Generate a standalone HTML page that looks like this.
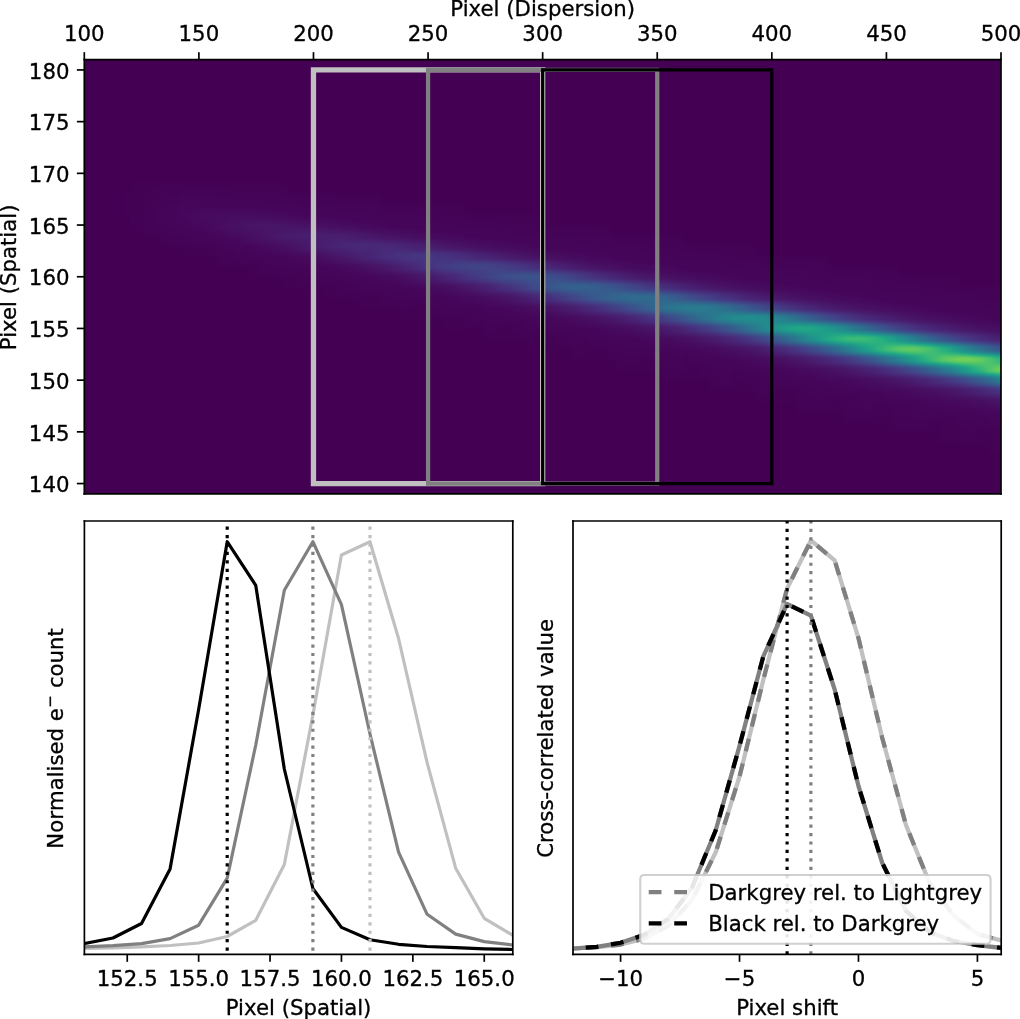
<!DOCTYPE html>
<html><head><meta charset="utf-8"><title>Spectrum</title>
<style>html,body{margin:0;padding:0;background:#fff;}svg{display:block;}</style>
</head><body>
<svg width="1020" height="1019" viewBox="0 0 480 479.529412">
<defs>
<style type="text/css">*{stroke-linejoin: round; stroke-linecap: butt} text{stroke:#000;stroke-width:0.15px;stroke-linejoin:round}</style>
</defs>
<g id="figure_1">
<g id="patch_1">
<path d="M 0 479.529412
L 480 479.529412
L 480 0
L 0 0
z
" style="fill: #ffffff"/>
</g>
<g id="axes_1">
<g id="patch_2">
<path d="M 39.670588 232.423529
L 471.058824 232.423529
L 471.058824 28.047059
L 39.670588 28.047059
z
" style="fill: #440154"/>
</g>
<g id="spec" clip-path="url(#pfa5c874147)"><g transform="scale(0.470588)"><rect x="80" y="55" width="925" height="443" fill="#440154"/><defs><filter id="bl" x="-5%" y="-5%" width="110%" height="110%" color-interpolation-filters="sRGB"><feGaussianBlur stdDeviation="1.5 0.6"/></filter><linearGradient id="g0" gradientUnits="userSpaceOnUse" x1="0" y1="194.03" x2="0" y2="214.71"><stop offset="0" stop-color="#440255"/><stop offset=".9913" stop-color="#440255"/></linearGradient><linearGradient id="g1" gradientUnits="userSpaceOnUse" x1="0" y1="183.69" x2="0" y2="225.05"><stop offset="0" stop-color="#440154"/><stop offset=".9913" stop-color="#440254"/></linearGradient><linearGradient id="g2" gradientUnits="userSpaceOnUse" x1="0" y1="183.69" x2="0" y2="225.05"><stop offset="0" stop-color="#440254"/><stop offset=".955" stop-color="#440255"/><stop offset=".9913" stop-color="#440255"/></linearGradient><linearGradient id="g3" gradientUnits="userSpaceOnUse" x1="0" y1="183.69" x2="0" y2="235.39"><stop offset="0" stop-color="#440254"/><stop offset=".6963" stop-color="#440256"/><stop offset=".9961" stop-color="#440154"/></linearGradient><linearGradient id="g4" gradientUnits="userSpaceOnUse" x1="0" y1="183.69" x2="0" y2="235.39"><stop offset="0" stop-color="#440254"/><stop offset=".677" stop-color="#450356"/><stop offset=".9961" stop-color="#440254"/></linearGradient><linearGradient id="g5" gradientUnits="userSpaceOnUse" x1="0" y1="183.69" x2="0" y2="235.39"><stop offset="0" stop-color="#440254"/><stop offset=".6673" stop-color="#450357"/><stop offset=".9961" stop-color="#440255"/></linearGradient><linearGradient id="g6" gradientUnits="userSpaceOnUse" x1="0" y1="183.69" x2="0" y2="235.39"><stop offset="0" stop-color="#440255"/><stop offset=".6576" stop-color="#450457"/><stop offset=".9961" stop-color="#440255"/></linearGradient><linearGradient id="g7" gradientUnits="userSpaceOnUse" x1="0" y1="183.69" x2="0" y2="245.73"><stop offset="0" stop-color="#440255"/><stop offset=".548" stop-color="#450558"/><stop offset=".9993" stop-color="#440154"/></linearGradient><linearGradient id="g8" gradientUnits="userSpaceOnUse" x1="0" y1="183.69" x2="0" y2="245.73"><stop offset="0" stop-color="#440255"/><stop offset=".5561" stop-color="#450559"/><stop offset=".9993" stop-color="#440254"/></linearGradient><linearGradient id="g9" gradientUnits="userSpaceOnUse" x1="0" y1="183.69" x2="0" y2="245.73"><stop offset="0" stop-color="#440255"/><stop offset=".5641" stop-color="#450659"/><stop offset=".9993" stop-color="#440254"/></linearGradient><linearGradient id="g10" gradientUnits="userSpaceOnUse" x1="0" y1="183.69" x2="0" y2="245.73"><stop offset="0" stop-color="#440255"/><stop offset=".5561" stop-color="#45065a"/><stop offset=".9993" stop-color="#440255"/></linearGradient><linearGradient id="g11" gradientUnits="userSpaceOnUse" x1="0" y1="183.69" x2="0" y2="245.73"><stop offset="0" stop-color="#440255"/><stop offset=".5561" stop-color="#46075b"/><stop offset=".9993" stop-color="#440255"/></linearGradient><linearGradient id="g12" gradientUnits="userSpaceOnUse" x1="0" y1="183.69" x2="0" y2="245.73"><stop offset="0" stop-color="#440255"/><stop offset=".4432" stop-color="#46085b"/><stop offset=".7334" stop-color="#450558"/><stop offset=".9993" stop-color="#440255"/></linearGradient><linearGradient id="g13" gradientUnits="userSpaceOnUse" x1="0" y1="183.69" x2="0" y2="256.07"><stop offset="0" stop-color="#440255"/><stop offset=".3523" stop-color="#46075b"/><stop offset=".4835" stop-color="#46085c"/><stop offset=".8773" stop-color="#440255"/><stop offset=".9947" stop-color="#440254"/></linearGradient><linearGradient id="g14" gradientUnits="userSpaceOnUse" x1="0" y1="183.69" x2="0" y2="256.07"><stop offset="0" stop-color="#440255"/><stop offset=".3454" stop-color="#46075b"/><stop offset=".4766" stop-color="#46095d"/><stop offset=".8773" stop-color="#440255"/><stop offset=".9947" stop-color="#440254"/></linearGradient><linearGradient id="g15" gradientUnits="userSpaceOnUse" x1="0" y1="183.69" x2="0" y2="256.07"><stop offset="0" stop-color="#440255"/><stop offset=".3316" stop-color="#46075a"/><stop offset=".4628" stop-color="#460a5d"/><stop offset=".8911" stop-color="#440255"/><stop offset=".9947" stop-color="#440254"/></linearGradient><linearGradient id="g16" gradientUnits="userSpaceOnUse" x1="0" y1="183.69" x2="0" y2="256.07"><stop offset="0" stop-color="#440255"/><stop offset=".3316" stop-color="#46075a"/><stop offset=".4559" stop-color="#460b5e"/><stop offset=".6493" stop-color="#45065a"/><stop offset=".9878" stop-color="#440255"/><stop offset=".9947" stop-color="#440255"/></linearGradient><linearGradient id="g17" gradientUnits="userSpaceOnUse" x1="0" y1="183.69" x2="0" y2="256.07"><stop offset="0" stop-color="#440255"/><stop offset=".3247" stop-color="#45065a"/><stop offset=".4559" stop-color="#460b5e"/><stop offset=".6355" stop-color="#46085b"/><stop offset=".9049" stop-color="#440255"/><stop offset=".9947" stop-color="#440255"/></linearGradient><linearGradient id="g18" gradientUnits="userSpaceOnUse" x1="0" y1="183.69" x2="0" y2="256.07"><stop offset="0" stop-color="#440255"/><stop offset=".3247" stop-color="#45065a"/><stop offset=".449" stop-color="#460b5e"/><stop offset=".6286" stop-color="#46095d"/><stop offset=".8496" stop-color="#450356"/><stop offset=".9947" stop-color="#440255"/></linearGradient><linearGradient id="g19" gradientUnits="userSpaceOnUse" x1="0" y1="183.69" x2="0" y2="256.07"><stop offset="0" stop-color="#440255"/><stop offset=".3247" stop-color="#450659"/><stop offset=".449" stop-color="#460b5e"/><stop offset=".6217" stop-color="#460b5e"/><stop offset=".8289" stop-color="#450356"/><stop offset=".9947" stop-color="#440255"/></linearGradient><linearGradient id="g20" gradientUnits="userSpaceOnUse" x1="0" y1="183.69" x2="0" y2="266.41"><stop offset="0" stop-color="#440254"/><stop offset=".2841" stop-color="#450659"/><stop offset=".3929" stop-color="#460b5f"/><stop offset=".5379" stop-color="#470c5f"/><stop offset=".7132" stop-color="#450457"/><stop offset=".9973" stop-color="#440254"/></linearGradient><linearGradient id="g21" gradientUnits="userSpaceOnUse" x1="0" y1="183.69" x2="0" y2="266.41"><stop offset="0" stop-color="#440254"/><stop offset=".2841" stop-color="#450659"/><stop offset=".3929" stop-color="#460b5f"/><stop offset=".5319" stop-color="#470d60"/><stop offset=".7313" stop-color="#450457"/><stop offset=".9973" stop-color="#440254"/></linearGradient><linearGradient id="g22" gradientUnits="userSpaceOnUse" x1="0" y1="183.69" x2="0" y2="266.41"><stop offset="0" stop-color="#440254"/><stop offset=".2841" stop-color="#450659"/><stop offset=".3929" stop-color="#460c5f"/><stop offset=".5258" stop-color="#470f62"/><stop offset=".7495" stop-color="#450457"/><stop offset=".9973" stop-color="#440254"/></linearGradient><linearGradient id="g23" gradientUnits="userSpaceOnUse" x1="0" y1="183.69" x2="0" y2="266.41"><stop offset="0" stop-color="#440254"/><stop offset=".2841" stop-color="#450659"/><stop offset=".3929" stop-color="#460c5f"/><stop offset=".5198" stop-color="#471063"/><stop offset=".7676" stop-color="#450458"/><stop offset=".9973" stop-color="#440255"/></linearGradient><linearGradient id="g24" gradientUnits="userSpaceOnUse" x1="0" y1="183.69" x2="0" y2="266.41"><stop offset="0" stop-color="#440254"/><stop offset=".2841" stop-color="#450559"/><stop offset=".5017" stop-color="#471264"/><stop offset=".7011" stop-color="#46075b"/><stop offset=".9671" stop-color="#440255"/><stop offset=".9973" stop-color="#440255"/></linearGradient><linearGradient id="g25" gradientUnits="userSpaceOnUse" x1="0" y1="183.69" x2="0" y2="266.41"><stop offset="0" stop-color="#440254"/><stop offset=".2901" stop-color="#450659"/><stop offset=".5077" stop-color="#471265"/><stop offset=".689" stop-color="#46095d"/><stop offset=".822" stop-color="#450457"/><stop offset=".9973" stop-color="#440255"/></linearGradient><linearGradient id="g26" gradientUnits="userSpaceOnUse" x1="0" y1="183.69" x2="0" y2="266.41"><stop offset="0" stop-color="#440254"/><stop offset=".2901" stop-color="#450659"/><stop offset=".5077" stop-color="#481366"/><stop offset=".683" stop-color="#460b5e"/><stop offset=".7616" stop-color="#45065a"/><stop offset=".9973" stop-color="#440255"/></linearGradient><linearGradient id="g27" gradientUnits="userSpaceOnUse" x1="0" y1="183.69" x2="0" y2="276.75"><stop offset="0" stop-color="#440254"/><stop offset=".2579" stop-color="#450559"/><stop offset=".3922" stop-color="#471062"/><stop offset=".4567" stop-color="#481466"/><stop offset=".6017" stop-color="#470d60"/><stop offset=".6716" stop-color="#46075b"/><stop offset=".8757" stop-color="#440255"/><stop offset=".9993" stop-color="#440254"/></linearGradient><linearGradient id="g28" gradientUnits="userSpaceOnUse" x1="0" y1="183.69" x2="0" y2="276.75"><stop offset="0" stop-color="#440254"/><stop offset=".2579" stop-color="#450559"/><stop offset=".3868" stop-color="#470f62"/><stop offset=".4513" stop-color="#481467"/><stop offset=".5964" stop-color="#470f62"/><stop offset=".6662" stop-color="#46085b"/><stop offset=".8542" stop-color="#440255"/><stop offset=".9993" stop-color="#440254"/></linearGradient><linearGradient id="g29" gradientUnits="userSpaceOnUse" x1="0" y1="183.69" x2="0" y2="276.75"><stop offset="0" stop-color="#440254"/><stop offset=".2633" stop-color="#450559"/><stop offset=".3815" stop-color="#470e61"/><stop offset=".4459" stop-color="#481467"/><stop offset=".591" stop-color="#471164"/><stop offset=".6662" stop-color="#46095c"/><stop offset=".822" stop-color="#450356"/><stop offset=".9993" stop-color="#440254"/></linearGradient><linearGradient id="g30" gradientUnits="userSpaceOnUse" x1="0" y1="183.69" x2="0" y2="276.75"><stop offset="0" stop-color="#440254"/><stop offset=".2633" stop-color="#450559"/><stop offset=".3761" stop-color="#470d60"/><stop offset=".4406" stop-color="#481567"/><stop offset=".5856" stop-color="#471365"/><stop offset=".6662" stop-color="#460a5e"/><stop offset=".8059" stop-color="#450457"/><stop offset=".9993" stop-color="#440255"/></linearGradient><linearGradient id="g31" gradientUnits="userSpaceOnUse" x1="0" y1="183.69" x2="0" y2="276.75"><stop offset="0" stop-color="#440254"/><stop offset=".2686" stop-color="#450559"/><stop offset=".3761" stop-color="#470d60"/><stop offset=".4406" stop-color="#481567"/><stop offset=".5802" stop-color="#481567"/><stop offset=".6662" stop-color="#460c5f"/><stop offset=".7951" stop-color="#450458"/><stop offset=".9993" stop-color="#440255"/></linearGradient><linearGradient id="g32" gradientUnits="userSpaceOnUse" x1="0" y1="183.69" x2="0" y2="276.75"><stop offset="0" stop-color="#440254"/><stop offset=".2686" stop-color="#450559"/><stop offset=".3707" stop-color="#460c5f"/><stop offset=".4406" stop-color="#481467"/><stop offset=".5749" stop-color="#481769"/><stop offset=".6662" stop-color="#470d60"/><stop offset=".7898" stop-color="#450558"/><stop offset=".9993" stop-color="#440255"/></linearGradient><linearGradient id="g33" gradientUnits="userSpaceOnUse" x1="0" y1="183.69" x2="0" y2="276.75"><stop offset="0" stop-color="#440254"/><stop offset=".2686" stop-color="#450558"/><stop offset=".3707" stop-color="#460b5f"/><stop offset=".4406" stop-color="#481467"/><stop offset=".5695" stop-color="#48186b"/><stop offset=".6662" stop-color="#470e61"/><stop offset=".7844" stop-color="#450659"/><stop offset=".9993" stop-color="#440255"/></linearGradient><linearGradient id="g34" gradientUnits="userSpaceOnUse" x1="0" y1="183.69" x2="0" y2="287.09"><stop offset="0" stop-color="#440254"/><stop offset=".2466" stop-color="#450559"/><stop offset=".3336" stop-color="#460b5e"/><stop offset=".3965" stop-color="#481466"/><stop offset=".5125" stop-color="#481a6c"/><stop offset=".5996" stop-color="#471063"/><stop offset=".706" stop-color="#45065a"/><stop offset=".9042" stop-color="#440255"/><stop offset=".9961" stop-color="#440254"/></linearGradient><linearGradient id="g35" gradientUnits="userSpaceOnUse" x1="0" y1="183.69" x2="0" y2="287.09"><stop offset="0" stop-color="#440154"/><stop offset=".2466" stop-color="#450558"/><stop offset=".3336" stop-color="#460a5e"/><stop offset=".3965" stop-color="#481366"/><stop offset=".5077" stop-color="#481b6d"/><stop offset=".6044" stop-color="#471164"/><stop offset=".7011" stop-color="#46075a"/><stop offset=".8945" stop-color="#440255"/><stop offset=".9961" stop-color="#440254"/></linearGradient><linearGradient id="g36" gradientUnits="userSpaceOnUse" x1="0" y1="194.03" x2="0" y2="287.09"><stop offset="0" stop-color="#440255"/><stop offset=".1773" stop-color="#450559"/><stop offset=".2579" stop-color="#460a5d"/><stop offset=".3277" stop-color="#471365"/><stop offset=".4029" stop-color="#48196b"/><stop offset=".462" stop-color="#481b6d"/><stop offset=".5588" stop-color="#481366"/><stop offset=".6662" stop-color="#46085b"/><stop offset=".8596" stop-color="#440255"/><stop offset=".9993" stop-color="#440254"/></linearGradient><linearGradient id="g37" gradientUnits="userSpaceOnUse" x1="0" y1="194.03" x2="0" y2="287.09"><stop offset="0" stop-color="#440255"/><stop offset=".1827" stop-color="#450559"/><stop offset=".2579" stop-color="#46095d"/><stop offset=".3277" stop-color="#471265"/><stop offset=".3922" stop-color="#48186a"/><stop offset=".4513" stop-color="#481d6e"/><stop offset=".6017" stop-color="#471163"/><stop offset=".6662" stop-color="#46095c"/><stop offset=".8274" stop-color="#450356"/><stop offset=".9993" stop-color="#440254"/></linearGradient><linearGradient id="g38" gradientUnits="userSpaceOnUse" x1="0" y1="194.03" x2="0" y2="287.09"><stop offset="0" stop-color="#440255"/><stop offset=".188" stop-color="#450559"/><stop offset=".2633" stop-color="#460a5d"/><stop offset=".3277" stop-color="#471164"/><stop offset=".3868" stop-color="#481769"/><stop offset=".4459" stop-color="#481d6f"/><stop offset=".5964" stop-color="#481366"/><stop offset=".6608" stop-color="#460a5d"/><stop offset=".8113" stop-color="#450457"/><stop offset=".9993" stop-color="#440255"/></linearGradient><linearGradient id="g39" gradientUnits="userSpaceOnUse" x1="0" y1="194.03" x2="0" y2="287.09"><stop offset="0" stop-color="#440255"/><stop offset=".2364" stop-color="#45065a"/><stop offset=".3331" stop-color="#471163"/><stop offset=".3922" stop-color="#48186a"/><stop offset=".4459" stop-color="#481e6f"/><stop offset=".591" stop-color="#481568"/><stop offset=".6608" stop-color="#460b5e"/><stop offset=".8005" stop-color="#450457"/><stop offset=".9993" stop-color="#440255"/></linearGradient><linearGradient id="g40" gradientUnits="userSpaceOnUse" x1="0" y1="194.03" x2="0" y2="287.09"><stop offset="0" stop-color="#440255"/><stop offset=".2418" stop-color="#45065a"/><stop offset=".3331" stop-color="#471063"/><stop offset=".3868" stop-color="#481769"/><stop offset=".4406" stop-color="#481e70"/><stop offset=".5856" stop-color="#48186a"/><stop offset=".6608" stop-color="#470c5f"/><stop offset=".7898" stop-color="#450558"/><stop offset=".9993" stop-color="#440255"/></linearGradient><linearGradient id="g41" gradientUnits="userSpaceOnUse" x1="0" y1="194.03" x2="0" y2="287.09"><stop offset="0" stop-color="#440255"/><stop offset=".2418" stop-color="#450659"/><stop offset=".3331" stop-color="#470f62"/><stop offset=".3868" stop-color="#481669"/><stop offset=".4406" stop-color="#481e70"/><stop offset=".5856" stop-color="#481a6c"/><stop offset=".6608" stop-color="#470e61"/><stop offset=".7898" stop-color="#450559"/><stop offset=".9993" stop-color="#440255"/></linearGradient><linearGradient id="g42" gradientUnits="userSpaceOnUse" x1="0" y1="194.03" x2="0" y2="287.09"><stop offset="0" stop-color="#440255"/><stop offset=".2471" stop-color="#45065a"/><stop offset=".3331" stop-color="#470e61"/><stop offset=".3815" stop-color="#481567"/><stop offset=".4352" stop-color="#481e6f"/><stop offset=".5802" stop-color="#481c6e"/><stop offset=".6608" stop-color="#470f62"/><stop offset=".7307" stop-color="#46095d"/><stop offset=".8059" stop-color="#450559"/><stop offset=".9993" stop-color="#440255"/></linearGradient><linearGradient id="g43" gradientUnits="userSpaceOnUse" x1="0" y1="194.03" x2="0" y2="297.43"><stop offset="0" stop-color="#440255"/><stop offset=".2224" stop-color="#450659"/><stop offset=".3046" stop-color="#470e61"/><stop offset=".3578" stop-color="#48186a"/><stop offset=".4013" stop-color="#481e6f"/><stop offset=".5174" stop-color="#481f70"/><stop offset=".5948" stop-color="#471164"/><stop offset=".6528" stop-color="#460b5e"/><stop offset=".706" stop-color="#45065a"/><stop offset=".9042" stop-color="#440255"/><stop offset=".9961" stop-color="#440254"/></linearGradient><linearGradient id="g44" gradientUnits="userSpaceOnUse" x1="0" y1="194.03" x2="0" y2="297.43"><stop offset="0" stop-color="#440255"/><stop offset=".2273" stop-color="#450659"/><stop offset=".3336" stop-color="#471164"/><stop offset=".3917" stop-color="#481d6f"/><stop offset=".5125" stop-color="#482172"/><stop offset=".5948" stop-color="#471365"/><stop offset=".6479" stop-color="#470d60"/><stop offset=".7011" stop-color="#46075b"/><stop offset=".8897" stop-color="#440255"/><stop offset=".9961" stop-color="#440254"/></linearGradient><linearGradient id="g45" gradientUnits="userSpaceOnUse" x1="0" y1="194.03" x2="0" y2="297.43"><stop offset="0" stop-color="#440255"/><stop offset=".2273" stop-color="#450659"/><stop offset=".3288" stop-color="#471062"/><stop offset=".3917" stop-color="#481d6e"/><stop offset=".5077" stop-color="#482374"/><stop offset=".5948" stop-color="#481567"/><stop offset=".6479" stop-color="#470f62"/><stop offset=".6963" stop-color="#46085b"/><stop offset=".8752" stop-color="#440255"/><stop offset=".9961" stop-color="#440254"/></linearGradient><linearGradient id="g46" gradientUnits="userSpaceOnUse" x1="0" y1="194.03" x2="0" y2="297.43"><stop offset="0" stop-color="#440254"/><stop offset=".2321" stop-color="#450659"/><stop offset=".3288" stop-color="#470f62"/><stop offset=".3917" stop-color="#481c6e"/><stop offset=".5077" stop-color="#482475"/><stop offset=".5948" stop-color="#481769"/><stop offset=".6431" stop-color="#471164"/><stop offset=".6963" stop-color="#46095c"/><stop offset=".8462" stop-color="#450356"/><stop offset=".9961" stop-color="#440254"/></linearGradient><linearGradient id="g47" gradientUnits="userSpaceOnUse" x1="0" y1="194.03" x2="0" y2="297.43"><stop offset="0" stop-color="#440254"/><stop offset=".2321" stop-color="#450559"/><stop offset=".3288" stop-color="#470e61"/><stop offset=".3917" stop-color="#481b6d"/><stop offset=".4497" stop-color="#482172"/><stop offset=".5029" stop-color="#482676"/><stop offset=".5609" stop-color="#481d6f"/><stop offset=".6431" stop-color="#481366"/><stop offset=".6963" stop-color="#460a5d"/><stop offset=".8268" stop-color="#450457"/><stop offset=".9961" stop-color="#440255"/></linearGradient><linearGradient id="g48" gradientUnits="userSpaceOnUse" x1="0" y1="194.03" x2="0" y2="297.43"><stop offset="0" stop-color="#440254"/><stop offset=".2369" stop-color="#450659"/><stop offset=".3288" stop-color="#470e60"/><stop offset=".3917" stop-color="#481a6c"/><stop offset=".44" stop-color="#481f70"/><stop offset=".498" stop-color="#482777"/><stop offset=".5512" stop-color="#482172"/><stop offset=".5996" stop-color="#481b6d"/><stop offset=".6431" stop-color="#481567"/><stop offset=".6963" stop-color="#460b5e"/><stop offset=".8172" stop-color="#450458"/><stop offset=".9961" stop-color="#440255"/></linearGradient><linearGradient id="g49" gradientUnits="userSpaceOnUse" x1="0" y1="194.03" x2="0" y2="297.43"><stop offset="0" stop-color="#440254"/><stop offset=".2369" stop-color="#450559"/><stop offset=".3288" stop-color="#470d60"/><stop offset=".3917" stop-color="#48196b"/><stop offset=".4352" stop-color="#481d6f"/><stop offset=".4932" stop-color="#482878"/><stop offset=".5416" stop-color="#482475"/><stop offset=".5996" stop-color="#481d6f"/><stop offset=".6431" stop-color="#481769"/><stop offset=".6915" stop-color="#470d60"/><stop offset=".8123" stop-color="#450558"/><stop offset=".9961" stop-color="#440255"/></linearGradient><linearGradient id="g50" gradientUnits="userSpaceOnUse" x1="0" y1="194.03" x2="0" y2="297.43"><stop offset="0" stop-color="#440254"/><stop offset=".2418" stop-color="#450559"/><stop offset=".3288" stop-color="#470c5f"/><stop offset=".3917" stop-color="#48186a"/><stop offset=".4352" stop-color="#481d6f"/><stop offset=".4932" stop-color="#482878"/><stop offset=".5512" stop-color="#482474"/><stop offset=".6334" stop-color="#481b6d"/><stop offset=".6915" stop-color="#470e61"/><stop offset=".764" stop-color="#46085b"/><stop offset=".9574" stop-color="#440255"/><stop offset=".9961" stop-color="#440255"/></linearGradient><linearGradient id="g51" gradientUnits="userSpaceOnUse" x1="0" y1="194.03" x2="0" y2="307.77"><stop offset="0" stop-color="#440254"/><stop offset=".2198" stop-color="#450559"/><stop offset=".2989" stop-color="#460b5f"/><stop offset=".3561" stop-color="#481769"/><stop offset=".3912" stop-color="#481b6d"/><stop offset=".444" stop-color="#482878"/><stop offset=".4967" stop-color="#482676"/><stop offset=".5715" stop-color="#481e70"/><stop offset=".6286" stop-color="#471062"/><stop offset=".6857" stop-color="#460a5d"/><stop offset=".7385" stop-color="#450659"/><stop offset=".9363" stop-color="#440255"/><stop offset=".9978" stop-color="#440254"/></linearGradient><linearGradient id="g52" gradientUnits="userSpaceOnUse" x1="0" y1="194.03" x2="0" y2="307.77"><stop offset="0" stop-color="#440254"/><stop offset=".2242" stop-color="#450559"/><stop offset=".2989" stop-color="#460b5e"/><stop offset=".3561" stop-color="#481668"/><stop offset=".3912" stop-color="#481a6c"/><stop offset=".444" stop-color="#482978"/><stop offset=".5099" stop-color="#482576"/><stop offset=".5715" stop-color="#482072"/><stop offset=".6286" stop-color="#471164"/><stop offset=".6813" stop-color="#460c5f"/><stop offset=".7297" stop-color="#45065a"/><stop offset=".9187" stop-color="#440255"/><stop offset=".9978" stop-color="#440254"/></linearGradient><linearGradient id="g53" gradientUnits="userSpaceOnUse" x1="0" y1="194.03" x2="0" y2="307.77"><stop offset="0" stop-color="#440254"/><stop offset=".2242" stop-color="#450558"/><stop offset=".2989" stop-color="#460a5d"/><stop offset=".3561" stop-color="#481567"/><stop offset=".3912" stop-color="#48196c"/><stop offset=".444" stop-color="#482878"/><stop offset=".5627" stop-color="#482475"/><stop offset=".6286" stop-color="#481366"/><stop offset=".677" stop-color="#470e61"/><stop offset=".7253" stop-color="#46075a"/><stop offset=".9099" stop-color="#440255"/><stop offset=".9978" stop-color="#440254"/></linearGradient><linearGradient id="g54" gradientUnits="userSpaceOnUse" x1="0" y1="194.03" x2="0" y2="307.77"><stop offset="0" stop-color="#440254"/><stop offset=".2286" stop-color="#450558"/><stop offset=".2989" stop-color="#46095d"/><stop offset=".3561" stop-color="#481466"/><stop offset=".3868" stop-color="#48176a"/><stop offset=".4396" stop-color="#482777"/><stop offset=".5583" stop-color="#482777"/><stop offset=".6286" stop-color="#481567"/><stop offset=".677" stop-color="#470f62"/><stop offset=".7253" stop-color="#46085b"/><stop offset=".8923" stop-color="#440255"/><stop offset=".9978" stop-color="#440254"/></linearGradient><linearGradient id="g55" gradientUnits="userSpaceOnUse" x1="0" y1="194.03" x2="0" y2="307.77"><stop offset="0" stop-color="#440254"/><stop offset=".2286" stop-color="#450558"/><stop offset=".3033" stop-color="#460a5d"/><stop offset=".3605" stop-color="#471365"/><stop offset=".3912" stop-color="#48186a"/><stop offset=".4396" stop-color="#482777"/><stop offset=".5583" stop-color="#482979"/><stop offset=".6286" stop-color="#481769"/><stop offset=".6726" stop-color="#471265"/><stop offset=".7209" stop-color="#46095c"/><stop offset=".8704" stop-color="#450356"/><stop offset=".9978" stop-color="#440255"/></linearGradient><linearGradient id="g56" gradientUnits="userSpaceOnUse" x1="0" y1="204.37" x2="0" y2="307.77"><stop offset="0" stop-color="#440255"/><stop offset=".2128" stop-color="#46065a"/><stop offset=".295" stop-color="#471264"/><stop offset=".3288" stop-color="#481668"/><stop offset=".3868" stop-color="#482677"/><stop offset=".5077" stop-color="#472c7b"/><stop offset=".5512" stop-color="#482273"/><stop offset=".5948" stop-color="#48196b"/><stop offset=".6383" stop-color="#481467"/><stop offset=".6963" stop-color="#460a5d"/><stop offset=".8317" stop-color="#450457"/><stop offset=".9961" stop-color="#440255"/></linearGradient><linearGradient id="g57" gradientUnits="userSpaceOnUse" x1="0" y1="204.37" x2="0" y2="307.77"><stop offset="0" stop-color="#440255"/><stop offset=".2176" stop-color="#46065a"/><stop offset=".295" stop-color="#471163"/><stop offset=".3288" stop-color="#481568"/><stop offset=".3868" stop-color="#482676"/><stop offset=".5077" stop-color="#472e7c"/><stop offset=".5561" stop-color="#482374"/><stop offset=".5948" stop-color="#481b6d"/><stop offset=".6383" stop-color="#481668"/><stop offset=".6915" stop-color="#460b5e"/><stop offset=".822" stop-color="#450457"/><stop offset=".9961" stop-color="#440255"/></linearGradient><linearGradient id="g58" gradientUnits="userSpaceOnUse" x1="0" y1="204.37" x2="0" y2="307.77"><stop offset="0" stop-color="#440255"/><stop offset=".2176" stop-color="#45065a"/><stop offset=".2998" stop-color="#471063"/><stop offset=".3336" stop-color="#481668"/><stop offset=".3868" stop-color="#482575"/><stop offset=".4497" stop-color="#472b7a"/><stop offset=".5029" stop-color="#46307e"/><stop offset=".5416" stop-color="#482979"/><stop offset=".5899" stop-color="#481e70"/><stop offset=".6334" stop-color="#48196b"/><stop offset=".6915" stop-color="#470c5f"/><stop offset=".8123" stop-color="#450558"/><stop offset=".9961" stop-color="#440255"/></linearGradient><linearGradient id="g59" gradientUnits="userSpaceOnUse" x1="0" y1="204.37" x2="0" y2="307.77"><stop offset="0" stop-color="#440255"/><stop offset=".2224" stop-color="#45065a"/><stop offset=".2998" stop-color="#470f62"/><stop offset=".3336" stop-color="#481567"/><stop offset=".3868" stop-color="#482374"/><stop offset=".44" stop-color="#482979"/><stop offset=".4932" stop-color="#46327e"/><stop offset=".5319" stop-color="#472e7c"/><stop offset=".5899" stop-color="#482072"/><stop offset=".6334" stop-color="#481c6d"/><stop offset=".6915" stop-color="#470e61"/><stop offset=".8075" stop-color="#450558"/><stop offset=".9961" stop-color="#440255"/></linearGradient><linearGradient id="g60" gradientUnits="userSpaceOnUse" x1="0" y1="204.37" x2="0" y2="318.11"><stop offset="0" stop-color="#440255"/><stop offset=".2022" stop-color="#450659"/><stop offset=".2725" stop-color="#470e61"/><stop offset=".3033" stop-color="#481466"/><stop offset=".3517" stop-color="#482273"/><stop offset=".3956" stop-color="#482878"/><stop offset=".4484" stop-color="#46337f"/><stop offset=".4835" stop-color="#472f7d"/><stop offset=".5363" stop-color="#482374"/><stop offset=".5715" stop-color="#481f71"/><stop offset=".6286" stop-color="#470f62"/><stop offset=".6901" stop-color="#46095c"/><stop offset=".7825" stop-color="#450457"/><stop offset=".9978" stop-color="#440254"/></linearGradient><linearGradient id="g61" gradientUnits="userSpaceOnUse" x1="0" y1="204.37" x2="0" y2="318.11"><stop offset="0" stop-color="#440255"/><stop offset=".2066" stop-color="#450659"/><stop offset=".2945" stop-color="#471063"/><stop offset=".3517" stop-color="#482172"/><stop offset=".3912" stop-color="#482676"/><stop offset=".444" stop-color="#463480"/><stop offset=".4791" stop-color="#46327f"/><stop offset=".5363" stop-color="#482676"/><stop offset=".5715" stop-color="#482273"/><stop offset=".6242" stop-color="#471164"/><stop offset=".6857" stop-color="#460b5e"/><stop offset=".7341" stop-color="#450659"/><stop offset=".9231" stop-color="#440255"/><stop offset=".9978" stop-color="#440254"/></linearGradient><linearGradient id="g62" gradientUnits="userSpaceOnUse" x1="0" y1="204.37" x2="0" y2="318.11"><stop offset="0" stop-color="#440255"/><stop offset=".2066" stop-color="#450659"/><stop offset=".2945" stop-color="#470f62"/><stop offset=".3517" stop-color="#481f71"/><stop offset=".3868" stop-color="#482374"/><stop offset=".444" stop-color="#463580"/><stop offset=".4791" stop-color="#46337f"/><stop offset=".5407" stop-color="#482878"/><stop offset=".5715" stop-color="#482475"/><stop offset=".6242" stop-color="#481366"/><stop offset=".6813" stop-color="#470d60"/><stop offset=".7297" stop-color="#46075a"/><stop offset=".9099" stop-color="#440255"/><stop offset=".9978" stop-color="#440254"/></linearGradient><linearGradient id="g63" gradientUnits="userSpaceOnUse" x1="0" y1="204.37" x2="0" y2="318.11"><stop offset="0" stop-color="#440255"/><stop offset=".211" stop-color="#450659"/><stop offset=".2945" stop-color="#470e61"/><stop offset=".3517" stop-color="#481e70"/><stop offset=".3868" stop-color="#482273"/><stop offset=".4396" stop-color="#463480"/><stop offset=".4747" stop-color="#463480"/><stop offset=".5451" stop-color="#472b7a"/><stop offset=".5758" stop-color="#482576"/><stop offset=".6242" stop-color="#481567"/><stop offset=".677" stop-color="#470f62"/><stop offset=".7253" stop-color="#46075b"/><stop offset=".9011" stop-color="#440255"/><stop offset=".9978" stop-color="#440254"/></linearGradient><linearGradient id="g64" gradientUnits="userSpaceOnUse" x1="0" y1="204.37" x2="0" y2="318.11"><stop offset="0" stop-color="#440255"/><stop offset=".211" stop-color="#450559"/><stop offset=".2945" stop-color="#470d60"/><stop offset=".3517" stop-color="#481c6e"/><stop offset=".3868" stop-color="#482172"/><stop offset=".4396" stop-color="#463480"/><stop offset=".4791" stop-color="#463580"/><stop offset=".5671" stop-color="#472b7a"/><stop offset=".6242" stop-color="#481769"/><stop offset=".677" stop-color="#471163"/><stop offset=".7253" stop-color="#46085c"/><stop offset=".8836" stop-color="#440255"/><stop offset=".9978" stop-color="#440255"/></linearGradient><linearGradient id="g65" gradientUnits="userSpaceOnUse" x1="0" y1="204.37" x2="0" y2="318.11"><stop offset="0" stop-color="#440255"/><stop offset=".2154" stop-color="#450559"/><stop offset=".2945" stop-color="#470d60"/><stop offset=".3517" stop-color="#481b6d"/><stop offset=".3868" stop-color="#482071"/><stop offset=".4396" stop-color="#463480"/><stop offset=".4835" stop-color="#463580"/><stop offset=".5627" stop-color="#472f7d"/><stop offset=".6242" stop-color="#48196b"/><stop offset=".6726" stop-color="#481366"/><stop offset=".7209" stop-color="#46095d"/><stop offset=".8572" stop-color="#450356"/><stop offset=".9978" stop-color="#440255"/></linearGradient><linearGradient id="g66" gradientUnits="userSpaceOnUse" x1="0" y1="204.37" x2="0" y2="318.11"><stop offset="0" stop-color="#440254"/><stop offset=".2198" stop-color="#450659"/><stop offset=".2945" stop-color="#460c5f"/><stop offset=".3517" stop-color="#48196c"/><stop offset=".3824" stop-color="#481d6f"/><stop offset=".4352" stop-color="#46327f"/><stop offset=".466" stop-color="#453580"/><stop offset=".5583" stop-color="#46327f"/><stop offset=".6022" stop-color="#482273"/><stop offset=".633" stop-color="#481a6c"/><stop offset=".6726" stop-color="#481568"/><stop offset=".7209" stop-color="#460a5e"/><stop offset=".844" stop-color="#450457"/><stop offset=".9978" stop-color="#440255"/></linearGradient><linearGradient id="g67" gradientUnits="userSpaceOnUse" x1="0" y1="204.37" x2="0" y2="318.11"><stop offset="0" stop-color="#440254"/><stop offset=".2198" stop-color="#450559"/><stop offset=".2945" stop-color="#460b5e"/><stop offset=".3561" stop-color="#48186b"/><stop offset=".3824" stop-color="#481c6e"/><stop offset=".4352" stop-color="#46317e"/><stop offset=".4703" stop-color="#463480"/><stop offset=".5583" stop-color="#453581"/><stop offset=".6022" stop-color="#482575"/><stop offset=".633" stop-color="#481d6f"/><stop offset=".6682" stop-color="#48186b"/><stop offset=".7209" stop-color="#460c5f"/><stop offset=".8352" stop-color="#450458"/><stop offset=".9978" stop-color="#440255"/></linearGradient><linearGradient id="g68" gradientUnits="userSpaceOnUse" x1="0" y1="204.37" x2="0" y2="318.11"><stop offset="0" stop-color="#440254"/><stop offset=".2242" stop-color="#450559"/><stop offset=".2989" stop-color="#460b5e"/><stop offset=".3561" stop-color="#481769"/><stop offset=".3824" stop-color="#481a6c"/><stop offset=".4352" stop-color="#46307e"/><stop offset=".5363" stop-color="#443982"/><stop offset=".5671" stop-color="#453681"/><stop offset=".6242" stop-color="#482172"/><stop offset=".6682" stop-color="#481b6d"/><stop offset=".7165" stop-color="#470d60"/><stop offset=".8264" stop-color="#450558"/><stop offset=".9978" stop-color="#440255"/></linearGradient><linearGradient id="g69" gradientUnits="userSpaceOnUse" x1="0" y1="204.37" x2="0" y2="328.45"><stop offset="0" stop-color="#440254"/><stop offset=".2055" stop-color="#450558"/><stop offset=".274" stop-color="#460a5e"/><stop offset=".3264" stop-color="#481668"/><stop offset=".3506" stop-color="#48196b"/><stop offset=".3989" stop-color="#472f7d"/><stop offset=".4997" stop-color="#443b84"/><stop offset=".5279" stop-color="#453580"/><stop offset=".5722" stop-color="#482374"/><stop offset=".6085" stop-color="#481e70"/><stop offset=".6568" stop-color="#470f61"/><stop offset=".7575" stop-color="#450559"/><stop offset=".9913" stop-color="#440254"/><stop offset=".9993" stop-color="#440254"/></linearGradient><linearGradient id="g70" gradientUnits="userSpaceOnUse" x1="0" y1="204.37" x2="0" y2="328.45"><stop offset="0" stop-color="#440254"/><stop offset=".2095" stop-color="#450559"/><stop offset=".274" stop-color="#460a5d"/><stop offset=".3264" stop-color="#481467"/><stop offset=".3506" stop-color="#48176a"/><stop offset=".3989" stop-color="#472d7c"/><stop offset=".4594" stop-color="#453782"/><stop offset=".4997" stop-color="#433d85"/><stop offset=".5279" stop-color="#453782"/><stop offset=".5722" stop-color="#482676"/><stop offset=".6085" stop-color="#482172"/><stop offset=".6568" stop-color="#471063"/><stop offset=".7132" stop-color="#460a5d"/><stop offset=".7656" stop-color="#450559"/><stop offset=".955" stop-color="#440255"/><stop offset=".9993" stop-color="#440254"/></linearGradient><linearGradient id="g71" gradientUnits="userSpaceOnUse" x1="0" y1="204.37" x2="0" y2="328.45"><stop offset="0" stop-color="#440254"/><stop offset=".2095" stop-color="#450558"/><stop offset=".274" stop-color="#46095c"/><stop offset=".3264" stop-color="#481366"/><stop offset=".3506" stop-color="#481669"/><stop offset=".3989" stop-color="#472c7a"/><stop offset=".4473" stop-color="#463380"/><stop offset=".4916" stop-color="#433f85"/><stop offset=".5198" stop-color="#433c84"/><stop offset=".5722" stop-color="#482979"/><stop offset=".6085" stop-color="#482374"/><stop offset=".6568" stop-color="#471264"/><stop offset=".7092" stop-color="#460c5f"/><stop offset=".7535" stop-color="#45065a"/><stop offset=".9308" stop-color="#440255"/><stop offset=".9993" stop-color="#440254"/></linearGradient><linearGradient id="g72" gradientUnits="userSpaceOnUse" x1="0" y1="204.37" x2="0" y2="328.45"><stop offset="0" stop-color="#440254"/><stop offset=".2136" stop-color="#450558"/><stop offset=".278" stop-color="#46095d"/><stop offset=".3304" stop-color="#471265"/><stop offset=".3546" stop-color="#481669"/><stop offset=".3989" stop-color="#482a79"/><stop offset=".4432" stop-color="#46317e"/><stop offset=".4876" stop-color="#424086"/><stop offset=".5158" stop-color="#423f85"/><stop offset=".5722" stop-color="#472c7b"/><stop offset=".6044" stop-color="#482878"/><stop offset=".6568" stop-color="#481466"/><stop offset=".7092" stop-color="#470d60"/><stop offset=".7495" stop-color="#46075a"/><stop offset=".9187" stop-color="#440255"/><stop offset=".9993" stop-color="#440254"/></linearGradient><linearGradient id="g73" gradientUnits="userSpaceOnUse" x1="0" y1="204.37" x2="0" y2="328.45"><stop offset="0" stop-color="#440254"/><stop offset=".2176" stop-color="#450558"/><stop offset=".278" stop-color="#46095c"/><stop offset=".3304" stop-color="#471164"/><stop offset=".3546" stop-color="#481568"/><stop offset=".4029" stop-color="#482979"/><stop offset=".4392" stop-color="#472f7d"/><stop offset=".4876" stop-color="#424186"/><stop offset=".5158" stop-color="#424086"/><stop offset=".5762" stop-color="#472f7d"/><stop offset=".6044" stop-color="#472b7a"/><stop offset=".6568" stop-color="#481668"/><stop offset=".7052" stop-color="#470f62"/><stop offset=".7495" stop-color="#46085b"/><stop offset=".9066" stop-color="#440255"/><stop offset=".9993" stop-color="#440255"/></linearGradient><linearGradient id="g74" gradientUnits="userSpaceOnUse" x1="0" y1="214.71" x2="0" y2="328.45"><stop offset="0" stop-color="#440255"/><stop offset=".1978" stop-color="#45065a"/><stop offset=".2725" stop-color="#471063"/><stop offset=".2989" stop-color="#481567"/><stop offset=".3473" stop-color="#482777"/><stop offset=".3868" stop-color="#472d7b"/><stop offset=".4396" stop-color="#424186"/><stop offset=".4703" stop-color="#414286"/><stop offset=".5363" stop-color="#46337f"/><stop offset=".5671" stop-color="#472f7d"/><stop offset=".6242" stop-color="#48186a"/><stop offset=".677" stop-color="#471164"/><stop offset=".7253" stop-color="#46085c"/><stop offset=".8792" stop-color="#450356"/><stop offset=".9978" stop-color="#440255"/></linearGradient><linearGradient id="g75" gradientUnits="userSpaceOnUse" x1="0" y1="214.71" x2="0" y2="328.45"><stop offset="0" stop-color="#440255"/><stop offset=".2022" stop-color="#45065a"/><stop offset=".2725" stop-color="#470f62"/><stop offset=".3033" stop-color="#481568"/><stop offset=".3473" stop-color="#482576"/><stop offset=".3824" stop-color="#482a79"/><stop offset=".4352" stop-color="#424186"/><stop offset=".4616" stop-color="#414387"/><stop offset=".5407" stop-color="#453681"/><stop offset=".5671" stop-color="#46327f"/><stop offset=".6242" stop-color="#481a6c"/><stop offset=".6726" stop-color="#481466"/><stop offset=".7209" stop-color="#460a5d"/><stop offset=".8528" stop-color="#450357"/><stop offset=".9978" stop-color="#440255"/></linearGradient><linearGradient id="g76" gradientUnits="userSpaceOnUse" x1="0" y1="214.71" x2="0" y2="328.45"><stop offset="0" stop-color="#440255"/><stop offset=".2022" stop-color="#450659"/><stop offset=".2945" stop-color="#471164"/><stop offset=".3473" stop-color="#482374"/><stop offset=".3824" stop-color="#482878"/><stop offset=".4352" stop-color="#424186"/><stop offset=".4616" stop-color="#414487"/><stop offset=".5671" stop-color="#453581"/><stop offset=".6198" stop-color="#481e6f"/><stop offset=".6726" stop-color="#481668"/><stop offset=".7209" stop-color="#460b5e"/><stop offset=".8396" stop-color="#450457"/><stop offset=".9978" stop-color="#440255"/></linearGradient><linearGradient id="g77" gradientUnits="userSpaceOnUse" x1="0" y1="214.71" x2="0" y2="328.45"><stop offset="0" stop-color="#440255"/><stop offset=".2066" stop-color="#450659"/><stop offset=".2945" stop-color="#471063"/><stop offset=".3517" stop-color="#482273"/><stop offset=".3824" stop-color="#482677"/><stop offset=".4352" stop-color="#424086"/><stop offset=".4616" stop-color="#414387"/><stop offset=".5627" stop-color="#443a83"/><stop offset=".6066" stop-color="#482676"/><stop offset=".633" stop-color="#481e70"/><stop offset=".6682" stop-color="#48196b"/><stop offset=".7209" stop-color="#460c5f"/><stop offset=".8308" stop-color="#450458"/><stop offset=".9978" stop-color="#440255"/></linearGradient><linearGradient id="g78" gradientUnits="userSpaceOnUse" x1="0" y1="214.71" x2="0" y2="338.79"><stop offset="0" stop-color="#440255"/><stop offset=".1934" stop-color="#45065a"/><stop offset=".27" stop-color="#470f62"/><stop offset=".3224" stop-color="#482072"/><stop offset=".3506" stop-color="#482575"/><stop offset=".3949" stop-color="#433e85"/><stop offset=".415" stop-color="#414387"/><stop offset=".5117" stop-color="#423f85"/><stop offset=".544" stop-color="#472f7d"/><stop offset=".5722" stop-color="#482273"/><stop offset=".6125" stop-color="#481c6d"/><stop offset=".6568" stop-color="#470e61"/><stop offset=".7575" stop-color="#450558"/><stop offset=".9993" stop-color="#440254"/></linearGradient><linearGradient id="g79" gradientUnits="userSpaceOnUse" x1="0" y1="214.71" x2="0" y2="338.79"><stop offset="0" stop-color="#440255"/><stop offset=".1934" stop-color="#450659"/><stop offset=".27" stop-color="#470e61"/><stop offset=".3224" stop-color="#481e70"/><stop offset=".3506" stop-color="#482374"/><stop offset=".3949" stop-color="#433c84"/><stop offset=".415" stop-color="#424286"/><stop offset=".5077" stop-color="#414387"/><stop offset=".5319" stop-color="#443a83"/><stop offset=".5682" stop-color="#482677"/><stop offset=".6125" stop-color="#481e70"/><stop offset=".6568" stop-color="#470f62"/><stop offset=".7575" stop-color="#450559"/><stop offset=".9832" stop-color="#440254"/><stop offset=".9993" stop-color="#440254"/></linearGradient><linearGradient id="g80" gradientUnits="userSpaceOnUse" x1="0" y1="214.71" x2="0" y2="338.79"><stop offset="0" stop-color="#440255"/><stop offset=".1974" stop-color="#450659"/><stop offset=".27" stop-color="#470d60"/><stop offset=".3224" stop-color="#481d6e"/><stop offset=".3506" stop-color="#482172"/><stop offset=".3949" stop-color="#443b84"/><stop offset=".415" stop-color="#424086"/><stop offset=".5037" stop-color="#404788"/><stop offset=".5279" stop-color="#423f85"/><stop offset=".5682" stop-color="#482979"/><stop offset=".6085" stop-color="#482273"/><stop offset=".6568" stop-color="#471163"/><stop offset=".7132" stop-color="#460a5d"/><stop offset=".7616" stop-color="#450659"/><stop offset=".9469" stop-color="#440255"/><stop offset=".9993" stop-color="#440254"/></linearGradient><linearGradient id="g81" gradientUnits="userSpaceOnUse" x1="0" y1="214.71" x2="0" y2="338.79"><stop offset="0" stop-color="#440255"/><stop offset=".1974" stop-color="#450559"/><stop offset=".27" stop-color="#470c5f"/><stop offset=".3224" stop-color="#481b6d"/><stop offset=".3506" stop-color="#481f71"/><stop offset=".3949" stop-color="#443983"/><stop offset=".415" stop-color="#433f85"/><stop offset=".4634" stop-color="#404588"/><stop offset=".5037" stop-color="#3e4989"/><stop offset=".5279" stop-color="#414287"/><stop offset=".5682" stop-color="#472d7b"/><stop offset=".6085" stop-color="#482576"/><stop offset=".6568" stop-color="#471265"/><stop offset=".7092" stop-color="#460c5f"/><stop offset=".7535" stop-color="#45065a"/><stop offset=".9268" stop-color="#440255"/><stop offset=".9993" stop-color="#440254"/></linearGradient><linearGradient id="g82" gradientUnits="userSpaceOnUse" x1="0" y1="214.71" x2="0" y2="338.79"><stop offset="0" stop-color="#440255"/><stop offset=".2015" stop-color="#450659"/><stop offset=".27" stop-color="#460c5f"/><stop offset=".3224" stop-color="#48196b"/><stop offset=".3506" stop-color="#481e6f"/><stop offset=".3949" stop-color="#453782"/><stop offset=".415" stop-color="#433d84"/><stop offset=".4513" stop-color="#414287"/><stop offset=".4956" stop-color="#3d4c8a"/><stop offset=".5198" stop-color="#3f4889"/><stop offset=".5722" stop-color="#472f7d"/><stop offset=".6044" stop-color="#482a79"/><stop offset=".6528" stop-color="#481567"/><stop offset=".7132" stop-color="#470c5f"/><stop offset=".7535" stop-color="#46075b"/><stop offset=".9147" stop-color="#440255"/><stop offset=".9993" stop-color="#440255"/></linearGradient><linearGradient id="g83" gradientUnits="userSpaceOnUse" x1="0" y1="214.71" x2="0" y2="338.79"><stop offset="0" stop-color="#440255"/><stop offset=".2055" stop-color="#450659"/><stop offset=".27" stop-color="#460b5e"/><stop offset=".3264" stop-color="#48186a"/><stop offset=".3506" stop-color="#481c6e"/><stop offset=".3949" stop-color="#453581"/><stop offset=".415" stop-color="#443a83"/><stop offset=".4432" stop-color="#423f85"/><stop offset=".4876" stop-color="#3d4d8a"/><stop offset=".5117" stop-color="#3d4d8a"/><stop offset=".544" stop-color="#423f85"/><stop offset=".5722" stop-color="#46337f"/><stop offset=".6044" stop-color="#472d7c"/><stop offset=".6528" stop-color="#481769"/><stop offset=".7092" stop-color="#470e61"/><stop offset=".7495" stop-color="#46085b"/><stop offset=".9026" stop-color="#440255"/><stop offset=".9993" stop-color="#440255"/></linearGradient><linearGradient id="g84" gradientUnits="userSpaceOnUse" x1="0" y1="214.71" x2="0" y2="338.79"><stop offset="0" stop-color="#440254"/><stop offset=".2055" stop-color="#450559"/><stop offset=".274" stop-color="#460b5e"/><stop offset=".3264" stop-color="#481769"/><stop offset=".3506" stop-color="#481a6c"/><stop offset=".3949" stop-color="#46337f"/><stop offset=".4191" stop-color="#453882"/><stop offset=".4473" stop-color="#423f85"/><stop offset=".4876" stop-color="#3c4f8a"/><stop offset=".5117" stop-color="#3c4f8a"/><stop offset=".548" stop-color="#424086"/><stop offset=".5762" stop-color="#453681"/><stop offset=".6044" stop-color="#46317e"/><stop offset=".6528" stop-color="#48196b"/><stop offset=".7052" stop-color="#471164"/><stop offset=".7455" stop-color="#46095c"/><stop offset=".8865" stop-color="#450356"/><stop offset=".9993" stop-color="#440255"/></linearGradient><linearGradient id="g85" gradientUnits="userSpaceOnUse" x1="0" y1="214.71" x2="0" y2="338.79"><stop offset="0" stop-color="#440254"/><stop offset=".2095" stop-color="#450559"/><stop offset=".274" stop-color="#460a5d"/><stop offset=".3264" stop-color="#481567"/><stop offset=".3506" stop-color="#48196b"/><stop offset=".3989" stop-color="#46327f"/><stop offset=".4392" stop-color="#443a83"/><stop offset=".4835" stop-color="#3c4f8a"/><stop offset=".5077" stop-color="#3b518b"/><stop offset=".5399" stop-color="#404688"/><stop offset=".5722" stop-color="#443b83"/><stop offset=".6004" stop-color="#453681"/><stop offset=".6367" stop-color="#482374"/><stop offset=".6608" stop-color="#481a6c"/><stop offset=".7011" stop-color="#481466"/><stop offset=".7455" stop-color="#460a5d"/><stop offset=".8663" stop-color="#450357"/><stop offset=".9993" stop-color="#440255"/></linearGradient><linearGradient id="g86" gradientUnits="userSpaceOnUse" x1="0" y1="214.71" x2="0" y2="338.79"><stop offset="0" stop-color="#440254"/><stop offset=".2095" stop-color="#450558"/><stop offset=".274" stop-color="#46095d"/><stop offset=".3264" stop-color="#481466"/><stop offset=".3506" stop-color="#48176a"/><stop offset=".3989" stop-color="#47307d"/><stop offset=".4352" stop-color="#453781"/><stop offset=".4835" stop-color="#3c508b"/><stop offset=".5077" stop-color="#3b528b"/><stop offset=".544" stop-color="#3f4788"/><stop offset=".5762" stop-color="#433e85"/><stop offset=".6004" stop-color="#443a83"/><stop offset=".6367" stop-color="#482676"/><stop offset=".6608" stop-color="#481c6e"/><stop offset=".6971" stop-color="#481769"/><stop offset=".7455" stop-color="#460b5e"/><stop offset=".8542" stop-color="#450457"/><stop offset=".9993" stop-color="#440255"/></linearGradient><linearGradient id="g87" gradientUnits="userSpaceOnUse" x1="0" y1="214.71" x2="0" y2="338.79"><stop offset="0" stop-color="#440254"/><stop offset=".2136" stop-color="#450558"/><stop offset=".278" stop-color="#460a5d"/><stop offset=".3304" stop-color="#471365"/><stop offset=".3546" stop-color="#48176a"/><stop offset=".3989" stop-color="#472d7c"/><stop offset=".4352" stop-color="#453580"/><stop offset=".4835" stop-color="#3c508b"/><stop offset=".5077" stop-color="#3a538b"/><stop offset=".5762" stop-color="#414287"/><stop offset=".6004" stop-color="#433e85"/><stop offset=".6326" stop-color="#472b7a"/><stop offset=".6568" stop-color="#482071"/><stop offset=".6971" stop-color="#48196b"/><stop offset=".7414" stop-color="#470c5f"/><stop offset=".8462" stop-color="#450558"/><stop offset=".9993" stop-color="#440255"/></linearGradient><linearGradient id="g88" gradientUnits="userSpaceOnUse" x1="0" y1="214.71" x2="0" y2="349.13"><stop offset="0" stop-color="#440254"/><stop offset=".2009" stop-color="#450558"/><stop offset=".2566" stop-color="#46095c"/><stop offset=".305" stop-color="#471164"/><stop offset=".3273" stop-color="#481668"/><stop offset=".3682" stop-color="#472b7a"/><stop offset=".4017" stop-color="#46337f"/><stop offset=".4426" stop-color="#3c4e8a"/><stop offset=".4612" stop-color="#3a538b"/><stop offset=".5021" stop-color="#3d4c8a"/><stop offset=".5393" stop-color="#404688"/><stop offset=".5579" stop-color="#424186"/><stop offset=".6026" stop-color="#482475"/><stop offset=".6435" stop-color="#481c6d"/><stop offset=".6844" stop-color="#470e60"/><stop offset=".7774" stop-color="#450558"/><stop offset=".9968" stop-color="#440254"/></linearGradient><linearGradient id="g89" gradientUnits="userSpaceOnUse" x1="0" y1="214.71" x2="0" y2="349.13"><stop offset="0" stop-color="#440254"/><stop offset=".2046" stop-color="#450558"/><stop offset=".2604" stop-color="#46095c"/><stop offset=".305" stop-color="#471063"/><stop offset=".3273" stop-color="#481567"/><stop offset=".3682" stop-color="#482978"/><stop offset=".398" stop-color="#472f7c"/><stop offset=".4389" stop-color="#3e4b8a"/><stop offset=".4575" stop-color="#3b528b"/><stop offset=".5059" stop-color="#3d4d8a"/><stop offset=".5505" stop-color="#3f4889"/><stop offset=".5765" stop-color="#453882"/><stop offset=".6026" stop-color="#482777"/><stop offset=".6435" stop-color="#481e70"/><stop offset=".6844" stop-color="#470f62"/><stop offset=".7439" stop-color="#46085b"/><stop offset=".9038" stop-color="#440255"/><stop offset=".9968" stop-color="#440254"/></linearGradient><linearGradient id="g90" gradientUnits="userSpaceOnUse" x1="0" y1="214.71" x2="0" y2="349.13"><stop offset="0" stop-color="#440254"/><stop offset=".2083" stop-color="#450558"/><stop offset=".2604" stop-color="#46085c"/><stop offset=".3087" stop-color="#470f62"/><stop offset=".331" stop-color="#481567"/><stop offset=".372" stop-color="#482777"/><stop offset=".398" stop-color="#472c7b"/><stop offset=".4389" stop-color="#3e4a89"/><stop offset=".4575" stop-color="#3b518b"/><stop offset=".5505" stop-color="#3d4c8a"/><stop offset=".5765" stop-color="#433c84"/><stop offset=".6026" stop-color="#472a7a"/><stop offset=".6398" stop-color="#482273"/><stop offset=".6807" stop-color="#471164"/><stop offset=".7402" stop-color="#46095c"/><stop offset=".8369" stop-color="#450356"/><stop offset=".9968" stop-color="#440254"/></linearGradient><linearGradient id="g91" gradientUnits="userSpaceOnUse" x1="0" y1="225.05" x2="0" y2="349.13"><stop offset="0" stop-color="#440255"/><stop offset=".1854" stop-color="#45065a"/><stop offset=".2498" stop-color="#470e61"/><stop offset=".274" stop-color="#481366"/><stop offset=".3183" stop-color="#482575"/><stop offset=".3465" stop-color="#482979"/><stop offset=".3747" stop-color="#433c84"/><stop offset=".3989" stop-color="#3d4c8a"/><stop offset=".4191" stop-color="#3b508b"/><stop offset=".5077" stop-color="#3b518b"/><stop offset=".5319" stop-color="#404688"/><stop offset=".5682" stop-color="#472e7c"/><stop offset=".6085" stop-color="#482676"/><stop offset=".6568" stop-color="#471265"/><stop offset=".7092" stop-color="#460c5f"/><stop offset=".7535" stop-color="#45065a"/><stop offset=".9308" stop-color="#440255"/><stop offset=".9993" stop-color="#440255"/></linearGradient><linearGradient id="g92" gradientUnits="userSpaceOnUse" x1="0" y1="225.05" x2="0" y2="349.13"><stop offset="0" stop-color="#440255"/><stop offset=".1894" stop-color="#45065a"/><stop offset=".27" stop-color="#471163"/><stop offset=".3183" stop-color="#482374"/><stop offset=".3465" stop-color="#482777"/><stop offset=".3747" stop-color="#443a83"/><stop offset=".3989" stop-color="#3e4a89"/><stop offset=".4191" stop-color="#3c4f8a"/><stop offset=".5037" stop-color="#39558c"/><stop offset=".5238" stop-color="#3c4f8a"/><stop offset=".5682" stop-color="#46327f"/><stop offset=".6085" stop-color="#482979"/><stop offset=".6528" stop-color="#481567"/><stop offset=".7132" stop-color="#470c5f"/><stop offset=".7535" stop-color="#46075b"/><stop offset=".9147" stop-color="#440255"/><stop offset=".9993" stop-color="#440255"/></linearGradient><linearGradient id="g93" gradientUnits="userSpaceOnUse" x1="0" y1="225.05" x2="0" y2="349.13"><stop offset="0" stop-color="#440255"/><stop offset=".1934" stop-color="#45065a"/><stop offset=".27" stop-color="#471062"/><stop offset=".3224" stop-color="#482172"/><stop offset=".3465" stop-color="#482575"/><stop offset=".3747" stop-color="#453882"/><stop offset=".3989" stop-color="#3f4889"/><stop offset=".4191" stop-color="#3d4c8a"/><stop offset=".4997" stop-color="#38588c"/><stop offset=".5198" stop-color="#3a548b"/><stop offset=".5682" stop-color="#453681"/><stop offset=".6044" stop-color="#472f7d"/><stop offset=".6528" stop-color="#481769"/><stop offset=".7092" stop-color="#470e61"/><stop offset=".7495" stop-color="#46085b"/><stop offset=".9066" stop-color="#440255"/><stop offset=".9993" stop-color="#440255"/></linearGradient><linearGradient id="g94" gradientUnits="userSpaceOnUse" x1="0" y1="225.05" x2="0" y2="349.13"><stop offset="0" stop-color="#440255"/><stop offset=".1934" stop-color="#450659"/><stop offset=".27" stop-color="#470e61"/><stop offset=".3224" stop-color="#481f71"/><stop offset=".3465" stop-color="#482374"/><stop offset=".3747" stop-color="#453581"/><stop offset=".3989" stop-color="#404688"/><stop offset=".4191" stop-color="#3e4a89"/><stop offset=".4553" stop-color="#3b528b"/><stop offset=".4956" stop-color="#365b8d"/><stop offset=".5158" stop-color="#38588c"/><stop offset=".552" stop-color="#414387"/><stop offset=".5762" stop-color="#453882"/><stop offset=".6044" stop-color="#46337f"/><stop offset=".6528" stop-color="#48196b"/><stop offset=".7052" stop-color="#471164"/><stop offset=".7455" stop-color="#46095c"/><stop offset=".8905" stop-color="#450356"/><stop offset=".9993" stop-color="#440255"/></linearGradient><linearGradient id="g95" gradientUnits="userSpaceOnUse" x1="0" y1="225.05" x2="0" y2="349.13"><stop offset="0" stop-color="#440255"/><stop offset=".1974" stop-color="#450659"/><stop offset=".27" stop-color="#470d60"/><stop offset=".3224" stop-color="#481d6f"/><stop offset=".3465" stop-color="#482172"/><stop offset=".3747" stop-color="#46337f"/><stop offset=".3989" stop-color="#414387"/><stop offset=".4231" stop-color="#3f4888"/><stop offset=".4553" stop-color="#3b528b"/><stop offset=".4916" stop-color="#355d8d"/><stop offset=".5158" stop-color="#365b8d"/><stop offset=".5722" stop-color="#433d85"/><stop offset=".6004" stop-color="#453882"/><stop offset=".6326" stop-color="#482676"/><stop offset=".6568" stop-color="#481a6c"/><stop offset=".7011" stop-color="#481466"/><stop offset=".7455" stop-color="#460a5d"/><stop offset=".8663" stop-color="#450457"/><stop offset=".9993" stop-color="#440255"/></linearGradient><linearGradient id="g96" gradientUnits="userSpaceOnUse" x1="0" y1="225.05" x2="0" y2="349.13"><stop offset="0" stop-color="#440255"/><stop offset=".1974" stop-color="#450659"/><stop offset=".27" stop-color="#470d60"/><stop offset=".3224" stop-color="#481b6d"/><stop offset=".3465" stop-color="#481e70"/><stop offset=".3747" stop-color="#46307e"/><stop offset=".3989" stop-color="#424086"/><stop offset=".4392" stop-color="#3f4989"/><stop offset=".4835" stop-color="#365d8d"/><stop offset=".5077" stop-color="#355f8d"/><stop offset=".5359" stop-color="#3a548b"/><stop offset=".5682" stop-color="#414387"/><stop offset=".6004" stop-color="#433d84"/><stop offset=".6326" stop-color="#482979"/><stop offset=".6568" stop-color="#481d6f"/><stop offset=".7011" stop-color="#481668"/><stop offset=".7455" stop-color="#460b5e"/><stop offset=".8542" stop-color="#450457"/><stop offset=".9993" stop-color="#440255"/></linearGradient><linearGradient id="g97" gradientUnits="userSpaceOnUse" x1="0" y1="225.05" x2="0" y2="359.47"><stop offset="0" stop-color="#440255"/><stop offset=".186" stop-color="#450659"/><stop offset=".2492" stop-color="#460c5f"/><stop offset=".2976" stop-color="#48196b"/><stop offset=".3199" stop-color="#481c6e"/><stop offset=".3459" stop-color="#472e7c"/><stop offset=".372" stop-color="#433f85"/><stop offset=".4017" stop-color="#404588"/><stop offset=".4463" stop-color="#355e8d"/><stop offset=".4687" stop-color="#34608d"/><stop offset=".4947" stop-color="#39568c"/><stop offset=".5282" stop-color="#404688"/><stop offset=".5542" stop-color="#424186"/><stop offset=".584" stop-color="#472c7b"/><stop offset=".6063" stop-color="#481f71"/><stop offset=".6435" stop-color="#48196b"/><stop offset=".6844" stop-color="#470c5f"/><stop offset=".7811" stop-color="#450558"/><stop offset=".9968" stop-color="#440254"/></linearGradient><linearGradient id="g98" gradientUnits="userSpaceOnUse" x1="0" y1="225.05" x2="0" y2="359.47"><stop offset="0" stop-color="#440255"/><stop offset=".1897" stop-color="#450659"/><stop offset=".2492" stop-color="#460b5e"/><stop offset=".3013" stop-color="#48186a"/><stop offset=".3199" stop-color="#481b6d"/><stop offset=".3496" stop-color="#472e7c"/><stop offset=".372" stop-color="#443b84"/><stop offset=".4017" stop-color="#414287"/><stop offset=".4463" stop-color="#355e8d"/><stop offset=".4649" stop-color="#34618d"/><stop offset=".491" stop-color="#375a8c"/><stop offset=".5282" stop-color="#3e4a89"/><stop offset=".5542" stop-color="#404588"/><stop offset=".584" stop-color="#47307d"/><stop offset=".6063" stop-color="#482273"/><stop offset=".6435" stop-color="#481b6d"/><stop offset=".6844" stop-color="#470d60"/><stop offset=".7774" stop-color="#450558"/><stop offset=".9968" stop-color="#440254"/></linearGradient><linearGradient id="g99" gradientUnits="userSpaceOnUse" x1="0" y1="225.05" x2="0" y2="359.47"><stop offset="0" stop-color="#440255"/><stop offset=".1897" stop-color="#450559"/><stop offset=".2529" stop-color="#460b5e"/><stop offset=".3013" stop-color="#481669"/><stop offset=".3236" stop-color="#481a6c"/><stop offset=".3645" stop-color="#453580"/><stop offset=".3831" stop-color="#443a83"/><stop offset=".4017" stop-color="#423f85"/><stop offset=".4463" stop-color="#355e8d"/><stop offset=".4649" stop-color="#34618d"/><stop offset=".4947" stop-color="#375a8c"/><stop offset=".5319" stop-color="#3d4d8a"/><stop offset=".5542" stop-color="#3f4989"/><stop offset=".584" stop-color="#46337f"/><stop offset=".6063" stop-color="#482576"/><stop offset=".6398" stop-color="#481f70"/><stop offset=".6844" stop-color="#470e61"/><stop offset=".7774" stop-color="#450559"/><stop offset=".9968" stop-color="#440254"/></linearGradient><linearGradient id="g100" gradientUnits="userSpaceOnUse" x1="0" y1="225.05" x2="0" y2="359.47"><stop offset="0" stop-color="#440254"/><stop offset=".1934" stop-color="#450559"/><stop offset=".2529" stop-color="#460a5d"/><stop offset=".3013" stop-color="#481567"/><stop offset=".3236" stop-color="#48186b"/><stop offset=".3645" stop-color="#46327e"/><stop offset=".3868" stop-color="#453781"/><stop offset=".4054" stop-color="#433e85"/><stop offset=".4426" stop-color="#365b8d"/><stop offset=".4612" stop-color="#34618d"/><stop offset=".4947" stop-color="#375b8d"/><stop offset=".5356" stop-color="#3b518b"/><stop offset=".5542" stop-color="#3d4d8a"/><stop offset=".5802" stop-color="#443a83"/><stop offset=".6026" stop-color="#482a79"/><stop offset=".6398" stop-color="#482173"/><stop offset=".6844" stop-color="#471063"/><stop offset=".7402" stop-color="#46095c"/><stop offset=".8443" stop-color="#450356"/><stop offset=".9968" stop-color="#440254"/></linearGradient><linearGradient id="g101" gradientUnits="userSpaceOnUse" x1="0" y1="225.05" x2="0" y2="359.47"><stop offset="0" stop-color="#440254"/><stop offset=".1971" stop-color="#450559"/><stop offset=".2529" stop-color="#46095d"/><stop offset=".3013" stop-color="#481366"/><stop offset=".3236" stop-color="#481769"/><stop offset=".3682" stop-color="#47307d"/><stop offset=".398" stop-color="#453781"/><stop offset=".4277" stop-color="#3c4f8a"/><stop offset=".4501" stop-color="#355d8d"/><stop offset=".4724" stop-color="#355f8d"/><stop offset=".5393" stop-color="#39558c"/><stop offset=".5579" stop-color="#3c4f8b"/><stop offset=".5877" stop-color="#453782"/><stop offset=".6063" stop-color="#472b7a"/><stop offset=".6398" stop-color="#482475"/><stop offset=".6807" stop-color="#471265"/><stop offset=".7365" stop-color="#460a5e"/><stop offset=".7811" stop-color="#45065a"/><stop offset=".9373" stop-color="#440255"/><stop offset=".9968" stop-color="#440255"/></linearGradient><linearGradient id="g102" gradientUnits="userSpaceOnUse" x1="0" y1="225.05" x2="0" y2="359.47"><stop offset="0" stop-color="#440254"/><stop offset=".1971" stop-color="#450558"/><stop offset=".2566" stop-color="#46095d"/><stop offset=".305" stop-color="#471264"/><stop offset=".3273" stop-color="#481769"/><stop offset=".3682" stop-color="#472d7b"/><stop offset=".398" stop-color="#463480"/><stop offset=".424" stop-color="#3f4989"/><stop offset=".4463" stop-color="#375a8c"/><stop offset=".4649" stop-color="#355e8d"/><stop offset=".5505" stop-color="#38578c"/><stop offset=".5728" stop-color="#3f4889"/><stop offset=".5988" stop-color="#46337f"/><stop offset=".6174" stop-color="#472d7c"/><stop offset=".6435" stop-color="#482676"/><stop offset=".6807" stop-color="#481466"/><stop offset=".7365" stop-color="#460b5e"/><stop offset=".7737" stop-color="#46075a"/><stop offset=".9262" stop-color="#440255"/><stop offset=".9968" stop-color="#440255"/></linearGradient><linearGradient id="g103" gradientUnits="userSpaceOnUse" x1="0" y1="225.05" x2="0" y2="359.47"><stop offset="0" stop-color="#440254"/><stop offset=".2009" stop-color="#450558"/><stop offset=".2566" stop-color="#46095c"/><stop offset=".305" stop-color="#471163"/><stop offset=".3273" stop-color="#481568"/><stop offset=".3682" stop-color="#472a79"/><stop offset=".398" stop-color="#46317e"/><stop offset=".424" stop-color="#404788"/><stop offset=".4463" stop-color="#38588c"/><stop offset=".4649" stop-color="#365c8d"/><stop offset=".5468" stop-color="#365c8d"/><stop offset=".5654" stop-color="#3b528b"/><stop offset=".5988" stop-color="#453681"/><stop offset=".6174" stop-color="#46317e"/><stop offset=".6398" stop-color="#472b7a"/><stop offset=".6807" stop-color="#481668"/><stop offset=".7327" stop-color="#470d60"/><stop offset=".7699" stop-color="#46075b"/><stop offset=".9187" stop-color="#440255"/><stop offset=".9968" stop-color="#440255"/></linearGradient><linearGradient id="g104" gradientUnits="userSpaceOnUse" x1="0" y1="225.05" x2="0" y2="359.47"><stop offset="0" stop-color="#440254"/><stop offset=".2083" stop-color="#450558"/><stop offset=".2604" stop-color="#46095c"/><stop offset=".3087" stop-color="#470f62"/><stop offset=".331" stop-color="#481568"/><stop offset=".3682" stop-color="#482777"/><stop offset=".398" stop-color="#472e7c"/><stop offset=".424" stop-color="#414487"/><stop offset=".4463" stop-color="#39568c"/><stop offset=".4649" stop-color="#375a8c"/><stop offset=".543" stop-color="#34608d"/><stop offset=".5616" stop-color="#38588c"/><stop offset=".5988" stop-color="#443a83"/><stop offset=".6174" stop-color="#453580"/><stop offset=".6398" stop-color="#472e7c"/><stop offset=".6807" stop-color="#48176a"/><stop offset=".729" stop-color="#471062"/><stop offset=".7662" stop-color="#46085c"/><stop offset=".9113" stop-color="#440255"/><stop offset=".9968" stop-color="#440255"/></linearGradient><linearGradient id="g105" gradientUnits="userSpaceOnUse" x1="0" y1="225.05" x2="0" y2="359.47"><stop offset="0" stop-color="#440254"/><stop offset=".2157" stop-color="#450558"/><stop offset=".2641" stop-color="#46095c"/><stop offset=".3236" stop-color="#471164"/><stop offset=".372" stop-color="#482676"/><stop offset=".398" stop-color="#472b7a"/><stop offset=".424" stop-color="#424186"/><stop offset=".4463" stop-color="#3a538b"/><stop offset=".4649" stop-color="#38578c"/><stop offset=".5356" stop-color="#33638d"/><stop offset=".5542" stop-color="#345f8d"/><stop offset=".584" stop-color="#3f4989"/><stop offset=".6063" stop-color="#443b83"/><stop offset=".6323" stop-color="#453681"/><stop offset=".6658" stop-color="#482172"/><stop offset=".6881" stop-color="#48186a"/><stop offset=".7253" stop-color="#471265"/><stop offset=".7662" stop-color="#46095c"/><stop offset=".8927" stop-color="#450356"/><stop offset=".9968" stop-color="#440255"/></linearGradient><linearGradient id="g106" gradientUnits="userSpaceOnUse" x1="0" y1="235.39" x2="0" y2="359.47"><stop offset="0" stop-color="#440255"/><stop offset=".1894" stop-color="#45065a"/><stop offset=".27" stop-color="#471163"/><stop offset=".3183" stop-color="#482374"/><stop offset=".3465" stop-color="#482777"/><stop offset=".3707" stop-color="#443983"/><stop offset=".3989" stop-color="#3c4f8a"/><stop offset=".4191" stop-color="#3a548b"/><stop offset=".4553" stop-color="#365c8d"/><stop offset=".4916" stop-color="#32658e"/><stop offset=".5117" stop-color="#32648e"/><stop offset=".5359" stop-color="#38578c"/><stop offset=".5682" stop-color="#424186"/><stop offset=".6044" stop-color="#443982"/><stop offset=".6528" stop-color="#481c6e"/><stop offset=".7052" stop-color="#481366"/><stop offset=".7455" stop-color="#460a5d"/><stop offset=".8663" stop-color="#450457"/><stop offset=".9993" stop-color="#440255"/></linearGradient><linearGradient id="g107" gradientUnits="userSpaceOnUse" x1="0" y1="235.39" x2="0" y2="369.81"><stop offset="0" stop-color="#440255"/><stop offset=".1785" stop-color="#45065a"/><stop offset=".2492" stop-color="#470f62"/><stop offset=".2976" stop-color="#482172"/><stop offset=".3199" stop-color="#482575"/><stop offset=".3422" stop-color="#453681"/><stop offset=".3682" stop-color="#3d4c8a"/><stop offset=".3868" stop-color="#3b508b"/><stop offset=".4129" stop-color="#38588c"/><stop offset=".4501" stop-color="#31678e"/><stop offset=".4724" stop-color="#31668e"/><stop offset=".4947" stop-color="#375a8c"/><stop offset=".5245" stop-color="#404588"/><stop offset=".5542" stop-color="#433f85"/><stop offset=".584" stop-color="#472a79"/><stop offset=".6063" stop-color="#481d6f"/><stop offset=".6472" stop-color="#481668"/><stop offset=".6881" stop-color="#460b5e"/><stop offset=".7885" stop-color="#450458"/><stop offset=".9968" stop-color="#440254"/></linearGradient><linearGradient id="g108" gradientUnits="userSpaceOnUse" x1="0" y1="235.39" x2="0" y2="369.81"><stop offset="0" stop-color="#440255"/><stop offset=".1785" stop-color="#450659"/><stop offset=".2492" stop-color="#470e61"/><stop offset=".2976" stop-color="#481f70"/><stop offset=".3199" stop-color="#482273"/><stop offset=".3422" stop-color="#46337f"/><stop offset=".3682" stop-color="#3f4889"/><stop offset=".3868" stop-color="#3d4d8a"/><stop offset=".4091" stop-color="#3a548b"/><stop offset=".4463" stop-color="#31678e"/><stop offset=".4687" stop-color="#30698e"/><stop offset=".491" stop-color="#355f8d"/><stop offset=".5245" stop-color="#3e4a89"/><stop offset=".5542" stop-color="#414387"/><stop offset=".5802" stop-color="#46307e"/><stop offset=".6026" stop-color="#482172"/><stop offset=".6472" stop-color="#48186a"/><stop offset=".6844" stop-color="#470c5f"/><stop offset=".7811" stop-color="#450558"/><stop offset=".9968" stop-color="#440254"/></linearGradient><linearGradient id="g109" gradientUnits="userSpaceOnUse" x1="0" y1="235.39" x2="0" y2="369.81"><stop offset="0" stop-color="#440255"/><stop offset=".1823" stop-color="#450659"/><stop offset=".2492" stop-color="#470d60"/><stop offset=".2976" stop-color="#481d6e"/><stop offset=".3199" stop-color="#482071"/><stop offset=".3422" stop-color="#46307e"/><stop offset=".3682" stop-color="#404587"/><stop offset=".4017" stop-color="#3d4d8a"/><stop offset=".4463" stop-color="#31688e"/><stop offset=".4649" stop-color="#2f6b8e"/><stop offset=".4873" stop-color="#33638d"/><stop offset=".5245" stop-color="#3c4e8a"/><stop offset=".5542" stop-color="#3f4888"/><stop offset=".5802" stop-color="#463480"/><stop offset=".6026" stop-color="#482475"/><stop offset=".6472" stop-color="#481a6c"/><stop offset=".6844" stop-color="#470d60"/><stop offset=".7774" stop-color="#450559"/><stop offset=".9968" stop-color="#440254"/></linearGradient><linearGradient id="g110" gradientUnits="userSpaceOnUse" x1="0" y1="235.39" x2="0" y2="369.81"><stop offset="0" stop-color="#440255"/><stop offset=".186" stop-color="#450659"/><stop offset=".2492" stop-color="#470c5f"/><stop offset=".2976" stop-color="#481a6d"/><stop offset=".3199" stop-color="#481e70"/><stop offset=".3459" stop-color="#46317e"/><stop offset=".3682" stop-color="#424186"/><stop offset=".4017" stop-color="#3e4a89"/><stop offset=".4463" stop-color="#31688e"/><stop offset=".4649" stop-color="#2f6b8e"/><stop offset=".491" stop-color="#33638d"/><stop offset=".5282" stop-color="#3b518b"/><stop offset=".5542" stop-color="#3d4c8a"/><stop offset=".5802" stop-color="#453882"/><stop offset=".6026" stop-color="#482777"/><stop offset=".6435" stop-color="#481e6f"/><stop offset=".6844" stop-color="#470f61"/><stop offset=".7737" stop-color="#450559"/><stop offset=".9968" stop-color="#440254"/></linearGradient><linearGradient id="g111" gradientUnits="userSpaceOnUse" x1="0" y1="235.39" x2="0" y2="369.81"><stop offset="0" stop-color="#440255"/><stop offset=".186" stop-color="#450659"/><stop offset=".2492" stop-color="#460b5e"/><stop offset=".2976" stop-color="#48196b"/><stop offset=".3199" stop-color="#481c6e"/><stop offset=".3459" stop-color="#472e7c"/><stop offset=".372" stop-color="#423f85"/><stop offset=".398" stop-color="#404588"/><stop offset=".4463" stop-color="#31688e"/><stop offset=".4649" stop-color="#2f6c8e"/><stop offset=".4947" stop-color="#33638d"/><stop offset=".5282" stop-color="#39568c"/><stop offset=".5505" stop-color="#3a538b"/><stop offset=".5728" stop-color="#414387"/><stop offset=".5988" stop-color="#472d7b"/><stop offset=".6137" stop-color="#482777"/><stop offset=".6398" stop-color="#482273"/><stop offset=".6807" stop-color="#471164"/><stop offset=".7737" stop-color="#450659"/><stop offset=".9671" stop-color="#440255"/><stop offset=".9968" stop-color="#440255"/></linearGradient><linearGradient id="g112" gradientUnits="userSpaceOnUse" x1="0" y1="235.39" x2="0" y2="369.81"><stop offset="0" stop-color="#440255"/><stop offset=".1897" stop-color="#450659"/><stop offset=".2529" stop-color="#460b5f"/><stop offset=".3013" stop-color="#48176a"/><stop offset=".3199" stop-color="#481a6c"/><stop offset=".3496" stop-color="#472e7c"/><stop offset=".372" stop-color="#443c84"/><stop offset=".398" stop-color="#424286"/><stop offset=".4277" stop-color="#375a8c"/><stop offset=".4501" stop-color="#30698e"/><stop offset=".4687" stop-color="#2f6b8e"/><stop offset=".5319" stop-color="#375a8d"/><stop offset=".5505" stop-color="#38578c"/><stop offset=".5728" stop-color="#3f4788"/><stop offset=".5988" stop-color="#46307e"/><stop offset=".6137" stop-color="#472b7a"/><stop offset=".6398" stop-color="#482576"/><stop offset=".6807" stop-color="#471265"/><stop offset=".7365" stop-color="#460b5e"/><stop offset=".7811" stop-color="#45065a"/><stop offset=".9373" stop-color="#440255"/><stop offset=".9968" stop-color="#440255"/></linearGradient><linearGradient id="g113" gradientUnits="userSpaceOnUse" x1="0" y1="235.39" x2="0" y2="369.81"><stop offset="0" stop-color="#440255"/><stop offset=".1934" stop-color="#450659"/><stop offset=".2529" stop-color="#460b5e"/><stop offset=".3013" stop-color="#481668"/><stop offset=".3236" stop-color="#481a6c"/><stop offset=".3645" stop-color="#453580"/><stop offset=".3831" stop-color="#443a83"/><stop offset=".398" stop-color="#433e85"/><stop offset=".424" stop-color="#39558c"/><stop offset=".4463" stop-color="#31678e"/><stop offset=".4649" stop-color="#2f6b8e"/><stop offset=".5393" stop-color="#355f8d"/><stop offset=".5579" stop-color="#38588c"/><stop offset=".5877" stop-color="#433d85"/><stop offset=".6063" stop-color="#46307e"/><stop offset=".636" stop-color="#472a79"/><stop offset=".6807" stop-color="#481467"/><stop offset=".7365" stop-color="#460c5f"/><stop offset=".7737" stop-color="#46075b"/><stop offset=".9262" stop-color="#440255"/><stop offset=".9968" stop-color="#440255"/></linearGradient><linearGradient id="g114" gradientUnits="userSpaceOnUse" x1="0" y1="235.39" x2="0" y2="369.81"><stop offset="0" stop-color="#440255"/><stop offset=".1934" stop-color="#450559"/><stop offset=".2529" stop-color="#460a5d"/><stop offset=".3013" stop-color="#481467"/><stop offset=".3236" stop-color="#48186b"/><stop offset=".3645" stop-color="#46327f"/><stop offset=".3868" stop-color="#453782"/><stop offset=".4017" stop-color="#433e85"/><stop offset=".4389" stop-color="#34618d"/><stop offset=".4575" stop-color="#30698e"/><stop offset=".5468" stop-color="#33628d"/><stop offset=".5654" stop-color="#38578c"/><stop offset=".5988" stop-color="#443982"/><stop offset=".6137" stop-color="#46337f"/><stop offset=".636" stop-color="#472e7c"/><stop offset=".6807" stop-color="#481668"/><stop offset=".7327" stop-color="#470e61"/><stop offset=".7699" stop-color="#46085b"/><stop offset=".915" stop-color="#440255"/><stop offset=".9968" stop-color="#440255"/></linearGradient><linearGradient id="g115" gradientUnits="userSpaceOnUse" x1="0" y1="235.39" x2="0" y2="369.81"><stop offset="0" stop-color="#440255"/><stop offset=".1971" stop-color="#450559"/><stop offset=".2566" stop-color="#460a5d"/><stop offset=".305" stop-color="#481366"/><stop offset=".3236" stop-color="#481769"/><stop offset=".3682" stop-color="#46307e"/><stop offset=".398" stop-color="#453882"/><stop offset=".4203" stop-color="#3d4c8a"/><stop offset=".4426" stop-color="#34618d"/><stop offset=".4575" stop-color="#31688e"/><stop offset=".5468" stop-color="#31678e"/><stop offset=".5654" stop-color="#365c8d"/><stop offset=".5988" stop-color="#433d85"/><stop offset=".6137" stop-color="#453782"/><stop offset=".636" stop-color="#46327f"/><stop offset=".6807" stop-color="#48186a"/><stop offset=".729" stop-color="#471063"/><stop offset=".7662" stop-color="#46085c"/><stop offset=".9038" stop-color="#450356"/><stop offset=".9968" stop-color="#440255"/></linearGradient><linearGradient id="g116" gradientUnits="userSpaceOnUse" x1="0" y1="235.39" x2="0" y2="369.81"><stop offset="0" stop-color="#440254"/><stop offset=".2009" stop-color="#450559"/><stop offset=".2566" stop-color="#46095d"/><stop offset=".305" stop-color="#471264"/><stop offset=".3273" stop-color="#481769"/><stop offset=".3682" stop-color="#472d7c"/><stop offset=".3943" stop-color="#46337f"/><stop offset=".4129" stop-color="#424286"/><stop offset=".4389" stop-color="#365c8d"/><stop offset=".4575" stop-color="#32658e"/><stop offset=".543" stop-color="#2f6c8e"/><stop offset=".5616" stop-color="#33638d"/><stop offset=".5988" stop-color="#414286"/><stop offset=".6137" stop-color="#433c84"/><stop offset=".6323" stop-color="#453882"/><stop offset=".6621" stop-color="#482575"/><stop offset=".6844" stop-color="#48196b"/><stop offset=".7253" stop-color="#471365"/><stop offset=".7662" stop-color="#46095d"/><stop offset=".8852" stop-color="#450356"/><stop offset=".9968" stop-color="#440255"/></linearGradient><linearGradient id="g117" gradientUnits="userSpaceOnUse" x1="0" y1="235.39" x2="0" y2="380.15"><stop offset="0" stop-color="#440254"/><stop offset=".1865" stop-color="#450558"/><stop offset=".2383" stop-color="#46095c"/><stop offset=".2832" stop-color="#471163"/><stop offset=".3039" stop-color="#481568"/><stop offset=".3419" stop-color="#472a7a"/><stop offset=".3661" stop-color="#47307d"/><stop offset=".3834" stop-color="#433f85"/><stop offset=".4076" stop-color="#37598c"/><stop offset=".4248" stop-color="#33638d"/><stop offset=".4628" stop-color="#30698e"/><stop offset=".5008" stop-color="#2d708e"/><stop offset=".5181" stop-color="#30698e"/><stop offset=".5595" stop-color="#404487"/><stop offset=".5872" stop-color="#433d84"/><stop offset=".6148" stop-color="#482878"/><stop offset=".6355" stop-color="#481c6e"/><stop offset=".67" stop-color="#481668"/><stop offset=".708" stop-color="#460b5e"/><stop offset=".8082" stop-color="#450457"/><stop offset=".9982" stop-color="#440254"/></linearGradient><linearGradient id="g118" gradientUnits="userSpaceOnUse" x1="0" y1="235.39" x2="0" y2="380.15"><stop offset="0" stop-color="#440254"/><stop offset=".1934" stop-color="#450559"/><stop offset=".2418" stop-color="#46095c"/><stop offset=".2867" stop-color="#470f62"/><stop offset=".3074" stop-color="#481668"/><stop offset=".3419" stop-color="#482878"/><stop offset=".3661" stop-color="#472d7b"/><stop offset=".3834" stop-color="#443c84"/><stop offset=".4076" stop-color="#39568c"/><stop offset=".4248" stop-color="#34608d"/><stop offset=".4525" stop-color="#32658e"/><stop offset=".4904" stop-color="#2c728e"/><stop offset=".5077" stop-color="#2c728e"/><stop offset=".525" stop-color="#31688e"/><stop offset=".5561" stop-color="#3e4c8a"/><stop offset=".5699" stop-color="#404688"/><stop offset=".5872" stop-color="#414286"/><stop offset=".6113" stop-color="#472e7c"/><stop offset=".6321" stop-color="#482071"/><stop offset=".6735" stop-color="#481769"/><stop offset=".708" stop-color="#460c5f"/><stop offset=".8013" stop-color="#450458"/><stop offset=".9982" stop-color="#440254"/></linearGradient><linearGradient id="g119" gradientUnits="userSpaceOnUse" x1="0" y1="235.39" x2="0" y2="380.15"><stop offset="0" stop-color="#440254"/><stop offset=".1969" stop-color="#450558"/><stop offset=".2452" stop-color="#46095c"/><stop offset=".3005" stop-color="#471164"/><stop offset=".3454" stop-color="#482676"/><stop offset=".3661" stop-color="#482a79"/><stop offset=".3834" stop-color="#443882"/><stop offset=".4076" stop-color="#3a538b"/><stop offset=".4248" stop-color="#365c8d"/><stop offset=".449" stop-color="#33628d"/><stop offset=".487" stop-color="#2b748e"/><stop offset=".5077" stop-color="#2b758e"/><stop offset=".5284" stop-color="#30688e"/><stop offset=".5561" stop-color="#3b518b"/><stop offset=".5733" stop-color="#3e4b8a"/><stop offset=".5906" stop-color="#404587"/><stop offset=".6182" stop-color="#472c7b"/><stop offset=".6355" stop-color="#482172"/><stop offset=".67" stop-color="#481a6c"/><stop offset=".708" stop-color="#470d60"/><stop offset=".7944" stop-color="#450558"/><stop offset=".9982" stop-color="#440254"/></linearGradient><linearGradient id="g120" gradientUnits="userSpaceOnUse" x1="0" y1="235.39" x2="0" y2="380.15"><stop offset="0" stop-color="#440254"/><stop offset=".221" stop-color="#450559"/><stop offset=".3005" stop-color="#471063"/><stop offset=".3454" stop-color="#482374"/><stop offset=".3661" stop-color="#482777"/><stop offset=".3834" stop-color="#453581"/><stop offset=".4076" stop-color="#3c4f8b"/><stop offset=".4248" stop-color="#38598c"/><stop offset=".4455" stop-color="#355d8d"/><stop offset=".487" stop-color="#2b768e"/><stop offset=".5043" stop-color="#2a788e"/><stop offset=".5215" stop-color="#2d718e"/><stop offset=".5595" stop-color="#3a548b"/><stop offset=".5872" stop-color="#3d4c8a"/><stop offset=".6113" stop-color="#453681"/><stop offset=".6321" stop-color="#482576"/><stop offset=".67" stop-color="#481c6e"/><stop offset=".708" stop-color="#470e61"/><stop offset=".7944" stop-color="#450559"/><stop offset=".9982" stop-color="#440255"/></linearGradient><linearGradient id="g121" gradientUnits="userSpaceOnUse" x1="0" y1="235.39" x2="0" y2="380.15"><stop offset="0" stop-color="#440254"/><stop offset=".2245" stop-color="#450559"/><stop offset=".3005" stop-color="#470f62"/><stop offset=".3454" stop-color="#482172"/><stop offset=".3661" stop-color="#482575"/><stop offset=".3834" stop-color="#46327f"/><stop offset=".4076" stop-color="#3d4c8a"/><stop offset=".4248" stop-color="#39558c"/><stop offset=".4421" stop-color="#38588c"/><stop offset=".487" stop-color="#2a778e"/><stop offset=".5043" stop-color="#297a8e"/><stop offset=".525" stop-color="#2d718e"/><stop offset=".5595" stop-color="#37598c"/><stop offset=".5837" stop-color="#3a538b"/><stop offset=".6044" stop-color="#414287"/><stop offset=".6286" stop-color="#472b7a"/><stop offset=".6424" stop-color="#482676"/><stop offset=".6666" stop-color="#482072"/><stop offset=".7046" stop-color="#471063"/><stop offset=".7909" stop-color="#450659"/><stop offset=".9774" stop-color="#440255"/><stop offset=".9982" stop-color="#440255"/></linearGradient><linearGradient id="g122" gradientUnits="userSpaceOnUse" x1="0" y1="245.73" x2="0" y2="380.15"><stop offset="0" stop-color="#440255"/><stop offset=".1785" stop-color="#45065a"/><stop offset=".2492" stop-color="#470f61"/><stop offset=".2976" stop-color="#481f71"/><stop offset=".3199" stop-color="#482374"/><stop offset=".3422" stop-color="#453681"/><stop offset=".3682" stop-color="#3d4c8a"/><stop offset=".3868" stop-color="#3b518b"/><stop offset=".4054" stop-color="#38598c"/><stop offset=".4426" stop-color="#2b768e"/><stop offset=".4612" stop-color="#287b8e"/><stop offset=".4835" stop-color="#2b768e"/><stop offset=".5245" stop-color="#355f8d"/><stop offset=".5542" stop-color="#38578c"/><stop offset=".5765" stop-color="#404487"/><stop offset=".5988" stop-color="#472f7d"/><stop offset=".6137" stop-color="#482a79"/><stop offset=".6398" stop-color="#482475"/><stop offset=".6807" stop-color="#471264"/><stop offset=".7402" stop-color="#46095d"/><stop offset=".8332" stop-color="#450357"/><stop offset=".9968" stop-color="#440255"/></linearGradient><linearGradient id="g123" gradientUnits="userSpaceOnUse" x1="0" y1="245.73" x2="0" y2="380.15"><stop offset="0" stop-color="#440255"/><stop offset=".1823" stop-color="#45065a"/><stop offset=".2492" stop-color="#470e61"/><stop offset=".2976" stop-color="#481d6f"/><stop offset=".3199" stop-color="#482172"/><stop offset=".3422" stop-color="#46327f"/><stop offset=".3682" stop-color="#3f4889"/><stop offset=".398" stop-color="#3b518b"/><stop offset=".424" stop-color="#31668e"/><stop offset=".4463" stop-color="#2a788e"/><stop offset=".4649" stop-color="#287c8e"/><stop offset=".491" stop-color="#2c748e"/><stop offset=".5282" stop-color="#33638d"/><stop offset=".5505" stop-color="#355f8d"/><stop offset=".5691" stop-color="#3b518b"/><stop offset=".5988" stop-color="#463380"/><stop offset=".6137" stop-color="#472d7c"/><stop offset=".636" stop-color="#482978"/><stop offset=".6807" stop-color="#481466"/><stop offset=".7365" stop-color="#460b5e"/><stop offset=".7774" stop-color="#46075a"/><stop offset=".9262" stop-color="#440255"/><stop offset=".9968" stop-color="#440255"/></linearGradient><linearGradient id="g124" gradientUnits="userSpaceOnUse" x1="0" y1="245.73" x2="0" y2="380.15"><stop offset="0" stop-color="#440255"/><stop offset=".186" stop-color="#45065a"/><stop offset=".2492" stop-color="#470d60"/><stop offset=".2976" stop-color="#481b6d"/><stop offset=".3199" stop-color="#481f70"/><stop offset=".3422" stop-color="#472f7d"/><stop offset=".3682" stop-color="#404487"/><stop offset=".398" stop-color="#3d4d8a"/><stop offset=".424" stop-color="#32658e"/><stop offset=".4463" stop-color="#2a788e"/><stop offset=".4612" stop-color="#287c8e"/><stop offset=".4873" stop-color="#2a778e"/><stop offset=".5282" stop-color="#31688e"/><stop offset=".5505" stop-color="#32648e"/><stop offset=".5691" stop-color="#39568c"/><stop offset=".5988" stop-color="#453882"/><stop offset=".6137" stop-color="#46317e"/><stop offset=".636" stop-color="#472d7b"/><stop offset=".6807" stop-color="#481568"/><stop offset=".7327" stop-color="#470d60"/><stop offset=".7699" stop-color="#46075b"/><stop offset=".9224" stop-color="#440255"/><stop offset=".9968" stop-color="#440255"/></linearGradient><linearGradient id="g125" gradientUnits="userSpaceOnUse" x1="0" y1="245.73" x2="0" y2="380.15"><stop offset="0" stop-color="#440255"/><stop offset=".186" stop-color="#450659"/><stop offset=".2492" stop-color="#460c5f"/><stop offset=".2976" stop-color="#48196b"/><stop offset=".3199" stop-color="#481d6f"/><stop offset=".3459" stop-color="#47307d"/><stop offset=".3682" stop-color="#424086"/><stop offset=".398" stop-color="#3f4989"/><stop offset=".4203" stop-color="#355e8d"/><stop offset=".4426" stop-color="#2b748e"/><stop offset=".4575" stop-color="#297b8e"/><stop offset=".4873" stop-color="#2a788e"/><stop offset=".5319" stop-color="#2e6d8e"/><stop offset=".5505" stop-color="#306a8e"/><stop offset=".5691" stop-color="#365b8d"/><stop offset=".5988" stop-color="#433d84"/><stop offset=".6137" stop-color="#453681"/><stop offset=".636" stop-color="#46317e"/><stop offset=".6807" stop-color="#48176a"/><stop offset=".7327" stop-color="#470f61"/><stop offset=".7699" stop-color="#46085c"/><stop offset=".9076" stop-color="#440356"/><stop offset=".9968" stop-color="#440255"/></linearGradient><linearGradient id="g126" gradientUnits="userSpaceOnUse" x1="0" y1="245.73" x2="0" y2="380.15"><stop offset="0" stop-color="#440255"/><stop offset=".1897" stop-color="#450659"/><stop offset=".2529" stop-color="#460c5f"/><stop offset=".3013" stop-color="#48186a"/><stop offset=".3199" stop-color="#481b6d"/><stop offset=".3459" stop-color="#472d7b"/><stop offset=".372" stop-color="#433e85"/><stop offset=".3943" stop-color="#414387"/><stop offset=".4129" stop-color="#3a538b"/><stop offset=".4389" stop-color="#2d6f8e"/><stop offset=".4538" stop-color="#2a798e"/><stop offset=".4835" stop-color="#2a788e"/><stop offset=".5505" stop-color="#2e6f8e"/><stop offset=".5691" stop-color="#34608d"/><stop offset=".5988" stop-color="#424186"/><stop offset=".6137" stop-color="#443b83"/><stop offset=".6323" stop-color="#453781"/><stop offset=".6658" stop-color="#482172"/><stop offset=".6881" stop-color="#48186a"/><stop offset=".7253" stop-color="#471265"/><stop offset=".7662" stop-color="#46095c"/><stop offset=".8964" stop-color="#450356"/><stop offset=".9968" stop-color="#440255"/></linearGradient><linearGradient id="g127" gradientUnits="userSpaceOnUse" x1="0" y1="245.73" x2="0" y2="390.50"><stop offset="0" stop-color="#440255"/><stop offset=".1761" stop-color="#450659"/><stop offset=".2349" stop-color="#460b5e"/><stop offset=".2798" stop-color="#481669"/><stop offset=".297" stop-color="#48196b"/><stop offset=".3247" stop-color="#472d7b"/><stop offset=".3454" stop-color="#443b83"/><stop offset=".3661" stop-color="#423f86"/><stop offset=".3834" stop-color="#3c508b"/><stop offset=".4076" stop-color="#2e6d8e"/><stop offset=".4214" stop-color="#2a778e"/><stop offset=".5043" stop-color="#2a768e"/><stop offset=".5181" stop-color="#2d6f8e"/><stop offset=".5561" stop-color="#404688"/><stop offset=".5699" stop-color="#424086"/><stop offset=".5872" stop-color="#443c84"/><stop offset=".6148" stop-color="#482777"/><stop offset=".6355" stop-color="#481b6d"/><stop offset=".6735" stop-color="#481466"/><stop offset=".7115" stop-color="#460a5d"/><stop offset=".8151" stop-color="#450457"/><stop offset=".9982" stop-color="#440254"/></linearGradient><linearGradient id="g128" gradientUnits="userSpaceOnUse" x1="0" y1="245.73" x2="0" y2="390.50"><stop offset="0" stop-color="#440255"/><stop offset=".1796" stop-color="#450659"/><stop offset=".2349" stop-color="#460a5e"/><stop offset=".2798" stop-color="#481567"/><stop offset=".3005" stop-color="#48196b"/><stop offset=".3385" stop-color="#463480"/><stop offset=".3557" stop-color="#443983"/><stop offset=".3696" stop-color="#433e85"/><stop offset=".3903" stop-color="#39568c"/><stop offset=".411" stop-color="#2e6e8e"/><stop offset=".4248" stop-color="#2b758e"/><stop offset=".5043" stop-color="#297b8e"/><stop offset=".5215" stop-color="#2d718e"/><stop offset=".5561" stop-color="#3d4c8a"/><stop offset=".5699" stop-color="#404588"/><stop offset=".5872" stop-color="#424186"/><stop offset=".6113" stop-color="#472d7c"/><stop offset=".6321" stop-color="#481e70"/><stop offset=".6735" stop-color="#481668"/><stop offset=".708" stop-color="#460b5e"/><stop offset=".8013" stop-color="#450458"/><stop offset=".9982" stop-color="#440254"/></linearGradient><linearGradient id="g129" gradientUnits="userSpaceOnUse" x1="0" y1="245.73" x2="0" y2="390.50"><stop offset="0" stop-color="#440255"/><stop offset=".1831" stop-color="#450659"/><stop offset=".2349" stop-color="#460a5d"/><stop offset=".2798" stop-color="#481366"/><stop offset=".3005" stop-color="#48176a"/><stop offset=".3385" stop-color="#46307e"/><stop offset=".3661" stop-color="#453882"/><stop offset=".3799" stop-color="#404588"/><stop offset=".4076" stop-color="#31678e"/><stop offset=".4214" stop-color="#2d718e"/><stop offset=".4628" stop-color="#2a798e"/><stop offset=".4974" stop-color="#27808e"/><stop offset=".5112" stop-color="#287d8e"/><stop offset=".5284" stop-color="#2e6f8e"/><stop offset=".5561" stop-color="#3b518b"/><stop offset=".5699" stop-color="#3e4b89"/><stop offset=".5872" stop-color="#404688"/><stop offset=".6113" stop-color="#46317e"/><stop offset=".6321" stop-color="#482172"/><stop offset=".6735" stop-color="#48186a"/><stop offset=".708" stop-color="#470c5f"/><stop offset=".7978" stop-color="#450558"/><stop offset=".9982" stop-color="#440254"/></linearGradient><linearGradient id="g130" gradientUnits="userSpaceOnUse" x1="0" y1="245.73" x2="0" y2="390.50"><stop offset="0" stop-color="#440255"/><stop offset=".1831" stop-color="#450559"/><stop offset=".2383" stop-color="#460a5d"/><stop offset=".2832" stop-color="#471265"/><stop offset=".3005" stop-color="#481668"/><stop offset=".3419" stop-color="#472f7d"/><stop offset=".3661" stop-color="#463580"/><stop offset=".3799" stop-color="#424186"/><stop offset=".4041" stop-color="#34608d"/><stop offset=".4179" stop-color="#2f6c8e"/><stop offset=".4559" stop-color="#2b768e"/><stop offset=".4904" stop-color="#25838e"/><stop offset=".5077" stop-color="#26828e"/><stop offset=".525" stop-color="#2a768e"/><stop offset=".5561" stop-color="#39578c"/><stop offset=".5699" stop-color="#3b518b"/><stop offset=".5872" stop-color="#3e4b8a"/><stop offset=".6113" stop-color="#453681"/><stop offset=".6321" stop-color="#482475"/><stop offset=".67" stop-color="#481b6d"/><stop offset=".708" stop-color="#470e60"/><stop offset=".7944" stop-color="#450559"/><stop offset=".9982" stop-color="#440255"/></linearGradient><linearGradient id="g131" gradientUnits="userSpaceOnUse" x1="0" y1="245.73" x2="0" y2="390.50"><stop offset="0" stop-color="#440255"/><stop offset=".1865" stop-color="#450559"/><stop offset=".2383" stop-color="#46095c"/><stop offset=".2832" stop-color="#471164"/><stop offset=".3039" stop-color="#481668"/><stop offset=".3419" stop-color="#472c7a"/><stop offset=".3661" stop-color="#46317e"/><stop offset=".3799" stop-color="#433e85"/><stop offset=".4041" stop-color="#365d8d"/><stop offset=".4179" stop-color="#30688e"/><stop offset=".449" stop-color="#2d708e"/><stop offset=".487" stop-color="#25858e"/><stop offset=".5043" stop-color="#24878e"/><stop offset=".5215" stop-color="#287d8e"/><stop offset=".5561" stop-color="#365c8d"/><stop offset=".5699" stop-color="#39568c"/><stop offset=".5872" stop-color="#3b518b"/><stop offset=".6113" stop-color="#443a83"/><stop offset=".6321" stop-color="#482877"/><stop offset=".67" stop-color="#481e70"/><stop offset=".7046" stop-color="#470f62"/><stop offset=".7909" stop-color="#450659"/><stop offset=".9913" stop-color="#440255"/><stop offset=".9982" stop-color="#440255"/></linearGradient><linearGradient id="g132" gradientUnits="userSpaceOnUse" x1="0" y1="245.73" x2="0" y2="390.50"><stop offset="0" stop-color="#440254"/><stop offset=".19" stop-color="#450559"/><stop offset=".2418" stop-color="#46095c"/><stop offset=".2867" stop-color="#471063"/><stop offset=".3074" stop-color="#481668"/><stop offset=".3419" stop-color="#482978"/><stop offset=".3661" stop-color="#472e7c"/><stop offset=".3799" stop-color="#443a83"/><stop offset=".4041" stop-color="#38598c"/><stop offset=".4179" stop-color="#32648e"/><stop offset=".4455" stop-color="#2f6c8e"/><stop offset=".487" stop-color="#24878e"/><stop offset=".5043" stop-color="#238a8d"/><stop offset=".5215" stop-color="#26818e"/><stop offset=".5561" stop-color="#33628d"/><stop offset=".5733" stop-color="#365c8d"/><stop offset=".5872" stop-color="#38578c"/><stop offset=".6079" stop-color="#414387"/><stop offset=".6286" stop-color="#472d7c"/><stop offset=".6424" stop-color="#482878"/><stop offset=".6666" stop-color="#482273"/><stop offset=".7046" stop-color="#471164"/><stop offset=".7598" stop-color="#46095c"/><stop offset=".8635" stop-color="#450356"/><stop offset=".9982" stop-color="#440255"/></linearGradient><linearGradient id="g133" gradientUnits="userSpaceOnUse" x1="0" y1="245.73" x2="0" y2="390.50"><stop offset="0" stop-color="#440254"/><stop offset=".1969" stop-color="#450559"/><stop offset=".2452" stop-color="#46095d"/><stop offset=".3005" stop-color="#471264"/><stop offset=".3454" stop-color="#482777"/><stop offset=".3661" stop-color="#472b7a"/><stop offset=".3834" stop-color="#443b84"/><stop offset=".4076" stop-color="#38588c"/><stop offset=".4214" stop-color="#34618d"/><stop offset=".4421" stop-color="#31668e"/><stop offset=".487" stop-color="#23898e"/><stop offset=".5043" stop-color="#228c8d"/><stop offset=".5215" stop-color="#25848e"/><stop offset=".5561" stop-color="#31678e"/><stop offset=".5733" stop-color="#33628d"/><stop offset=".5872" stop-color="#365d8d"/><stop offset=".6079" stop-color="#3f4889"/><stop offset=".6286" stop-color="#46317e"/><stop offset=".6424" stop-color="#472c7a"/><stop offset=".6631" stop-color="#482777"/><stop offset=".7046" stop-color="#471365"/><stop offset=".7564" stop-color="#460b5e"/><stop offset=".7978" stop-color="#46065a"/><stop offset=".9394" stop-color="#440255"/><stop offset=".9982" stop-color="#440255"/></linearGradient><linearGradient id="g134" gradientUnits="userSpaceOnUse" x1="0" y1="245.73" x2="0" y2="390.50"><stop offset="0" stop-color="#440254"/><stop offset=".221" stop-color="#450559"/><stop offset=".3005" stop-color="#471063"/><stop offset=".3454" stop-color="#482475"/><stop offset=".3661" stop-color="#482878"/><stop offset=".3834" stop-color="#453882"/><stop offset=".4076" stop-color="#3a548b"/><stop offset=".4214" stop-color="#365d8d"/><stop offset=".4421" stop-color="#33628d"/><stop offset=".4697" stop-color="#287c8e"/><stop offset=".487" stop-color="#238a8d"/><stop offset=".5008" stop-color="#218e8d"/><stop offset=".5181" stop-color="#23888e"/><stop offset=".5595" stop-color="#2f6b8e"/><stop offset=".5837" stop-color="#32658e"/><stop offset=".601" stop-color="#39558c"/><stop offset=".6286" stop-color="#453681"/><stop offset=".6424" stop-color="#47307d"/><stop offset=".6631" stop-color="#472a7a"/><stop offset=".7046" stop-color="#481467"/><stop offset=".7529" stop-color="#470d60"/><stop offset=".7875" stop-color="#46075b"/><stop offset=".9325" stop-color="#440255"/><stop offset=".9982" stop-color="#440255"/></linearGradient><linearGradient id="g135" gradientUnits="userSpaceOnUse" x1="0" y1="245.73" x2="0" y2="390.50"><stop offset="0" stop-color="#440254"/><stop offset=".2245" stop-color="#450559"/><stop offset=".3005" stop-color="#470f62"/><stop offset=".3454" stop-color="#482273"/><stop offset=".3661" stop-color="#482576"/><stop offset=".3834" stop-color="#463480"/><stop offset=".4076" stop-color="#3c508b"/><stop offset=".4214" stop-color="#38588c"/><stop offset=".4386" stop-color="#365c8d"/><stop offset=".4559" stop-color="#2f6b8e"/><stop offset=".4835" stop-color="#24888e"/><stop offset=".4974" stop-color="#218e8d"/><stop offset=".5146" stop-color="#228b8d"/><stop offset=".5595" stop-color="#2d718e"/><stop offset=".5837" stop-color="#2f6b8e"/><stop offset=".601" stop-color="#365b8d"/><stop offset=".6286" stop-color="#443a83"/><stop offset=".6424" stop-color="#463480"/><stop offset=".6631" stop-color="#472e7c"/><stop offset=".7011" stop-color="#48176a"/><stop offset=".7564" stop-color="#470d60"/><stop offset=".7909" stop-color="#46085b"/><stop offset=".9153" stop-color="#440256"/><stop offset=".9982" stop-color="#440255"/></linearGradient><linearGradient id="g136" gradientUnits="userSpaceOnUse" x1="0" y1="245.73" x2="0" y2="390.50"><stop offset="0" stop-color="#440254"/><stop offset=".228" stop-color="#450559"/><stop offset=".3039" stop-color="#470f62"/><stop offset=".3454" stop-color="#481f71"/><stop offset=".3661" stop-color="#482374"/><stop offset=".3834" stop-color="#46317e"/><stop offset=".4076" stop-color="#3e4b8a"/><stop offset=".4248" stop-color="#39558c"/><stop offset=".4386" stop-color="#38588c"/><stop offset=".4559" stop-color="#30688e"/><stop offset=".4835" stop-color="#24878e"/><stop offset=".4974" stop-color="#218e8d"/><stop offset=".5181" stop-color="#238b8d"/><stop offset=".5595" stop-color="#2a778e"/><stop offset=".5802" stop-color="#2c738e"/><stop offset=".5975" stop-color="#32658e"/><stop offset=".6286" stop-color="#423f85"/><stop offset=".6424" stop-color="#443982"/><stop offset=".6597" stop-color="#463480"/><stop offset=".7011" stop-color="#48196c"/><stop offset=".7529" stop-color="#470f62"/><stop offset=".784" stop-color="#46095c"/><stop offset=".9084" stop-color="#450356"/><stop offset=".9982" stop-color="#440255"/></linearGradient><linearGradient id="g137" gradientUnits="userSpaceOnUse" x1="0" y1="245.73" x2="0" y2="400.84"><stop offset="0" stop-color="#440254"/><stop offset=".2128" stop-color="#450559"/><stop offset=".2837" stop-color="#470e61"/><stop offset=".3256" stop-color="#481e70"/><stop offset=".3417" stop-color="#482172"/><stop offset=".3578" stop-color="#472e7c"/><stop offset=".3804" stop-color="#3f4788"/><stop offset=".3965" stop-color="#3b508b"/><stop offset=".4094" stop-color="#3a548b"/><stop offset=".4255" stop-color="#32658e"/><stop offset=".4481" stop-color="#25838e"/><stop offset=".461" stop-color="#228d8d"/><stop offset=".4803" stop-color="#228c8d"/><stop offset=".5254" stop-color="#287c8e"/><stop offset=".5416" stop-color="#297a8e"/><stop offset=".5577" stop-color="#2f6b8e"/><stop offset=".5867" stop-color="#404587"/><stop offset=".5996" stop-color="#433e85"/><stop offset=".6157" stop-color="#443983"/><stop offset=".6415" stop-color="#482575"/><stop offset=".6608" stop-color="#48196b"/><stop offset=".6963" stop-color="#471365"/><stop offset=".7318" stop-color="#460a5d"/><stop offset=".8317" stop-color="#450357"/><stop offset=".9993" stop-color="#440254"/></linearGradient><linearGradient id="g138" gradientUnits="userSpaceOnUse" x1="0" y1="256.07" x2="0" y2="400.84"><stop offset="0" stop-color="#440255"/><stop offset=".1692" stop-color="#45065a"/><stop offset=".2314" stop-color="#470d60"/><stop offset=".2763" stop-color="#481c6e"/><stop offset=".297" stop-color="#482071"/><stop offset=".3178" stop-color="#46317e"/><stop offset=".3419" stop-color="#3f4788"/><stop offset=".3661" stop-color="#3c4f8a"/><stop offset=".3799" stop-color="#365c8d"/><stop offset=".4076" stop-color="#26818e"/><stop offset=".4214" stop-color="#228b8d"/><stop offset=".4421" stop-color="#228c8d"/><stop offset=".4974" stop-color="#26828e"/><stop offset=".5112" stop-color="#277f8e"/><stop offset=".5284" stop-color="#2e6e8e"/><stop offset=".5561" stop-color="#3e4b8a"/><stop offset=".5699" stop-color="#414487"/><stop offset=".5872" stop-color="#423f85"/><stop offset=".6113" stop-color="#472c7b"/><stop offset=".6321" stop-color="#481d6f"/><stop offset=".6735" stop-color="#481567"/><stop offset=".7115" stop-color="#460b5e"/><stop offset=".8047" stop-color="#450458"/><stop offset=".9982" stop-color="#440254"/></linearGradient><linearGradient id="g139" gradientUnits="userSpaceOnUse" x1="0" y1="256.07" x2="0" y2="400.84"><stop offset="0" stop-color="#440255"/><stop offset=".1727" stop-color="#45065a"/><stop offset=".2314" stop-color="#470c5f"/><stop offset=".2763" stop-color="#481a6c"/><stop offset=".297" stop-color="#481e6f"/><stop offset=".3178" stop-color="#472e7c"/><stop offset=".3419" stop-color="#414387"/><stop offset=".3661" stop-color="#3e4b89"/><stop offset=".3799" stop-color="#38598c"/><stop offset=".4076" stop-color="#277e8e"/><stop offset=".4214" stop-color="#23898d"/><stop offset=".4594" stop-color="#238a8d"/><stop offset=".5077" stop-color="#24868e"/><stop offset=".5215" stop-color="#287c8e"/><stop offset=".5561" stop-color="#3b518b"/><stop offset=".5699" stop-color="#3e4989"/><stop offset=".5872" stop-color="#404588"/><stop offset=".6113" stop-color="#46307e"/><stop offset=".6321" stop-color="#482071"/><stop offset=".6735" stop-color="#481769"/><stop offset=".708" stop-color="#470c5f"/><stop offset=".7978" stop-color="#450558"/><stop offset=".9982" stop-color="#440255"/></linearGradient><linearGradient id="g140" gradientUnits="userSpaceOnUse" x1="0" y1="256.07" x2="0" y2="400.84"><stop offset="0" stop-color="#440255"/><stop offset=".1761" stop-color="#45065a"/><stop offset=".2349" stop-color="#470c5f"/><stop offset=".2798" stop-color="#48196b"/><stop offset=".297" stop-color="#481c6e"/><stop offset=".3212" stop-color="#472f7d"/><stop offset=".3419" stop-color="#423f85"/><stop offset=".3661" stop-color="#404688"/><stop offset=".3799" stop-color="#39558c"/><stop offset=".4076" stop-color="#287b8e"/><stop offset=".4214" stop-color="#24868e"/><stop offset=".5008" stop-color="#218e8d"/><stop offset=".5146" stop-color="#24888e"/><stop offset=".5353" stop-color="#2d708e"/><stop offset=".5561" stop-color="#38578c"/><stop offset=".5699" stop-color="#3c508b"/><stop offset=".5872" stop-color="#3e4b89"/><stop offset=".6113" stop-color="#463580"/><stop offset=".6321" stop-color="#482374"/><stop offset=".67" stop-color="#481a6c"/><stop offset=".708" stop-color="#470d60"/><stop offset=".7944" stop-color="#450559"/><stop offset=".9982" stop-color="#440255"/></linearGradient><linearGradient id="g141" gradientUnits="userSpaceOnUse" x1="0" y1="256.07" x2="0" y2="400.84"><stop offset="0" stop-color="#440255"/><stop offset=".1761" stop-color="#450659"/><stop offset=".2349" stop-color="#460c5f"/><stop offset=".2798" stop-color="#481769"/><stop offset=".297" stop-color="#481a6c"/><stop offset=".3212" stop-color="#472c7b"/><stop offset=".3454" stop-color="#433d84"/><stop offset=".3661" stop-color="#414287"/><stop offset=".3799" stop-color="#3b518b"/><stop offset=".4076" stop-color="#2a788e"/><stop offset=".4214" stop-color="#25838e"/><stop offset=".4628" stop-color="#228c8d"/><stop offset=".4974" stop-color="#20938c"/><stop offset=".5112" stop-color="#21908c"/><stop offset=".5284" stop-color="#277f8e"/><stop offset=".5561" stop-color="#355d8d"/><stop offset=".5699" stop-color="#39568c"/><stop offset=".5872" stop-color="#3b518b"/><stop offset=".6113" stop-color="#443983"/><stop offset=".6286" stop-color="#482978"/><stop offset=".6424" stop-color="#482374"/><stop offset=".6666" stop-color="#481e70"/><stop offset=".7046" stop-color="#470f62"/><stop offset=".7909" stop-color="#450659"/><stop offset=".9982" stop-color="#440255"/></linearGradient><linearGradient id="g142" gradientUnits="userSpaceOnUse" x1="0" y1="256.07" x2="0" y2="400.84"><stop offset="0" stop-color="#440255"/><stop offset=".1796" stop-color="#450659"/><stop offset=".2349" stop-color="#460b5e"/><stop offset=".2798" stop-color="#481668"/><stop offset=".297" stop-color="#48186a"/><stop offset=".3247" stop-color="#472c7b"/><stop offset=".3454" stop-color="#443983"/><stop offset=".3661" stop-color="#433e85"/><stop offset=".3799" stop-color="#3d4d8a"/><stop offset=".4076" stop-color="#2b748e"/><stop offset=".4214" stop-color="#277f8e"/><stop offset=".4525" stop-color="#24878e"/><stop offset=".4904" stop-color="#1f988b"/><stop offset=".5077" stop-color="#1f978b"/><stop offset=".5215" stop-color="#228c8d"/><stop offset=".5561" stop-color="#33648d"/><stop offset=".5699" stop-color="#365d8d"/><stop offset=".5837" stop-color="#37598c"/><stop offset=".601" stop-color="#3e4a89"/><stop offset=".6286" stop-color="#472c7b"/><stop offset=".6424" stop-color="#482777"/><stop offset=".6666" stop-color="#482172"/><stop offset=".7046" stop-color="#471163"/><stop offset=".7633" stop-color="#46085c"/><stop offset=".9084" stop-color="#440255"/><stop offset=".9982" stop-color="#440255"/></linearGradient><linearGradient id="g143" gradientUnits="userSpaceOnUse" x1="0" y1="256.07" x2="0" y2="400.84"><stop offset="0" stop-color="#440255"/><stop offset=".1796" stop-color="#450659"/><stop offset=".2349" stop-color="#460a5d"/><stop offset=".2798" stop-color="#481467"/><stop offset=".3005" stop-color="#48186a"/><stop offset=".3385" stop-color="#46327f"/><stop offset=".3661" stop-color="#443b83"/><stop offset=".3799" stop-color="#3e4989"/><stop offset=".4076" stop-color="#2d708e"/><stop offset=".4214" stop-color="#297b8e"/><stop offset=".4455" stop-color="#26818e"/><stop offset=".487" stop-color="#1f9a8a"/><stop offset=".5043" stop-color="#1e9c89"/><stop offset=".5181" stop-color="#1f948c"/><stop offset=".5561" stop-color="#306a8e"/><stop offset=".5699" stop-color="#33648d"/><stop offset=".5837" stop-color="#34608d"/><stop offset=".601" stop-color="#3b508b"/><stop offset=".6286" stop-color="#46307e"/><stop offset=".6424" stop-color="#472a7a"/><stop offset=".6666" stop-color="#482475"/><stop offset=".7046" stop-color="#471265"/><stop offset=".7564" stop-color="#460a5e"/><stop offset=".8013" stop-color="#45065a"/><stop offset=".9464" stop-color="#440255"/><stop offset=".9982" stop-color="#440255"/></linearGradient><linearGradient id="g144" gradientUnits="userSpaceOnUse" x1="0" y1="256.07" x2="0" y2="400.84"><stop offset="0" stop-color="#440255"/><stop offset=".1831" stop-color="#450559"/><stop offset=".2383" stop-color="#460a5d"/><stop offset=".2832" stop-color="#481366"/><stop offset=".3005" stop-color="#481769"/><stop offset=".3419" stop-color="#46307e"/><stop offset=".3661" stop-color="#453781"/><stop offset=".3799" stop-color="#404588"/><stop offset=".4041" stop-color="#31688e"/><stop offset=".4179" stop-color="#2b758e"/><stop offset=".4455" stop-color="#287e8e"/><stop offset=".4835" stop-color="#1e9c8a"/><stop offset=".5008" stop-color="#1fa188"/><stop offset=".5146" stop-color="#1e9b8a"/><stop offset=".5353" stop-color="#24868e"/><stop offset=".5561" stop-color="#2d718e"/><stop offset=".5699" stop-color="#2f6a8e"/><stop offset=".5837" stop-color="#31678e"/><stop offset=".601" stop-color="#39568c"/><stop offset=".6286" stop-color="#453580"/><stop offset=".6424" stop-color="#472e7c"/><stop offset=".6631" stop-color="#482979"/><stop offset=".7046" stop-color="#481466"/><stop offset=".7529" stop-color="#470c5f"/><stop offset=".7875" stop-color="#46075b"/><stop offset=".936" stop-color="#440255"/><stop offset=".9982" stop-color="#440255"/></linearGradient><linearGradient id="g145" gradientUnits="userSpaceOnUse" x1="0" y1="256.07" x2="0" y2="400.84"><stop offset="0" stop-color="#440255"/><stop offset=".1865" stop-color="#450559"/><stop offset=".2383" stop-color="#46095d"/><stop offset=".2832" stop-color="#471264"/><stop offset=".3039" stop-color="#481769"/><stop offset=".3419" stop-color="#472d7c"/><stop offset=".3661" stop-color="#46337f"/><stop offset=".3799" stop-color="#424286"/><stop offset=".4041" stop-color="#33638d"/><stop offset=".4179" stop-color="#2d708e"/><stop offset=".4421" stop-color="#2a788e"/><stop offset=".4663" stop-color="#218e8d"/><stop offset=".487" stop-color="#1fa088"/><stop offset=".5008" stop-color="#20a486"/><stop offset=".5146" stop-color="#1f9f88"/><stop offset=".5353" stop-color="#228b8d"/><stop offset=".5561" stop-color="#2a778e"/><stop offset=".5699" stop-color="#2c728e"/><stop offset=".5837" stop-color="#2e6e8e"/><stop offset=".601" stop-color="#365d8d"/><stop offset=".6286" stop-color="#443a83"/><stop offset=".639" stop-color="#46337f"/><stop offset=".6597" stop-color="#472f7d"/><stop offset=".7046" stop-color="#481668"/><stop offset=".7529" stop-color="#470e60"/><stop offset=".7875" stop-color="#46085b"/><stop offset=".9222" stop-color="#440256"/><stop offset=".9982" stop-color="#440255"/></linearGradient><linearGradient id="g146" gradientUnits="userSpaceOnUse" x1="0" y1="256.07" x2="0" y2="411.18"><stop offset="0" stop-color="#440255"/><stop offset=".1741" stop-color="#450559"/><stop offset=".2257" stop-color="#460a5d"/><stop offset=".2676" stop-color="#471163"/><stop offset=".2869" stop-color="#481769"/><stop offset=".3191" stop-color="#472a79"/><stop offset=".3417" stop-color="#47307d"/><stop offset=".3546" stop-color="#433e85"/><stop offset=".3772" stop-color="#355f8d"/><stop offset=".3901" stop-color="#2f6b8e"/><stop offset=".4126" stop-color="#2c738e"/><stop offset=".432" stop-color="#23888e"/><stop offset=".4481" stop-color="#1e9c89"/><stop offset=".461" stop-color="#21a586"/><stop offset=".4739" stop-color="#20a586"/><stop offset=".49" stop-color="#1f9a8a"/><stop offset=".519" stop-color="#277e8e"/><stop offset=".5351" stop-color="#2a798e"/><stop offset=".548" stop-color="#2c728e"/><stop offset=".5641" stop-color="#355e8d"/><stop offset=".5867" stop-color="#433f85"/><stop offset=".5964" stop-color="#453882"/><stop offset=".6157" stop-color="#46337f"/><stop offset=".6544" stop-color="#48196b"/><stop offset=".7027" stop-color="#470f62"/><stop offset=".735" stop-color="#46095c"/><stop offset=".8478" stop-color="#450356"/><stop offset=".9993" stop-color="#440254"/></linearGradient><linearGradient id="g147" gradientUnits="userSpaceOnUse" x1="0" y1="256.07" x2="0" y2="411.18"><stop offset="0" stop-color="#440255"/><stop offset=".1805" stop-color="#450559"/><stop offset=".2257" stop-color="#46095c"/><stop offset=".2676" stop-color="#471062"/><stop offset=".2869" stop-color="#481668"/><stop offset=".3191" stop-color="#482777"/><stop offset=".3417" stop-color="#472d7b"/><stop offset=".3546" stop-color="#443a83"/><stop offset=".3739" stop-color="#39568c"/><stop offset=".3901" stop-color="#31668e"/><stop offset=".4094" stop-color="#2f6c8e"/><stop offset=".4255" stop-color="#287d8e"/><stop offset=".4449" stop-color="#1f988b"/><stop offset=".4577" stop-color="#20a486"/><stop offset=".4706" stop-color="#22a785"/><stop offset=".4868" stop-color="#1f9f88"/><stop offset=".5125" stop-color="#23898e"/><stop offset=".5287" stop-color="#26818e"/><stop offset=".5416" stop-color="#277e8e"/><stop offset=".5545" stop-color="#2c728e"/><stop offset=".5835" stop-color="#3f4888"/><stop offset=".5964" stop-color="#433d85"/><stop offset=".6157" stop-color="#453882"/><stop offset=".6447" stop-color="#482173"/><stop offset=".6608" stop-color="#48196b"/><stop offset=".6963" stop-color="#471265"/><stop offset=".7318" stop-color="#460a5d"/><stop offset=".8381" stop-color="#450357"/><stop offset=".9993" stop-color="#440254"/></linearGradient><linearGradient id="g148" gradientUnits="userSpaceOnUse" x1="0" y1="256.07" x2="0" y2="411.18"><stop offset="0" stop-color="#440255"/><stop offset=".1837" stop-color="#450559"/><stop offset=".2289" stop-color="#46095c"/><stop offset=".2805" stop-color="#471164"/><stop offset=".3224" stop-color="#482676"/><stop offset=".3417" stop-color="#482a79"/><stop offset=".3546" stop-color="#453681"/><stop offset=".3739" stop-color="#3b518b"/><stop offset=".3901" stop-color="#34618d"/><stop offset=".4094" stop-color="#31678e"/><stop offset=".4223" stop-color="#2b758e"/><stop offset=".4449" stop-color="#1f978b"/><stop offset=".4577" stop-color="#20a486"/><stop offset=".4706" stop-color="#21a785"/><stop offset=".49" stop-color="#1f9e89"/><stop offset=".5222" stop-color="#23898d"/><stop offset=".5416" stop-color="#25858e"/><stop offset=".5545" stop-color="#2a798e"/><stop offset=".5835" stop-color="#3d4d8a"/><stop offset=".5931" stop-color="#414487"/><stop offset=".6157" stop-color="#433d85"/><stop offset=".6415" stop-color="#482777"/><stop offset=".6576" stop-color="#481c6e"/><stop offset=".6963" stop-color="#481467"/><stop offset=".7285" stop-color="#460b5e"/><stop offset=".822" stop-color="#450457"/><stop offset=".9993" stop-color="#440254"/></linearGradient><linearGradient id="g149" gradientUnits="userSpaceOnUse" x1="0" y1="256.07" x2="0" y2="411.18"><stop offset="0" stop-color="#440254"/><stop offset=".2063" stop-color="#450559"/><stop offset=".2805" stop-color="#471063"/><stop offset=".3224" stop-color="#482374"/><stop offset=".3417" stop-color="#482777"/><stop offset=".3578" stop-color="#453782"/><stop offset=".3772" stop-color="#3b518b"/><stop offset=".3901" stop-color="#365c8d"/><stop offset=".4094" stop-color="#33628d"/><stop offset=".4223" stop-color="#2d718e"/><stop offset=".4449" stop-color="#1f958b"/><stop offset=".4577" stop-color="#20a387"/><stop offset=".4706" stop-color="#21a685"/><stop offset=".4964" stop-color="#1e9c89"/><stop offset=".5254" stop-color="#218f8d"/><stop offset=".5416" stop-color="#228c8d"/><stop offset=".5545" stop-color="#277f8e"/><stop offset=".5867" stop-color="#3c4f8b"/><stop offset=".5964" stop-color="#3f4889"/><stop offset=".6125" stop-color="#404487"/><stop offset=".635" stop-color="#46317e"/><stop offset=".6544" stop-color="#482072"/><stop offset=".6737" stop-color="#481c6e"/><stop offset=".7285" stop-color="#460c5f"/><stop offset=".8156" stop-color="#450558"/><stop offset=".9993" stop-color="#440255"/></linearGradient><linearGradient id="g150" gradientUnits="userSpaceOnUse" x1="0" y1="256.07" x2="0" y2="411.18"><stop offset="0" stop-color="#440254"/><stop offset=".2095" stop-color="#450559"/><stop offset=".2837" stop-color="#471063"/><stop offset=".3224" stop-color="#482172"/><stop offset=".3417" stop-color="#482475"/><stop offset=".3578" stop-color="#463380"/><stop offset=".3772" stop-color="#3d4c8a"/><stop offset=".3933" stop-color="#38588c"/><stop offset=".4094" stop-color="#355d8d"/><stop offset=".4223" stop-color="#2e6d8e"/><stop offset=".4449" stop-color="#20928c"/><stop offset=".4577" stop-color="#1fa188"/><stop offset=".4706" stop-color="#20a486"/><stop offset=".5319" stop-color="#1f968b"/><stop offset=".5448" stop-color="#21918c"/><stop offset=".5609" stop-color="#287c8e"/><stop offset=".5835" stop-color="#37598c"/><stop offset=".5931" stop-color="#3c508b"/><stop offset=".6157" stop-color="#3f4889"/><stop offset=".6383" stop-color="#46327f"/><stop offset=".6576" stop-color="#482173"/><stop offset=".6931" stop-color="#48196b"/><stop offset=".7285" stop-color="#470d60"/><stop offset=".8091" stop-color="#450559"/><stop offset=".9993" stop-color="#440255"/></linearGradient><linearGradient id="g151" gradientUnits="userSpaceOnUse" x1="0" y1="256.07" x2="0" y2="411.18"><stop offset="0" stop-color="#440254"/><stop offset=".2128" stop-color="#450559"/><stop offset=".2837" stop-color="#470f62"/><stop offset=".3256" stop-color="#481f70"/><stop offset=".3417" stop-color="#482273"/><stop offset=".3578" stop-color="#47307d"/><stop offset=".3804" stop-color="#3e4a89"/><stop offset=".3965" stop-color="#3a548b"/><stop offset=".4094" stop-color="#38588c"/><stop offset=".4223" stop-color="#30698e"/><stop offset=".4481" stop-color="#20938c"/><stop offset=".461" stop-color="#1fa088"/><stop offset=".4964" stop-color="#1f9f88"/><stop offset=".5383" stop-color="#1e9b8a"/><stop offset=".5512" stop-color="#21918c"/><stop offset=".5802" stop-color="#32648e"/><stop offset=".5931" stop-color="#39568c"/><stop offset=".6125" stop-color="#3b508b"/><stop offset=".6318" stop-color="#433e85"/><stop offset=".6544" stop-color="#482677"/><stop offset=".6673" stop-color="#482273"/><stop offset=".6931" stop-color="#481b6d"/><stop offset=".7253" stop-color="#470e61"/><stop offset=".8059" stop-color="#450659"/><stop offset=".9993" stop-color="#440255"/></linearGradient><linearGradient id="g152" gradientUnits="userSpaceOnUse" x1="0" y1="256.07" x2="0" y2="411.18"><stop offset="0" stop-color="#440254"/><stop offset=".216" stop-color="#450559"/><stop offset=".2837" stop-color="#470e61"/><stop offset=".3256" stop-color="#481d6f"/><stop offset=".3417" stop-color="#481f71"/><stop offset=".3578" stop-color="#472d7b"/><stop offset=".3804" stop-color="#404688"/><stop offset=".3965" stop-color="#3c4f8a"/><stop offset=".4062" stop-color="#3b518b"/><stop offset=".4191" stop-color="#355f8d"/><stop offset=".4449" stop-color="#228b8d"/><stop offset=".4577" stop-color="#1f9a8a"/><stop offset=".4706" stop-color="#1e9d89"/><stop offset=".5351" stop-color="#20a387"/><stop offset=".5448" stop-color="#1f9e89"/><stop offset=".5577" stop-color="#218e8d"/><stop offset=".5835" stop-color="#32668e"/><stop offset=".5931" stop-color="#365d8d"/><stop offset=".6125" stop-color="#39578c"/><stop offset=".6286" stop-color="#3f4788"/><stop offset=".6512" stop-color="#472c7b"/><stop offset=".6641" stop-color="#482576"/><stop offset=".6866" stop-color="#482172"/><stop offset=".7253" stop-color="#471062"/><stop offset=".8059" stop-color="#45065a"/><stop offset=".9832" stop-color="#440255"/><stop offset=".9993" stop-color="#440255"/></linearGradient><linearGradient id="g153" gradientUnits="userSpaceOnUse" x1="0" y1="256.07" x2="0" y2="411.18"><stop offset="0" stop-color="#440254"/><stop offset=".216" stop-color="#450558"/><stop offset=".2837" stop-color="#470d60"/><stop offset=".3256" stop-color="#481b6d"/><stop offset=".3417" stop-color="#481d6f"/><stop offset=".3578" stop-color="#482a79"/><stop offset=".3804" stop-color="#424186"/><stop offset=".3965" stop-color="#3e4a89"/><stop offset=".4062" stop-color="#3d4c8a"/><stop offset=".4158" stop-color="#39568c"/><stop offset=".4449" stop-color="#24878e"/><stop offset=".4577" stop-color="#1f968b"/><stop offset=".4706" stop-color="#1f998a"/><stop offset=".5093" stop-color="#20a486"/><stop offset=".5351" stop-color="#23a984"/><stop offset=".548" stop-color="#1fa188"/><stop offset=".5609" stop-color="#218f8d"/><stop offset=".5835" stop-color="#2f6c8e"/><stop offset=".5964" stop-color="#33628d"/><stop offset=".6125" stop-color="#355d8d"/><stop offset=".6286" stop-color="#3d4d8a"/><stop offset=".6512" stop-color="#46307e"/><stop offset=".6641" stop-color="#482978"/><stop offset=".6866" stop-color="#482474"/><stop offset=".7253" stop-color="#471164"/><stop offset=".7737" stop-color="#460a5d"/><stop offset=".8478" stop-color="#450457"/><stop offset=".9993" stop-color="#440255"/></linearGradient><linearGradient id="g154" gradientUnits="userSpaceOnUse" x1="0" y1="266.41" x2="0" y2="411.18"><stop offset="0" stop-color="#440255"/><stop offset=".1727" stop-color="#450659"/><stop offset=".2349" stop-color="#470d60"/><stop offset=".2798" stop-color="#48196b"/><stop offset=".297" stop-color="#481c6e"/><stop offset=".3212" stop-color="#47307d"/><stop offset=".3419" stop-color="#424186"/><stop offset=".3661" stop-color="#3f4889"/><stop offset=".3799" stop-color="#37598c"/><stop offset=".4076" stop-color="#25858e"/><stop offset=".4214" stop-color="#20928c"/><stop offset=".449" stop-color="#1f998a"/><stop offset=".4732" stop-color="#21a685"/><stop offset=".4974" stop-color="#28ae80"/><stop offset=".5112" stop-color="#24aa83"/><stop offset=".525" stop-color="#1e9b8a"/><stop offset=".5492" stop-color="#2a788e"/><stop offset=".563" stop-color="#2f6b8e"/><stop offset=".5837" stop-color="#32658e"/><stop offset=".601" stop-color="#3a548c"/><stop offset=".6251" stop-color="#453681"/><stop offset=".639" stop-color="#472d7b"/><stop offset=".6631" stop-color="#482777"/><stop offset=".7046" stop-color="#471365"/><stop offset=".7564" stop-color="#460b5e"/><stop offset=".7978" stop-color="#46075a"/><stop offset=".936" stop-color="#440255"/><stop offset=".9982" stop-color="#440255"/></linearGradient><linearGradient id="g155" gradientUnits="userSpaceOnUse" x1="0" y1="266.41" x2="0" y2="411.18"><stop offset="0" stop-color="#440255"/><stop offset=".1761" stop-color="#45065a"/><stop offset=".2349" stop-color="#460c5f"/><stop offset=".2798" stop-color="#48176a"/><stop offset=".297" stop-color="#481a6c"/><stop offset=".3212" stop-color="#472c7b"/><stop offset=".3454" stop-color="#433e85"/><stop offset=".3661" stop-color="#414487"/><stop offset=".3799" stop-color="#3a548c"/><stop offset=".4076" stop-color="#27808e"/><stop offset=".4214" stop-color="#228d8d"/><stop offset=".4455" stop-color="#20938c"/><stop offset=".4663" stop-color="#1fa287"/><stop offset=".487" stop-color="#2ab07f"/><stop offset=".5008" stop-color="#2db27d"/><stop offset=".5146" stop-color="#26ac82"/><stop offset=".525" stop-color="#1fa188"/><stop offset=".5388" stop-color="#228d8d"/><stop offset=".5561" stop-color="#2a778e"/><stop offset=".5699" stop-color="#2d708e"/><stop offset=".5837" stop-color="#2f6c8e"/><stop offset=".601" stop-color="#375a8d"/><stop offset=".6286" stop-color="#453782"/><stop offset=".639" stop-color="#46317e"/><stop offset=".6631" stop-color="#472b7a"/><stop offset=".7046" stop-color="#481567"/><stop offset=".7529" stop-color="#470d60"/><stop offset=".7875" stop-color="#46085b"/><stop offset=".9291" stop-color="#440255"/><stop offset=".9982" stop-color="#440255"/></linearGradient><linearGradient id="g156" gradientUnits="userSpaceOnUse" x1="0" y1="266.41" x2="0" y2="421.52"><stop offset="0" stop-color="#440255"/><stop offset=".1676" stop-color="#450659"/><stop offset=".2192" stop-color="#460b5e"/><stop offset=".2611" stop-color="#481668"/><stop offset=".2772" stop-color="#48196b"/><stop offset=".303" stop-color="#472c7b"/><stop offset=".3224" stop-color="#443a83"/><stop offset=".3417" stop-color="#423f85"/><stop offset=".3546" stop-color="#3c508b"/><stop offset=".3804" stop-color="#297b8e"/><stop offset=".3933" stop-color="#24878e"/><stop offset=".4126" stop-color="#228d8d"/><stop offset=".432" stop-color="#1f9e89"/><stop offset=".4449" stop-color="#25ab82"/><stop offset=".461" stop-color="#32b57a"/><stop offset=".4706" stop-color="#32b67a"/><stop offset=".4835" stop-color="#27ad81"/><stop offset=".4932" stop-color="#1fa187"/><stop offset=".5061" stop-color="#218e8d"/><stop offset=".5222" stop-color="#287b8e"/><stop offset=".5448" stop-color="#2c738e"/><stop offset=".5609" stop-color="#34618d"/><stop offset=".5867" stop-color="#443c84"/><stop offset=".5964" stop-color="#453580"/><stop offset=".6157" stop-color="#46317e"/><stop offset=".6576" stop-color="#481669"/><stop offset=".6995" stop-color="#470f62"/><stop offset=".7318" stop-color="#46085c"/><stop offset=".8607" stop-color="#440356"/><stop offset=".9993" stop-color="#440254"/></linearGradient><linearGradient id="g157" gradientUnits="userSpaceOnUse" x1="0" y1="266.41" x2="0" y2="421.52"><stop offset="0" stop-color="#440255"/><stop offset=".1676" stop-color="#450659"/><stop offset=".2192" stop-color="#460a5e"/><stop offset=".2611" stop-color="#481467"/><stop offset=".2805" stop-color="#48186b"/><stop offset=".3159" stop-color="#46327f"/><stop offset=".3417" stop-color="#443b84"/><stop offset=".3546" stop-color="#3e4b8a"/><stop offset=".3804" stop-color="#2b758e"/><stop offset=".3933" stop-color="#26818e"/><stop offset=".4126" stop-color="#24888e"/><stop offset=".432" stop-color="#1e9d89"/><stop offset=".4416" stop-color="#23a984"/><stop offset=".4577" stop-color="#34b779"/><stop offset=".4674" stop-color="#38b977"/><stop offset=".4771" stop-color="#32b67a"/><stop offset=".4932" stop-color="#21a585"/><stop offset=".5029" stop-color="#1f988b"/><stop offset=".519" stop-color="#25858e"/><stop offset=".5319" stop-color="#277f8e"/><stop offset=".5448" stop-color="#297a8e"/><stop offset=".5609" stop-color="#31678e"/><stop offset=".5867" stop-color="#424186"/><stop offset=".5964" stop-color="#443a83"/><stop offset=".6157" stop-color="#453580"/><stop offset=".6544" stop-color="#481a6c"/><stop offset=".7027" stop-color="#470f62"/><stop offset=".735" stop-color="#46095c"/><stop offset=".8414" stop-color="#450356"/><stop offset=".9993" stop-color="#440254"/></linearGradient><linearGradient id="g158" gradientUnits="userSpaceOnUse" x1="0" y1="266.41" x2="0" y2="421.52"><stop offset="0" stop-color="#440255"/><stop offset=".1708" stop-color="#450659"/><stop offset=".2224" stop-color="#460a5e"/><stop offset=".2643" stop-color="#481366"/><stop offset=".2805" stop-color="#481769"/><stop offset=".3191" stop-color="#46317e"/><stop offset=".3417" stop-color="#453782"/><stop offset=".3546" stop-color="#404788"/><stop offset=".3772" stop-color="#2f6c8e"/><stop offset=".3901" stop-color="#29798e"/><stop offset=".4094" stop-color="#27808e"/><stop offset=".4223" stop-color="#228d8d"/><stop offset=".4352" stop-color="#1f9f88"/><stop offset=".4449" stop-color="#26ac81"/><stop offset=".4577" stop-color="#37b878"/><stop offset=".4674" stop-color="#3bbb75"/><stop offset=".4771" stop-color="#36b878"/><stop offset=".4932" stop-color="#23a983"/><stop offset=".5029" stop-color="#1f9e89"/><stop offset=".519" stop-color="#228c8d"/><stop offset=".5319" stop-color="#24878e"/><stop offset=".5448" stop-color="#26828e"/><stop offset=".5609" stop-color="#2e6e8e"/><stop offset=".5835" stop-color="#3e4a89"/><stop offset=".5931" stop-color="#424186"/><stop offset=".6157" stop-color="#443a83"/><stop offset=".6415" stop-color="#482575"/><stop offset=".6608" stop-color="#48196c"/><stop offset=".6963" stop-color="#471365"/><stop offset=".7318" stop-color="#460a5d"/><stop offset=".8317" stop-color="#450457"/><stop offset=".9993" stop-color="#440255"/></linearGradient><linearGradient id="g159" gradientUnits="userSpaceOnUse" x1="0" y1="266.41" x2="0" y2="421.52"><stop offset="0" stop-color="#440255"/><stop offset=".1741" stop-color="#450659"/><stop offset=".2224" stop-color="#460a5d"/><stop offset=".2643" stop-color="#471264"/><stop offset=".2837" stop-color="#481769"/><stop offset=".3191" stop-color="#472d7b"/><stop offset=".3417" stop-color="#46337f"/><stop offset=".3546" stop-color="#414287"/><stop offset=".3772" stop-color="#31668e"/><stop offset=".3901" stop-color="#2c738e"/><stop offset=".4094" stop-color="#297a8e"/><stop offset=".4223" stop-color="#23888e"/><stop offset=".4352" stop-color="#1e9d89"/><stop offset=".4449" stop-color="#25ac82"/><stop offset=".4577" stop-color="#38b977"/><stop offset=".4674" stop-color="#3dbc74"/><stop offset=".4771" stop-color="#38b977"/><stop offset=".4964" stop-color="#23a983"/><stop offset=".5093" stop-color="#1e9c89"/><stop offset=".5254" stop-color="#21908c"/><stop offset=".5416" stop-color="#228c8d"/><stop offset=".5545" stop-color="#277f8e"/><stop offset=".5835" stop-color="#3c508b"/><stop offset=".5931" stop-color="#404688"/><stop offset=".6157" stop-color="#433f85"/><stop offset=".6383" stop-color="#472b7a"/><stop offset=".6576" stop-color="#481d6f"/><stop offset=".6963" stop-color="#481567"/><stop offset=".7285" stop-color="#460b5e"/><stop offset=".8188" stop-color="#450458"/><stop offset=".9993" stop-color="#440255"/></linearGradient><linearGradient id="g160" gradientUnits="userSpaceOnUse" x1="0" y1="266.41" x2="0" y2="421.52"><stop offset="0" stop-color="#440255"/><stop offset=".1741" stop-color="#450559"/><stop offset=".2257" stop-color="#460a5d"/><stop offset=".2676" stop-color="#471163"/><stop offset=".2869" stop-color="#481769"/><stop offset=".3191" stop-color="#482a79"/><stop offset=".3417" stop-color="#47307d"/><stop offset=".3546" stop-color="#433e85"/><stop offset=".3739" stop-color="#365c8d"/><stop offset=".3868" stop-color="#2f6b8e"/><stop offset=".3997" stop-color="#2d718e"/><stop offset=".4094" stop-color="#2b748e"/><stop offset=".4223" stop-color="#25848e"/><stop offset=".4352" stop-color="#1f9a8a"/><stop offset=".4416" stop-color="#20a586"/><stop offset=".4545" stop-color="#32b67a"/><stop offset=".4642" stop-color="#3cbb75"/><stop offset=".4739" stop-color="#3aba76"/><stop offset=".4932" stop-color="#29af7f"/><stop offset=".5061" stop-color="#20a486"/><stop offset=".5254" stop-color="#1f988b"/><stop offset=".5416" stop-color="#20948c"/><stop offset=".5545" stop-color="#24868e"/><stop offset=".5835" stop-color="#39568c"/><stop offset=".5931" stop-color="#3d4c8a"/><stop offset=".6157" stop-color="#414487"/><stop offset=".6383" stop-color="#472f7d"/><stop offset=".6576" stop-color="#481f71"/><stop offset=".6931" stop-color="#48186a"/><stop offset=".7285" stop-color="#470c5f"/><stop offset=".8123" stop-color="#450558"/><stop offset=".9993" stop-color="#440255"/></linearGradient><linearGradient id="g161" gradientUnits="userSpaceOnUse" x1="0" y1="266.41" x2="0" y2="421.52"><stop offset="0" stop-color="#440255"/><stop offset=".1805" stop-color="#450559"/><stop offset=".2257" stop-color="#46095c"/><stop offset=".2676" stop-color="#470f62"/><stop offset=".2869" stop-color="#481568"/><stop offset=".3224" stop-color="#482878"/><stop offset=".3417" stop-color="#472c7b"/><stop offset=".3546" stop-color="#443a83"/><stop offset=".3739" stop-color="#38578c"/><stop offset=".3868" stop-color="#32658e"/><stop offset=".3997" stop-color="#2f6a8e"/><stop offset=".4094" stop-color="#2e6e8e"/><stop offset=".4223" stop-color="#277f8e"/><stop offset=".4384" stop-color="#1e9c89"/><stop offset=".4449" stop-color="#22a784"/><stop offset=".4577" stop-color="#34b679"/><stop offset=".4674" stop-color="#39ba76"/><stop offset=".4835" stop-color="#32b67a"/><stop offset=".5061" stop-color="#23a884"/><stop offset=".5287" stop-color="#1f9f88"/><stop offset=".5416" stop-color="#1e9b8a"/><stop offset=".5545" stop-color="#228d8d"/><stop offset=".5835" stop-color="#365c8d"/><stop offset=".5931" stop-color="#3b528b"/><stop offset=".6157" stop-color="#3e4a89"/><stop offset=".6383" stop-color="#46337f"/><stop offset=".6544" stop-color="#482475"/><stop offset=".6705" stop-color="#482071"/><stop offset=".6995" stop-color="#481769"/><stop offset=".7285" stop-color="#470d60"/><stop offset=".8091" stop-color="#450559"/><stop offset=".9993" stop-color="#440255"/></linearGradient><linearGradient id="g162" gradientUnits="userSpaceOnUse" x1="0" y1="266.41" x2="0" y2="421.52"><stop offset="0" stop-color="#440255"/><stop offset=".1837" stop-color="#450559"/><stop offset=".2289" stop-color="#46095c"/><stop offset=".2805" stop-color="#471164"/><stop offset=".3224" stop-color="#482575"/><stop offset=".3417" stop-color="#482979"/><stop offset=".3546" stop-color="#453681"/><stop offset=".3739" stop-color="#3b518b"/><stop offset=".3901" stop-color="#34618d"/><stop offset=".4094" stop-color="#30688e"/><stop offset=".4223" stop-color="#297a8e"/><stop offset=".4384" stop-color="#1f988b"/><stop offset=".4449" stop-color="#20a486"/><stop offset=".4577" stop-color="#2fb47c"/><stop offset=".4674" stop-color="#35b779"/><stop offset=".49" stop-color="#2eb27d"/><stop offset=".519" stop-color="#22a884"/><stop offset=".5416" stop-color="#20a387"/><stop offset=".5545" stop-color="#20948c"/><stop offset=".577" stop-color="#2f6c8e"/><stop offset=".5899" stop-color="#375b8d"/><stop offset=".5996" stop-color="#39568c"/><stop offset=".6125" stop-color="#3b528b"/><stop offset=".6318" stop-color="#423f85"/><stop offset=".6544" stop-color="#482777"/><stop offset=".6673" stop-color="#482374"/><stop offset=".6931" stop-color="#481c6e"/><stop offset=".7253" stop-color="#470f62"/><stop offset=".8059" stop-color="#450659"/><stop offset=".9993" stop-color="#440255"/></linearGradient><linearGradient id="g163" gradientUnits="userSpaceOnUse" x1="0" y1="266.41" x2="0" y2="421.52"><stop offset="0" stop-color="#440255"/><stop offset=".2095" stop-color="#450659"/><stop offset=".2837" stop-color="#471164"/><stop offset=".3224" stop-color="#482273"/><stop offset=".3417" stop-color="#482676"/><stop offset=".3546" stop-color="#46327f"/><stop offset=".3739" stop-color="#3d4c8a"/><stop offset=".3901" stop-color="#365b8d"/><stop offset=".4062" stop-color="#34608d"/><stop offset=".4158" stop-color="#306a8e"/><stop offset=".4352" stop-color="#228d8d"/><stop offset=".4449" stop-color="#1fa088"/><stop offset=".4545" stop-color="#27ad81"/><stop offset=".4642" stop-color="#2fb37c"/><stop offset=".5061" stop-color="#29af7f"/><stop offset=".5383" stop-color="#26ac82"/><stop offset=".548" stop-color="#20a486"/><stop offset=".5577" stop-color="#1f968b"/><stop offset=".5802" stop-color="#2e6d8e"/><stop offset=".5931" stop-color="#355f8d"/><stop offset=".6125" stop-color="#38588c"/><stop offset=".6286" stop-color="#3f4889"/><stop offset=".6512" stop-color="#472d7c"/><stop offset=".6641" stop-color="#482676"/><stop offset=".6866" stop-color="#482172"/><stop offset=".7253" stop-color="#471063"/><stop offset=".8059" stop-color="#45065a"/><stop offset=".9767" stop-color="#440255"/><stop offset=".9993" stop-color="#440255"/></linearGradient><linearGradient id="g164" gradientUnits="userSpaceOnUse" x1="0" y1="266.41" x2="0" y2="421.52"><stop offset="0" stop-color="#440254"/><stop offset=".2095" stop-color="#450559"/><stop offset=".2837" stop-color="#471063"/><stop offset=".3224" stop-color="#482071"/><stop offset=".3417" stop-color="#482374"/><stop offset=".3578" stop-color="#46337f"/><stop offset=".3772" stop-color="#3e4b89"/><stop offset=".3933" stop-color="#38578c"/><stop offset=".4062" stop-color="#375a8d"/><stop offset=".4158" stop-color="#32658e"/><stop offset=".4352" stop-color="#23888e"/><stop offset=".4449" stop-color="#1e9b8a"/><stop offset=".4545" stop-color="#23a984"/><stop offset=".4642" stop-color="#29af80"/><stop offset=".5351" stop-color="#2fb37c"/><stop offset=".5448" stop-color="#28ae80"/><stop offset=".5545" stop-color="#1fa287"/><stop offset=".5641" stop-color="#20918c"/><stop offset=".5835" stop-color="#2d6f8e"/><stop offset=".5931" stop-color="#32658e"/><stop offset=".6125" stop-color="#355f8d"/><stop offset=".6286" stop-color="#3c4e8a"/><stop offset=".6512" stop-color="#46317e"/><stop offset=".6641" stop-color="#482979"/><stop offset=".6866" stop-color="#482475"/><stop offset=".7253" stop-color="#471164"/><stop offset=".7737" stop-color="#460a5d"/><stop offset=".8446" stop-color="#450458"/><stop offset=".9993" stop-color="#440255"/></linearGradient><linearGradient id="g165" gradientUnits="userSpaceOnUse" x1="0" y1="266.41" x2="0" y2="421.52"><stop offset="0" stop-color="#440254"/><stop offset=".2128" stop-color="#450559"/><stop offset=".2837" stop-color="#470f62"/><stop offset=".3256" stop-color="#481e70"/><stop offset=".3417" stop-color="#482172"/><stop offset=".3578" stop-color="#472f7d"/><stop offset=".3804" stop-color="#3f4989"/><stop offset=".3965" stop-color="#3b528b"/><stop offset=".4062" stop-color="#39558c"/><stop offset=".4158" stop-color="#345f8d"/><stop offset=".4384" stop-color="#238a8d"/><stop offset=".4481" stop-color="#1e9b8a"/><stop offset=".4577" stop-color="#21a685"/><stop offset=".4706" stop-color="#24aa83"/><stop offset=".4964" stop-color="#2bb17e"/><stop offset=".5287" stop-color="#39b977"/><stop offset=".5383" stop-color="#37b877"/><stop offset=".548" stop-color="#2bb17e"/><stop offset=".5577" stop-color="#20a387"/><stop offset=".5673" stop-color="#20918c"/><stop offset=".5835" stop-color="#2b768e"/><stop offset=".5931" stop-color="#2f6c8e"/><stop offset=".6125" stop-color="#32668e"/><stop offset=".6286" stop-color="#3a548c"/><stop offset=".6512" stop-color="#453581"/><stop offset=".6641" stop-color="#472d7b"/><stop offset=".6866" stop-color="#482777"/><stop offset=".7221" stop-color="#481466"/><stop offset=".7769" stop-color="#460a5d"/><stop offset=".8671" stop-color="#450457"/><stop offset=".9993" stop-color="#440255"/></linearGradient><linearGradient id="g166" gradientUnits="userSpaceOnUse" x1="0" y1="266.41" x2="0" y2="431.86"><stop offset="0" stop-color="#440254"/><stop offset=".2025" stop-color="#450559"/><stop offset=".2659" stop-color="#470e61"/><stop offset=".3052" stop-color="#481c6e"/><stop offset=".3203" stop-color="#481f70"/><stop offset=".3355" stop-color="#472c7b"/><stop offset=".3566" stop-color="#414487"/><stop offset=".3717" stop-color="#3d4d8a"/><stop offset=".3808" stop-color="#3c4f8b"/><stop offset=".3899" stop-color="#375a8c"/><stop offset=".414" stop-color="#238a8d"/><stop offset=".4261" stop-color="#1f9e89"/><stop offset=".4352" stop-color="#20a486"/><stop offset=".4533" stop-color="#23a884"/><stop offset=".4714" stop-color="#2fb37c"/><stop offset=".4926" stop-color="#41be72"/><stop offset=".5017" stop-color="#43be71"/><stop offset=".5107" stop-color="#39b976"/><stop offset=".5228" stop-color="#23a983"/><stop offset=".5289" stop-color="#1f9e89"/><stop offset=".544" stop-color="#26828e"/><stop offset=".5561" stop-color="#2c748e"/><stop offset=".5742" stop-color="#2e6d8e"/><stop offset=".5893" stop-color="#375a8d"/><stop offset=".6105" stop-color="#443a83"/><stop offset=".6195" stop-color="#46327f"/><stop offset=".6437" stop-color="#472b7a"/><stop offset=".677" stop-color="#481568"/><stop offset=".7253" stop-color="#460c5f"/><stop offset=".7585" stop-color="#46085b"/><stop offset=".8704" stop-color="#440256"/><stop offset=".9973" stop-color="#440254"/></linearGradient><linearGradient id="g167" gradientUnits="userSpaceOnUse" x1="0" y1="266.41" x2="0" y2="431.86"><stop offset="0" stop-color="#440254"/><stop offset=".2025" stop-color="#450558"/><stop offset=".2659" stop-color="#470d60"/><stop offset=".3052" stop-color="#481a6c"/><stop offset=".3234" stop-color="#481e70"/><stop offset=".3445" stop-color="#46337f"/><stop offset=".3627" stop-color="#414487"/><stop offset=".3808" stop-color="#3e4a89"/><stop offset=".3899" stop-color="#39558c"/><stop offset=".414" stop-color="#25848e"/><stop offset=".4261" stop-color="#1f978b"/><stop offset=".4352" stop-color="#1f9e89"/><stop offset=".4503" stop-color="#1fa287"/><stop offset=".4624" stop-color="#25ab82"/><stop offset=".4775" stop-color="#38b977"/><stop offset=".4926" stop-color="#4ac26d"/><stop offset=".5017" stop-color="#4dc36c"/><stop offset=".5077" stop-color="#47c06f"/><stop offset=".5198" stop-color="#2eb37c"/><stop offset=".5258" stop-color="#23a983"/><stop offset=".5319" stop-color="#1f9e89"/><stop offset=".547" stop-color="#25848e"/><stop offset=".5561" stop-color="#297b8e"/><stop offset=".5712" stop-color="#2a768e"/><stop offset=".5833" stop-color="#306a8e"/><stop offset=".6044" stop-color="#3f4788"/><stop offset=".6165" stop-color="#453882"/><stop offset=".6437" stop-color="#472e7c"/><stop offset=".677" stop-color="#48176a"/><stop offset=".7223" stop-color="#470e61"/><stop offset=".7525" stop-color="#46085c"/><stop offset=".8613" stop-color="#450356"/><stop offset=".9973" stop-color="#440254"/></linearGradient><linearGradient id="g168" gradientUnits="userSpaceOnUse" x1="0" y1="266.41" x2="0" y2="431.86"><stop offset="0" stop-color="#440254"/><stop offset=".2055" stop-color="#450558"/><stop offset=".2659" stop-color="#460c5f"/><stop offset=".3052" stop-color="#48186a"/><stop offset=".3234" stop-color="#481c6e"/><stop offset=".3475" stop-color="#46327f"/><stop offset=".3657" stop-color="#424186"/><stop offset=".3808" stop-color="#404588"/><stop offset=".3899" stop-color="#3c508b"/><stop offset=".414" stop-color="#277e8e"/><stop offset=".4261" stop-color="#20918c"/><stop offset=".4352" stop-color="#1f978b"/><stop offset=".4503" stop-color="#1e9c89"/><stop offset=".4624" stop-color="#22a884"/><stop offset=".4714" stop-color="#2eb37d"/><stop offset=".4866" stop-color="#4ac16d"/><stop offset=".4956" stop-color="#54c667"/><stop offset=".5017" stop-color="#55c667"/><stop offset=".5077" stop-color="#50c46a"/><stop offset=".5168" stop-color="#3dbc74"/><stop offset=".5258" stop-color="#28ae80"/><stop offset=".5319" stop-color="#20a486"/><stop offset=".541" stop-color="#20948c"/><stop offset=".553" stop-color="#25858e"/><stop offset=".5742" stop-color="#287c8e"/><stop offset=".5893" stop-color="#31678e"/><stop offset=".6105" stop-color="#414487"/><stop offset=".6195" stop-color="#443b83"/><stop offset=".6407" stop-color="#463480"/><stop offset=".677" stop-color="#48196b"/><stop offset=".7223" stop-color="#470f62"/><stop offset=".7495" stop-color="#46095d"/><stop offset=".8553" stop-color="#450356"/><stop offset=".9973" stop-color="#440255"/></linearGradient><linearGradient id="g169" gradientUnits="userSpaceOnUse" x1="0" y1="276.75" x2="0" y2="431.86"><stop offset="0" stop-color="#440255"/><stop offset=".1644" stop-color="#450659"/><stop offset=".2192" stop-color="#460c5f"/><stop offset=".2611" stop-color="#481769"/><stop offset=".2772" stop-color="#48196c"/><stop offset=".2998" stop-color="#472b7a"/><stop offset=".3224" stop-color="#443c84"/><stop offset=".3417" stop-color="#414286"/><stop offset=".3546" stop-color="#3a538b"/><stop offset=".3804" stop-color="#26818e"/><stop offset=".3933" stop-color="#218e8d"/><stop offset=".4094" stop-color="#20938c"/><stop offset=".4255" stop-color="#20a386"/><stop offset=".4352" stop-color="#2ab07f"/><stop offset=".4513" stop-color="#4cc26c"/><stop offset=".461" stop-color="#5ac864"/><stop offset=".4674" stop-color="#5cc863"/><stop offset=".4739" stop-color="#58c765"/><stop offset=".4835" stop-color="#47c06f"/><stop offset=".4964" stop-color="#2ab07f"/><stop offset=".5029" stop-color="#21a685"/><stop offset=".5125" stop-color="#1f988b"/><stop offset=".5254" stop-color="#228b8d"/><stop offset=".5416" stop-color="#24878e"/><stop offset=".5545" stop-color="#29798e"/><stop offset=".5802" stop-color="#3c4f8b"/><stop offset=".5931" stop-color="#424086"/><stop offset=".6157" stop-color="#443a83"/><stop offset=".6415" stop-color="#482575"/><stop offset=".6608" stop-color="#48196c"/><stop offset=".6963" stop-color="#471365"/><stop offset=".7318" stop-color="#460a5d"/><stop offset=".8317" stop-color="#450457"/><stop offset=".9993" stop-color="#440255"/></linearGradient><linearGradient id="g170" gradientUnits="userSpaceOnUse" x1="0" y1="276.75" x2="0" y2="431.86"><stop offset="0" stop-color="#440255"/><stop offset=".1676" stop-color="#450659"/><stop offset=".2192" stop-color="#460b5e"/><stop offset=".2611" stop-color="#481568"/><stop offset=".2805" stop-color="#48196b"/><stop offset=".3159" stop-color="#463480"/><stop offset=".332" stop-color="#443a83"/><stop offset=".3417" stop-color="#433d85"/><stop offset=".3546" stop-color="#3c4e8a"/><stop offset=".3804" stop-color="#297b8e"/><stop offset=".3933" stop-color="#24878e"/><stop offset=".4094" stop-color="#228c8d"/><stop offset=".4223" stop-color="#1f9a8a"/><stop offset=".4287" stop-color="#20a486"/><stop offset=".4352" stop-color="#28ae80"/><stop offset=".4513" stop-color="#4dc36b"/><stop offset=".461" stop-color="#5ec962"/><stop offset=".4674" stop-color="#60ca60"/><stop offset=".4739" stop-color="#5cc963"/><stop offset=".4835" stop-color="#4cc36c"/><stop offset=".4997" stop-color="#2ab07f"/><stop offset=".5093" stop-color="#20a387"/><stop offset=".5222" stop-color="#1f968b"/><stop offset=".5416" stop-color="#218f8d"/><stop offset=".5545" stop-color="#26818e"/><stop offset=".5835" stop-color="#3b508b"/><stop offset=".5931" stop-color="#404688"/><stop offset=".6157" stop-color="#433f85"/><stop offset=".6415" stop-color="#482878"/><stop offset=".6576" stop-color="#481d6f"/><stop offset=".6963" stop-color="#481567"/><stop offset=".7285" stop-color="#460b5e"/><stop offset=".8188" stop-color="#450458"/><stop offset=".9993" stop-color="#440255"/></linearGradient><linearGradient id="g171" gradientUnits="userSpaceOnUse" x1="0" y1="276.75" x2="0" y2="431.86"><stop offset="0" stop-color="#440255"/><stop offset=".1708" stop-color="#450659"/><stop offset=".2224" stop-color="#460b5e"/><stop offset=".2643" stop-color="#481466"/><stop offset=".2805" stop-color="#48176a"/><stop offset=".3159" stop-color="#46307e"/><stop offset=".3417" stop-color="#443982"/><stop offset=".3546" stop-color="#3f4989"/><stop offset=".3772" stop-color="#2d708e"/><stop offset=".3901" stop-color="#277e8e"/><stop offset=".4094" stop-color="#25858e"/><stop offset=".4223" stop-color="#1f958b"/><stop offset=".4287" stop-color="#1fa088"/><stop offset=".4352" stop-color="#25ab82"/><stop offset=".4449" stop-color="#3bbb75"/><stop offset=".4545" stop-color="#53c568"/><stop offset=".461" stop-color="#5ec962"/><stop offset=".4674" stop-color="#61ca60"/><stop offset=".4771" stop-color="#5ac864"/><stop offset=".49" stop-color="#43be71"/><stop offset=".5029" stop-color="#2ab07f"/><stop offset=".5125" stop-color="#21a585"/><stop offset=".5287" stop-color="#1f9a8a"/><stop offset=".5416" stop-color="#1f978b"/><stop offset=".5545" stop-color="#23888e"/><stop offset=".5835" stop-color="#39568c"/><stop offset=".5931" stop-color="#3e4c8a"/><stop offset=".6157" stop-color="#414487"/><stop offset=".6383" stop-color="#472f7d"/><stop offset=".6576" stop-color="#481f71"/><stop offset=".6963" stop-color="#481669"/><stop offset=".7285" stop-color="#470c5f"/><stop offset=".8123" stop-color="#450558"/><stop offset=".9993" stop-color="#440255"/></linearGradient><linearGradient id="g172" gradientUnits="userSpaceOnUse" x1="0" y1="276.75" x2="0" y2="431.86"><stop offset="0" stop-color="#440255"/><stop offset=".1708" stop-color="#450659"/><stop offset=".2224" stop-color="#460a5d"/><stop offset=".2643" stop-color="#471265"/><stop offset=".2837" stop-color="#48176a"/><stop offset=".3191" stop-color="#472e7c"/><stop offset=".3417" stop-color="#463480"/><stop offset=".3546" stop-color="#414487"/><stop offset=".3772" stop-color="#30698e"/><stop offset=".3901" stop-color="#2a778e"/><stop offset=".4094" stop-color="#277e8e"/><stop offset=".4223" stop-color="#218f8d"/><stop offset=".432" stop-color="#1fa188"/><stop offset=".4384" stop-color="#27ad81"/><stop offset=".4513" stop-color="#48c16e"/><stop offset=".4577" stop-color="#56c666"/><stop offset=".4642" stop-color="#5dc962"/><stop offset=".4739" stop-color="#5bc863"/><stop offset=".4868" stop-color="#4ac26d"/><stop offset=".5061" stop-color="#2bb17e"/><stop offset=".519" stop-color="#21a685"/><stop offset=".5416" stop-color="#1f9f88"/><stop offset=".5545" stop-color="#218f8d"/><stop offset=".5802" stop-color="#34618d"/><stop offset=".5899" stop-color="#3a548b"/><stop offset=".5996" stop-color="#3c4f8a"/><stop offset=".6157" stop-color="#3f4989"/><stop offset=".6383" stop-color="#46327f"/><stop offset=".6544" stop-color="#482374"/><stop offset=".6705" stop-color="#481f71"/><stop offset=".6995" stop-color="#481769"/><stop offset=".7285" stop-color="#470d60"/><stop offset=".8091" stop-color="#450559"/><stop offset=".9993" stop-color="#440255"/></linearGradient><linearGradient id="g173" gradientUnits="userSpaceOnUse" x1="0" y1="276.75" x2="0" y2="431.86"><stop offset="0" stop-color="#440255"/><stop offset=".1741" stop-color="#450559"/><stop offset=".2224" stop-color="#46095d"/><stop offset=".2643" stop-color="#471164"/><stop offset=".2837" stop-color="#481668"/><stop offset=".3191" stop-color="#472a7a"/><stop offset=".3417" stop-color="#46307e"/><stop offset=".3546" stop-color="#423f85"/><stop offset=".3739" stop-color="#355e8d"/><stop offset=".3868" stop-color="#2e6d8e"/><stop offset=".3997" stop-color="#2c738e"/><stop offset=".4094" stop-color="#2a778e"/><stop offset=".4223" stop-color="#23898e"/><stop offset=".432" stop-color="#1e9c89"/><stop offset=".4384" stop-color="#23a984"/><stop offset=".4481" stop-color="#39b976"/><stop offset=".4577" stop-color="#50c46a"/><stop offset=".4642" stop-color="#57c766"/><stop offset=".4739" stop-color="#56c666"/><stop offset=".4868" stop-color="#4ac16d"/><stop offset=".5093" stop-color="#2db27d"/><stop offset=".5254" stop-color="#24aa83"/><stop offset=".5416" stop-color="#21a685"/><stop offset=".5545" stop-color="#1f978b"/><stop offset=".5738" stop-color="#2c728e"/><stop offset=".5867" stop-color="#355e8d"/><stop offset=".5964" stop-color="#39558c"/><stop offset=".6125" stop-color="#3b518b"/><stop offset=".6318" stop-color="#433e85"/><stop offset=".6544" stop-color="#482677"/><stop offset=".6673" stop-color="#482273"/><stop offset=".6931" stop-color="#481b6d"/><stop offset=".7253" stop-color="#470f61"/><stop offset=".8059" stop-color="#450659"/><stop offset=".9993" stop-color="#440255"/></linearGradient><linearGradient id="g174" gradientUnits="userSpaceOnUse" x1="0" y1="276.75" x2="0" y2="431.86"><stop offset="0" stop-color="#440255"/><stop offset=".1773" stop-color="#450559"/><stop offset=".2257" stop-color="#46095d"/><stop offset=".2676" stop-color="#471062"/><stop offset=".2869" stop-color="#481668"/><stop offset=".3191" stop-color="#482777"/><stop offset=".3417" stop-color="#472d7b"/><stop offset=".3546" stop-color="#443b83"/><stop offset=".3739" stop-color="#38588c"/><stop offset=".3868" stop-color="#31678e"/><stop offset=".3997" stop-color="#2f6c8e"/><stop offset=".4094" stop-color="#2d718e"/><stop offset=".4223" stop-color="#25838e"/><stop offset=".4352" stop-color="#1e9d89"/><stop offset=".4416" stop-color="#24aa83"/><stop offset=".4545" stop-color="#41be72"/><stop offset=".461" stop-color="#4dc36c"/><stop offset=".4674" stop-color="#50c46a"/><stop offset=".4835" stop-color="#49c16d"/><stop offset=".5158" stop-color="#30b47c"/><stop offset=".5416" stop-color="#27ae80"/><stop offset=".5512" stop-color="#20a387"/><stop offset=".5609" stop-color="#20928c"/><stop offset=".5835" stop-color="#30688e"/><stop offset=".5931" stop-color="#355d8d"/><stop offset=".6125" stop-color="#38578c"/><stop offset=".6286" stop-color="#3f4788"/><stop offset=".6512" stop-color="#472c7b"/><stop offset=".6641" stop-color="#482575"/><stop offset=".6866" stop-color="#482072"/><stop offset=".7253" stop-color="#471062"/><stop offset=".8059" stop-color="#45065a"/><stop offset=".9832" stop-color="#440255"/><stop offset=".9993" stop-color="#440255"/></linearGradient><linearGradient id="g175" gradientUnits="userSpaceOnUse" x1="0" y1="276.75" x2="0" y2="431.86"><stop offset="0" stop-color="#440255"/><stop offset=".1837" stop-color="#450559"/><stop offset=".2289" stop-color="#46095d"/><stop offset=".2805" stop-color="#471164"/><stop offset=".3224" stop-color="#482576"/><stop offset=".3417" stop-color="#482979"/><stop offset=".3546" stop-color="#453781"/><stop offset=".3739" stop-color="#3b528b"/><stop offset=".3901" stop-color="#33628d"/><stop offset=".4062" stop-color="#31678e"/><stop offset=".4158" stop-color="#2c728e"/><stop offset=".432" stop-color="#20918c"/><stop offset=".4384" stop-color="#1f9f88"/><stop offset=".4449" stop-color="#25ab82"/><stop offset=".4545" stop-color="#39b977"/><stop offset=".461" stop-color="#43be71"/><stop offset=".4674" stop-color="#46c06f"/><stop offset=".4964" stop-color="#3fbc73"/><stop offset=".5287" stop-color="#36b878"/><stop offset=".5383" stop-color="#33b679"/><stop offset=".548" stop-color="#28ae80"/><stop offset=".5577" stop-color="#1f9f88"/><stop offset=".5673" stop-color="#228c8d"/><stop offset=".5835" stop-color="#2e6e8e"/><stop offset=".5931" stop-color="#32648e"/><stop offset=".6125" stop-color="#355d8d"/><stop offset=".6286" stop-color="#3d4d8a"/><stop offset=".6512" stop-color="#47307d"/><stop offset=".6641" stop-color="#482878"/><stop offset=".6866" stop-color="#482374"/><stop offset=".7253" stop-color="#471164"/><stop offset=".7737" stop-color="#460a5d"/><stop offset=".851" stop-color="#450457"/><stop offset=".9993" stop-color="#440255"/></linearGradient><linearGradient id="g176" gradientUnits="userSpaceOnUse" x1="0" y1="276.75" x2="0" y2="431.86"><stop offset="0" stop-color="#440255"/><stop offset=".2095" stop-color="#450659"/><stop offset=".2837" stop-color="#471164"/><stop offset=".3224" stop-color="#482273"/><stop offset=".3417" stop-color="#482676"/><stop offset=".3546" stop-color="#46327f"/><stop offset=".3739" stop-color="#3d4d8a"/><stop offset=".3901" stop-color="#365c8d"/><stop offset=".4062" stop-color="#34618d"/><stop offset=".4158" stop-color="#2f6c8e"/><stop offset=".432" stop-color="#228b8d"/><stop offset=".4416" stop-color="#1f9f88"/><stop offset=".4481" stop-color="#25ab82"/><stop offset=".4577" stop-color="#35b779"/><stop offset=".4642" stop-color="#3bbb75"/><stop offset=".5351" stop-color="#41bd72"/><stop offset=".5416" stop-color="#3bbb75"/><stop offset=".5512" stop-color="#2ab07f"/><stop offset=".5577" stop-color="#21a585"/><stop offset=".5641" stop-color="#1f998a"/><stop offset=".5835" stop-color="#2b758e"/><stop offset=".5931" stop-color="#2f6b8e"/><stop offset=".6125" stop-color="#32648e"/><stop offset=".6286" stop-color="#3b528b"/><stop offset=".6512" stop-color="#463480"/><stop offset=".6641" stop-color="#472b7a"/><stop offset=".6866" stop-color="#482676"/><stop offset=".7253" stop-color="#471265"/><stop offset=".7704" stop-color="#460b5f"/><stop offset=".8059" stop-color="#46075b"/><stop offset=".9445" stop-color="#440255"/><stop offset=".9993" stop-color="#440255"/></linearGradient><linearGradient id="g177" gradientUnits="userSpaceOnUse" x1="0" y1="276.75" x2="0" y2="442.20"><stop offset="0" stop-color="#440255"/><stop offset=".1964" stop-color="#450559"/><stop offset=".2659" stop-color="#471063"/><stop offset=".3052" stop-color="#482072"/><stop offset=".3203" stop-color="#482374"/><stop offset=".3355" stop-color="#46337f"/><stop offset=".3536" stop-color="#3e4b89"/><stop offset=".3687" stop-color="#38578c"/><stop offset=".3808" stop-color="#375b8d"/><stop offset=".3899" stop-color="#32668e"/><stop offset=".408" stop-color="#228c8d"/><stop offset=".4171" stop-color="#1f9f88"/><stop offset=".4261" stop-color="#28ae80"/><stop offset=".4352" stop-color="#31b57b"/><stop offset=".4563" stop-color="#36b878"/><stop offset=".4926" stop-color="#4cc26c"/><stop offset=".5017" stop-color="#4dc36c"/><stop offset=".5077" stop-color="#47c06f"/><stop offset=".5168" stop-color="#33b67a"/><stop offset=".5228" stop-color="#25ac82"/><stop offset=".5289" stop-color="#1f9f88"/><stop offset=".541" stop-color="#24868e"/><stop offset=".553" stop-color="#2b748e"/><stop offset=".5621" stop-color="#2d6f8e"/><stop offset=".5742" stop-color="#2f6a8e"/><stop offset=".5893" stop-color="#38588c"/><stop offset=".6105" stop-color="#453882"/><stop offset=".6226" stop-color="#472f7d"/><stop offset=".6437" stop-color="#482979"/><stop offset=".677" stop-color="#481567"/><stop offset=".7253" stop-color="#460c5f"/><stop offset=".7585" stop-color="#46075b"/><stop offset=".8734" stop-color="#440256"/><stop offset=".9973" stop-color="#440254"/></linearGradient><linearGradient id="g178" gradientUnits="userSpaceOnUse" x1="0" y1="276.75" x2="0" y2="442.20"><stop offset="0" stop-color="#440254"/><stop offset=".1995" stop-color="#450559"/><stop offset=".2659" stop-color="#470f62"/><stop offset=".3052" stop-color="#481e70"/><stop offset=".3203" stop-color="#482172"/><stop offset=".3355" stop-color="#472f7d"/><stop offset=".3566" stop-color="#3f4989"/><stop offset=".3717" stop-color="#3b528b"/><stop offset=".3808" stop-color="#3a548c"/><stop offset=".3899" stop-color="#34608d"/><stop offset=".408" stop-color="#25858e"/><stop offset=".4171" stop-color="#1f998a"/><stop offset=".4261" stop-color="#22a784"/><stop offset=".4352" stop-color="#28ae80"/><stop offset=".4533" stop-color="#2db27d"/><stop offset=".4714" stop-color="#40bd73"/><stop offset=".4896" stop-color="#54c667"/><stop offset=".5017" stop-color="#58c765"/><stop offset=".5077" stop-color="#52c569"/><stop offset=".5168" stop-color="#3cbb75"/><stop offset=".5258" stop-color="#25ab82"/><stop offset=".5319" stop-color="#1f9f88"/><stop offset=".547" stop-color="#26838e"/><stop offset=".5561" stop-color="#2a798e"/><stop offset=".5742" stop-color="#2c718e"/><stop offset=".5893" stop-color="#355e8d"/><stop offset=".6105" stop-color="#433c84"/><stop offset=".6195" stop-color="#463480"/><stop offset=".6407" stop-color="#472e7c"/><stop offset=".677" stop-color="#481669"/><stop offset=".7223" stop-color="#470d60"/><stop offset=".7525" stop-color="#46085c"/><stop offset=".8673" stop-color="#450356"/><stop offset=".9973" stop-color="#440254"/></linearGradient><linearGradient id="g179" gradientUnits="userSpaceOnUse" x1="0" y1="276.75" x2="0" y2="442.20"><stop offset="0" stop-color="#440254"/><stop offset=".2025" stop-color="#450559"/><stop offset=".2659" stop-color="#470e61"/><stop offset=".3052" stop-color="#481c6e"/><stop offset=".3203" stop-color="#481e70"/><stop offset=".3355" stop-color="#472b7a"/><stop offset=".3566" stop-color="#414387"/><stop offset=".3717" stop-color="#3d4c8a"/><stop offset=".3808" stop-color="#3c4f8a"/><stop offset=".3899" stop-color="#375a8c"/><stop offset=".414" stop-color="#228c8d"/><stop offset=".4231" stop-color="#1e9c89"/><stop offset=".4322" stop-color="#21a585"/><stop offset=".4503" stop-color="#25ab82"/><stop offset=".4624" stop-color="#30b47b"/><stop offset=".4866" stop-color="#59c765"/><stop offset=".4956" stop-color="#62ca60"/><stop offset=".5017" stop-color="#62cb5f"/><stop offset=".5077" stop-color="#5cc863"/><stop offset=".5168" stop-color="#45bf70"/><stop offset=".5258" stop-color="#2bb17e"/><stop offset=".5319" stop-color="#21a586"/><stop offset=".5379" stop-color="#1f998a"/><stop offset=".55" stop-color="#24868e"/><stop offset=".5591" stop-color="#277f8e"/><stop offset=".5712" stop-color="#297b8e"/><stop offset=".5833" stop-color="#2e6e8e"/><stop offset=".6044" stop-color="#3e4a89"/><stop offset=".6165" stop-color="#443a83"/><stop offset=".6286" stop-color="#453781"/><stop offset=".6467" stop-color="#472e7c"/><stop offset=".677" stop-color="#48186a"/><stop offset=".7223" stop-color="#470f61"/><stop offset=".7525" stop-color="#46095c"/><stop offset=".8553" stop-color="#450356"/><stop offset=".9973" stop-color="#440254"/></linearGradient><linearGradient id="g180" gradientUnits="userSpaceOnUse" x1="0" y1="276.75" x2="0" y2="442.20"><stop offset="0" stop-color="#440254"/><stop offset=".2055" stop-color="#450559"/><stop offset=".2659" stop-color="#470d60"/><stop offset=".3052" stop-color="#481a6c"/><stop offset=".3234" stop-color="#481e6f"/><stop offset=".3445" stop-color="#46327f"/><stop offset=".3627" stop-color="#414387"/><stop offset=".3808" stop-color="#3f4989"/><stop offset=".3899" stop-color="#3a548c"/><stop offset=".414" stop-color="#25858e"/><stop offset=".4261" stop-color="#1f998a"/><stop offset=".4352" stop-color="#1f9f88"/><stop offset=".4503" stop-color="#20a486"/><stop offset=".4594" stop-color="#27ad81"/><stop offset=".4684" stop-color="#35b778"/><stop offset=".4866" stop-color="#5ec962"/><stop offset=".4956" stop-color="#69cd5b"/><stop offset=".5017" stop-color="#6bcd5a"/><stop offset=".5077" stop-color="#64cb5e"/><stop offset=".5168" stop-color="#4ec36b"/><stop offset=".5289" stop-color="#2ab07f"/><stop offset=".5349" stop-color="#20a586"/><stop offset=".544" stop-color="#1f958b"/><stop offset=".5561" stop-color="#24888e"/><stop offset=".5712" stop-color="#26828e"/><stop offset=".5833" stop-color="#2b758e"/><stop offset=".6074" stop-color="#3e4b89"/><stop offset=".6165" stop-color="#423f85"/><stop offset=".6286" stop-color="#443b84"/><stop offset=".6467" stop-color="#46327f"/><stop offset=".677" stop-color="#481a6c"/><stop offset=".7193" stop-color="#471163"/><stop offset=".7495" stop-color="#460a5d"/><stop offset=".8492" stop-color="#450357"/><stop offset=".9973" stop-color="#440255"/></linearGradient><linearGradient id="g181" gradientUnits="userSpaceOnUse" x1="0" y1="276.75" x2="0" y2="442.20"><stop offset="0" stop-color="#440254"/><stop offset=".2055" stop-color="#450558"/><stop offset=".2659" stop-color="#460c5f"/><stop offset=".3052" stop-color="#48186a"/><stop offset=".3234" stop-color="#481b6d"/><stop offset=".3475" stop-color="#46317e"/><stop offset=".3657" stop-color="#423f86"/><stop offset=".3808" stop-color="#414487"/><stop offset=".3899" stop-color="#3c4f8a"/><stop offset=".414" stop-color="#277e8e"/><stop offset=".4261" stop-color="#20918c"/><stop offset=".4352" stop-color="#1f978b"/><stop offset=".4473" stop-color="#1e9b8a"/><stop offset=".4594" stop-color="#22a884"/><stop offset=".4684" stop-color="#31b57b"/><stop offset=".4835" stop-color="#59c764"/><stop offset=".4926" stop-color="#6ccd5a"/><stop offset=".4986" stop-color="#71cf57"/><stop offset=".5047" stop-color="#6ece58"/><stop offset=".5107" stop-color="#65cb5e"/><stop offset=".5228" stop-color="#42be71"/><stop offset=".5319" stop-color="#2ab07f"/><stop offset=".5379" stop-color="#21a585"/><stop offset=".547" stop-color="#1f988b"/><stop offset=".5591" stop-color="#218e8d"/><stop offset=".5712" stop-color="#238a8d"/><stop offset=".5833" stop-color="#287c8e"/><stop offset=".6074" stop-color="#3c508b"/><stop offset=".6165" stop-color="#414487"/><stop offset=".6256" stop-color="#424086"/><stop offset=".6407" stop-color="#443b83"/><stop offset=".6649" stop-color="#482576"/><stop offset=".68" stop-color="#481b6d"/><stop offset=".7162" stop-color="#481366"/><stop offset=".7465" stop-color="#460a5e"/><stop offset=".8371" stop-color="#450457"/><stop offset=".9973" stop-color="#440255"/></linearGradient><linearGradient id="g182" gradientUnits="userSpaceOnUse" x1="0" y1="287.09" x2="0" y2="442.20"><stop offset="0" stop-color="#440255"/><stop offset=".1644" stop-color="#450659"/><stop offset=".2192" stop-color="#460b5e"/><stop offset=".2611" stop-color="#481669"/><stop offset=".2772" stop-color="#48196b"/><stop offset=".303" stop-color="#472d7b"/><stop offset=".3224" stop-color="#443a83"/><stop offset=".3417" stop-color="#424086"/><stop offset=".3546" stop-color="#3b528b"/><stop offset=".3804" stop-color="#27808e"/><stop offset=".3933" stop-color="#228d8d"/><stop offset=".4094" stop-color="#20938c"/><stop offset=".4223" stop-color="#1fa187"/><stop offset=".4287" stop-color="#25ab82"/><stop offset=".4352" stop-color="#31b57b"/><stop offset=".4513" stop-color="#5fc961"/><stop offset=".4577" stop-color="#6cce59"/><stop offset=".4642" stop-color="#73d055"/><stop offset=".4706" stop-color="#73d055"/><stop offset=".4771" stop-color="#6bcd5a"/><stop offset=".4868" stop-color="#55c667"/><stop offset=".4997" stop-color="#32b67a"/><stop offset=".5093" stop-color="#22a884"/><stop offset=".519" stop-color="#1e9d89"/><stop offset=".5319" stop-color="#1f968b"/><stop offset=".5416" stop-color="#20938c"/><stop offset=".5545" stop-color="#25848e"/><stop offset=".5835" stop-color="#3a528b"/><stop offset=".5931" stop-color="#3f4889"/><stop offset=".6157" stop-color="#424086"/><stop offset=".6383" stop-color="#472c7b"/><stop offset=".6576" stop-color="#481e6f"/><stop offset=".6963" stop-color="#481568"/><stop offset=".7285" stop-color="#460b5f"/><stop offset=".8156" stop-color="#450558"/><stop offset=".9993" stop-color="#440255"/></linearGradient><linearGradient id="g183" gradientUnits="userSpaceOnUse" x1="0" y1="287.09" x2="0" y2="442.20"><stop offset="0" stop-color="#440255"/><stop offset=".1676" stop-color="#450659"/><stop offset=".2192" stop-color="#460a5e"/><stop offset=".2611" stop-color="#481567"/><stop offset=".2805" stop-color="#48196b"/><stop offset=".3159" stop-color="#46337f"/><stop offset=".3417" stop-color="#443c84"/><stop offset=".3546" stop-color="#3d4d8a"/><stop offset=".3804" stop-color="#29798e"/><stop offset=".3933" stop-color="#24868e"/><stop offset=".4094" stop-color="#228b8d"/><stop offset=".4223" stop-color="#1e9b8a"/><stop offset=".4287" stop-color="#21a685"/><stop offset=".4352" stop-color="#2cb27d"/><stop offset=".4481" stop-color="#53c568"/><stop offset=".4577" stop-color="#6cce5a"/><stop offset=".4642" stop-color="#74d055"/><stop offset=".4706" stop-color="#73d055"/><stop offset=".4803" stop-color="#66cc5d"/><stop offset=".4964" stop-color="#40bd72"/><stop offset=".5061" stop-color="#2cb27d"/><stop offset=".5158" stop-color="#22a785"/><stop offset=".5287" stop-color="#1f9f88"/><stop offset=".5416" stop-color="#1e9b8a"/><stop offset=".5545" stop-color="#228c8d"/><stop offset=".5802" stop-color="#355d8d"/><stop offset=".5899" stop-color="#3c508b"/><stop offset=".5996" stop-color="#3e4b89"/><stop offset=".6157" stop-color="#404588"/><stop offset=".6383" stop-color="#47307d"/><stop offset=".6576" stop-color="#482071"/><stop offset=".6931" stop-color="#48186a"/><stop offset=".7285" stop-color="#470c5f"/><stop offset=".8123" stop-color="#450559"/><stop offset=".9993" stop-color="#440255"/></linearGradient><linearGradient id="g184" gradientUnits="userSpaceOnUse" x1="0" y1="287.09" x2="0" y2="442.20"><stop offset="0" stop-color="#440255"/><stop offset=".1708" stop-color="#450659"/><stop offset=".2224" stop-color="#460a5e"/><stop offset=".2643" stop-color="#481366"/><stop offset=".2805" stop-color="#481769"/><stop offset=".3191" stop-color="#46307e"/><stop offset=".3417" stop-color="#453782"/><stop offset=".3546" stop-color="#3f4788"/><stop offset=".3772" stop-color="#2e6e8e"/><stop offset=".3901" stop-color="#287c8e"/><stop offset=".4094" stop-color="#25848e"/><stop offset=".4223" stop-color="#1f958b"/><stop offset=".4287" stop-color="#1fa187"/><stop offset=".4352" stop-color="#27ae80"/><stop offset=".4449" stop-color="#43bf71"/><stop offset=".4545" stop-color="#61ca60"/><stop offset=".461" stop-color="#6dce59"/><stop offset=".4674" stop-color="#71cf56"/><stop offset=".4771" stop-color="#6acd5b"/><stop offset=".49" stop-color="#53c568"/><stop offset=".5061" stop-color="#33b67a"/><stop offset=".5158" stop-color="#27ae81"/><stop offset=".5287" stop-color="#22a785"/><stop offset=".5416" stop-color="#20a386"/><stop offset=".5545" stop-color="#20938c"/><stop offset=".577" stop-color="#30698e"/><stop offset=".5899" stop-color="#39568c"/><stop offset=".5996" stop-color="#3b518b"/><stop offset=".6157" stop-color="#3e4b89"/><stop offset=".6383" stop-color="#463480"/><stop offset=".6544" stop-color="#482475"/><stop offset=".6705" stop-color="#482071"/><stop offset=".6995" stop-color="#48176a"/><stop offset=".7285" stop-color="#470d60"/><stop offset=".8091" stop-color="#450559"/><stop offset=".9993" stop-color="#440255"/></linearGradient><linearGradient id="g185" gradientUnits="userSpaceOnUse" x1="0" y1="287.09" x2="0" y2="442.20"><stop offset="0" stop-color="#440255"/><stop offset=".1741" stop-color="#450659"/><stop offset=".2224" stop-color="#460a5d"/><stop offset=".2643" stop-color="#471264"/><stop offset=".2837" stop-color="#481769"/><stop offset=".3191" stop-color="#472d7b"/><stop offset=".3417" stop-color="#46337f"/><stop offset=".3546" stop-color="#414287"/><stop offset=".3739" stop-color="#33628d"/><stop offset=".3868" stop-color="#2c728e"/><stop offset=".3997" stop-color="#2a788e"/><stop offset=".4094" stop-color="#287d8e"/><stop offset=".4191" stop-color="#23898d"/><stop offset=".4287" stop-color="#1e9b8a"/><stop offset=".4352" stop-color="#23a983"/><stop offset=".4416" stop-color="#32b67a"/><stop offset=".4545" stop-color="#5ac864"/><stop offset=".461" stop-color="#67cc5d"/><stop offset=".4674" stop-color="#6bcd5a"/><stop offset=".4771" stop-color="#66cc5d"/><stop offset=".49" stop-color="#54c667"/><stop offset=".5093" stop-color="#36b878"/><stop offset=".5222" stop-color="#2bb07e"/><stop offset=".5416" stop-color="#25ab82"/><stop offset=".5512" stop-color="#1fa088"/><stop offset=".5609" stop-color="#218f8d"/><stop offset=".5835" stop-color="#32648e"/><stop offset=".5931" stop-color="#37598c"/><stop offset=".6125" stop-color="#3a538b"/><stop offset=".6318" stop-color="#424086"/><stop offset=".6512" stop-color="#482a79"/><stop offset=".6641" stop-color="#482374"/><stop offset=".6898" stop-color="#481d6f"/><stop offset=".7253" stop-color="#470f62"/><stop offset=".8059" stop-color="#450659"/><stop offset=".9961" stop-color="#440255"/><stop offset=".9993" stop-color="#440255"/></linearGradient><linearGradient id="g186" gradientUnits="userSpaceOnUse" x1="0" y1="287.09" x2="0" y2="442.20"><stop offset="0" stop-color="#440255"/><stop offset=".1773" stop-color="#450659"/><stop offset=".2257" stop-color="#460a5d"/><stop offset=".2676" stop-color="#471163"/><stop offset=".2869" stop-color="#481769"/><stop offset=".3191" stop-color="#482979"/><stop offset=".3417" stop-color="#472f7d"/><stop offset=".3546" stop-color="#433e85"/><stop offset=".3739" stop-color="#365c8d"/><stop offset=".3868" stop-color="#2f6b8e"/><stop offset=".3997" stop-color="#2d718e"/><stop offset=".4094" stop-color="#2b768e"/><stop offset=".4191" stop-color="#26838e"/><stop offset=".432" stop-color="#1e9d89"/><stop offset=".4384" stop-color="#24ab82"/><stop offset=".4449" stop-color="#35b779"/><stop offset=".4545" stop-color="#51c569"/><stop offset=".461" stop-color="#5ec962"/><stop offset=".4674" stop-color="#62cb5f"/><stop offset=".4803" stop-color="#5dc963"/><stop offset=".5158" stop-color="#39b976"/><stop offset=".5319" stop-color="#33b67a"/><stop offset=".5416" stop-color="#2eb37d"/><stop offset=".5512" stop-color="#22a884"/><stop offset=".5577" stop-color="#1e9c89"/><stop offset=".5706" stop-color="#26828e"/><stop offset=".5835" stop-color="#2f6b8e"/><stop offset=".5931" stop-color="#34608d"/><stop offset=".6125" stop-color="#37598c"/><stop offset=".6286" stop-color="#3f4989"/><stop offset=".6512" stop-color="#472d7c"/><stop offset=".6641" stop-color="#482676"/><stop offset=".6866" stop-color="#482172"/><stop offset=".7253" stop-color="#471063"/><stop offset=".7801" stop-color="#46085c"/><stop offset=".9219" stop-color="#440255"/><stop offset=".9993" stop-color="#440255"/></linearGradient><linearGradient id="g187" gradientUnits="userSpaceOnUse" x1="0" y1="287.09" x2="0" y2="442.20"><stop offset="0" stop-color="#440255"/><stop offset=".1805" stop-color="#450559"/><stop offset=".2257" stop-color="#46095c"/><stop offset=".2805" stop-color="#471265"/><stop offset=".3224" stop-color="#482777"/><stop offset=".3417" stop-color="#472c7a"/><stop offset=".3546" stop-color="#443983"/><stop offset=".3739" stop-color="#39568c"/><stop offset=".3868" stop-color="#32658e"/><stop offset=".3997" stop-color="#306a8e"/><stop offset=".4094" stop-color="#2e6f8e"/><stop offset=".4191" stop-color="#287c8e"/><stop offset=".432" stop-color="#1f978b"/><stop offset=".4384" stop-color="#21a585"/><stop offset=".4449" stop-color="#2db27d"/><stop offset=".4545" stop-color="#48c16e"/><stop offset=".461" stop-color="#54c667"/><stop offset=".4674" stop-color="#58c765"/><stop offset=".49" stop-color="#51c469"/><stop offset=".5222" stop-color="#41be72"/><stop offset=".5383" stop-color="#3ebc74"/><stop offset=".548" stop-color="#2fb37c"/><stop offset=".5577" stop-color="#20a486"/><stop offset=".5641" stop-color="#1f978b"/><stop offset=".5835" stop-color="#2c718e"/><stop offset=".5931" stop-color="#31668e"/><stop offset=".6125" stop-color="#34608d"/><stop offset=".6286" stop-color="#3c4f8a"/><stop offset=".6512" stop-color="#46317e"/><stop offset=".6641" stop-color="#482979"/><stop offset=".6866" stop-color="#482475"/><stop offset=".7253" stop-color="#471164"/><stop offset=".7737" stop-color="#460a5d"/><stop offset=".8446" stop-color="#450458"/><stop offset=".9993" stop-color="#440255"/></linearGradient><linearGradient id="g188" gradientUnits="userSpaceOnUse" x1="0" y1="287.09" x2="0" y2="452.54"><stop offset="0" stop-color="#440255"/><stop offset=".1753" stop-color="#450559"/><stop offset=".2176" stop-color="#460a5d"/><stop offset=".2629" stop-color="#471164"/><stop offset=".3022" stop-color="#482475"/><stop offset=".3203" stop-color="#482878"/><stop offset=".3324" stop-color="#453581"/><stop offset=".3506" stop-color="#3b518b"/><stop offset=".3657" stop-color="#34608d"/><stop offset=".3808" stop-color="#32668e"/><stop offset=".3899" stop-color="#2d718e"/><stop offset=".405" stop-color="#20918c"/><stop offset=".411" stop-color="#1fa088"/><stop offset=".4171" stop-color="#27ad81"/><stop offset=".4261" stop-color="#3dbc74"/><stop offset=".4322" stop-color="#48c16e"/><stop offset=".4382" stop-color="#4cc26c"/><stop offset=".5017" stop-color="#4ec36b"/><stop offset=".5077" stop-color="#47c06e"/><stop offset=".5168" stop-color="#33b67a"/><stop offset=".5228" stop-color="#25ab82"/><stop offset=".5289" stop-color="#1f9e89"/><stop offset=".541" stop-color="#25838e"/><stop offset=".553" stop-color="#2d708e"/><stop offset=".5621" stop-color="#2f6b8e"/><stop offset=".5742" stop-color="#31668e"/><stop offset=".5893" stop-color="#39558c"/><stop offset=".6105" stop-color="#453581"/><stop offset=".6226" stop-color="#472d7b"/><stop offset=".6437" stop-color="#482777"/><stop offset=".68" stop-color="#471365"/><stop offset=".7223" stop-color="#460c5f"/><stop offset=".7555" stop-color="#46075b"/><stop offset=".8794" stop-color="#440255"/><stop offset=".9973" stop-color="#440254"/></linearGradient><linearGradient id="g189" gradientUnits="userSpaceOnUse" x1="0" y1="287.09" x2="0" y2="452.54"><stop offset="0" stop-color="#440255"/><stop offset=".1964" stop-color="#450659"/><stop offset=".2659" stop-color="#471163"/><stop offset=".3022" stop-color="#482173"/><stop offset=".3203" stop-color="#482576"/><stop offset=".3355" stop-color="#453581"/><stop offset=".3536" stop-color="#3c4f8a"/><stop offset=".3657" stop-color="#375a8c"/><stop offset=".3808" stop-color="#355f8d"/><stop offset=".3899" stop-color="#2f6a8e"/><stop offset=".405" stop-color="#228b8d"/><stop offset=".414" stop-color="#1fa088"/><stop offset=".4201" stop-color="#26ad81"/><stop offset=".4291" stop-color="#38b977"/><stop offset=".4352" stop-color="#3fbc73"/><stop offset=".4563" stop-color="#45bf70"/><stop offset=".4896" stop-color="#5bc863"/><stop offset=".5017" stop-color="#5dc962"/><stop offset=".5077" stop-color="#56c667"/><stop offset=".5168" stop-color="#3ebc74"/><stop offset=".5258" stop-color="#25ab82"/><stop offset=".5319" stop-color="#1f9e89"/><stop offset=".547" stop-color="#277f8e"/><stop offset=".5561" stop-color="#2b758e"/><stop offset=".5742" stop-color="#2e6d8e"/><stop offset=".5893" stop-color="#375b8d"/><stop offset=".6105" stop-color="#443a83"/><stop offset=".6195" stop-color="#46327e"/><stop offset=".6437" stop-color="#472a7a"/><stop offset=".677" stop-color="#481568"/><stop offset=".7253" stop-color="#460c5f"/><stop offset=".7585" stop-color="#46085b"/><stop offset=".8704" stop-color="#440356"/><stop offset=".9973" stop-color="#440254"/></linearGradient><linearGradient id="g190" gradientUnits="userSpaceOnUse" x1="0" y1="287.09" x2="0" y2="452.54"><stop offset="0" stop-color="#440255"/><stop offset=".1995" stop-color="#450659"/><stop offset=".2659" stop-color="#471062"/><stop offset=".3052" stop-color="#482071"/><stop offset=".3203" stop-color="#482273"/><stop offset=".3355" stop-color="#46317e"/><stop offset=".3536" stop-color="#3e4989"/><stop offset=".3687" stop-color="#39558c"/><stop offset=".3808" stop-color="#38598c"/><stop offset=".3899" stop-color="#32648e"/><stop offset=".408" stop-color="#228c8d"/><stop offset=".4171" stop-color="#1fa088"/><stop offset=".4261" stop-color="#29af7f"/><stop offset=".4352" stop-color="#33b67a"/><stop offset=".4503" stop-color="#38b977"/><stop offset=".4654" stop-color="#48c16e"/><stop offset=".4866" stop-color="#64cb5e"/><stop offset=".4986" stop-color="#6bcd5a"/><stop offset=".5047" stop-color="#68cc5c"/><stop offset=".5107" stop-color="#5cc963"/><stop offset=".5228" stop-color="#35b778"/><stop offset=".5289" stop-color="#25ab82"/><stop offset=".5349" stop-color="#1f9e89"/><stop offset=".547" stop-color="#24878e"/><stop offset=".5561" stop-color="#287c8e"/><stop offset=".5742" stop-color="#2b758e"/><stop offset=".5893" stop-color="#34618d"/><stop offset=".6105" stop-color="#433e85"/><stop offset=".6195" stop-color="#453681"/><stop offset=".6407" stop-color="#47307d"/><stop offset=".677" stop-color="#481769"/><stop offset=".7223" stop-color="#470e61"/><stop offset=".7525" stop-color="#46085c"/><stop offset=".8643" stop-color="#450356"/><stop offset=".9973" stop-color="#440254"/></linearGradient></defs><g filter="url(#bl)"><rect x="126" y="193" width="4" height="23" fill="url(#g0)"/><rect x="130" y="182" width="5" height="44" fill="url(#g1)"/><rect x="135" y="182" width="4" height="44" fill="url(#g2)"/><rect x="139" y="182" width="5" height="54" fill="url(#g3)"/><rect x="144" y="182" width="4" height="54" fill="url(#g4)"/><rect x="148" y="182" width="5" height="54" fill="url(#g5)"/><rect x="153" y="182" width="5" height="54" fill="url(#g6)"/><rect x="158" y="182" width="4" height="65" fill="url(#g7)"/><rect x="162" y="182" width="5" height="65" fill="url(#g8)"/><rect x="167" y="182" width="4" height="65" fill="url(#g9)"/><rect x="171" y="182" width="5" height="65" fill="url(#g10)"/><rect x="176" y="182" width="5" height="65" fill="url(#g11)"/><rect x="181" y="182" width="4" height="65" fill="url(#g12)"/><rect x="185" y="182" width="5" height="75" fill="url(#g13)"/><rect x="190" y="182" width="4" height="75" fill="url(#g14)"/><rect x="194" y="182" width="5" height="75" fill="url(#g15)"/><rect x="199" y="182" width="4" height="75" fill="url(#g16)"/><rect x="203" y="182" width="5" height="75" fill="url(#g17)"/><rect x="208" y="182" width="5" height="75" fill="url(#g18)"/><rect x="213" y="182" width="4" height="75" fill="url(#g19)"/><rect x="217" y="182" width="5" height="85" fill="url(#g20)"/><rect x="222" y="182" width="4" height="85" fill="url(#g21)"/><rect x="226" y="182" width="5" height="85" fill="url(#g22)"/><rect x="231" y="182" width="5" height="85" fill="url(#g23)"/><rect x="236" y="182" width="4" height="85" fill="url(#g24)"/><rect x="240" y="182" width="5" height="85" fill="url(#g25)"/><rect x="245" y="182" width="4" height="85" fill="url(#g26)"/><rect x="249" y="182" width="5" height="96" fill="url(#g27)"/><rect x="254" y="182" width="4" height="96" fill="url(#g28)"/><rect x="258" y="182" width="5" height="96" fill="url(#g29)"/><rect x="263" y="182" width="5" height="96" fill="url(#g30)"/><rect x="268" y="182" width="4" height="96" fill="url(#g31)"/><rect x="272" y="182" width="5" height="96" fill="url(#g32)"/><rect x="277" y="182" width="4" height="96" fill="url(#g33)"/><rect x="281" y="182" width="5" height="106" fill="url(#g34)"/><rect x="286" y="182" width="5" height="106" fill="url(#g35)"/><rect x="291" y="193" width="4" height="96" fill="url(#g36)"/><rect x="295" y="193" width="5" height="96" fill="url(#g37)"/><rect x="300" y="193" width="4" height="96" fill="url(#g38)"/><rect x="304" y="193" width="5" height="96" fill="url(#g39)"/><rect x="309" y="193" width="4" height="96" fill="url(#g40)"/><rect x="313" y="193" width="5" height="96" fill="url(#g41)"/><rect x="318" y="193" width="5" height="96" fill="url(#g42)"/><rect x="323" y="193" width="4" height="106" fill="url(#g43)"/><rect x="327" y="193" width="5" height="106" fill="url(#g44)"/><rect x="332" y="193" width="4" height="106" fill="url(#g45)"/><rect x="336" y="193" width="5" height="106" fill="url(#g46)"/><rect x="341" y="193" width="5" height="106" fill="url(#g47)"/><rect x="346" y="193" width="4" height="106" fill="url(#g48)"/><rect x="350" y="193" width="5" height="106" fill="url(#g49)"/><rect x="355" y="193" width="4" height="106" fill="url(#g50)"/><rect x="359" y="193" width="5" height="116" fill="url(#g51)"/><rect x="364" y="193" width="4" height="116" fill="url(#g52)"/><rect x="368" y="193" width="5" height="116" fill="url(#g53)"/><rect x="373" y="193" width="5" height="116" fill="url(#g54)"/><rect x="378" y="193" width="4" height="116" fill="url(#g55)"/><rect x="382" y="203" width="5" height="106" fill="url(#g56)"/><rect x="387" y="203" width="4" height="106" fill="url(#g57)"/><rect x="391" y="203" width="5" height="106" fill="url(#g58)"/><rect x="396" y="203" width="5" height="106" fill="url(#g59)"/><rect x="401" y="203" width="4" height="116" fill="url(#g60)"/><rect x="405" y="203" width="5" height="116" fill="url(#g61)"/><rect x="410" y="203" width="4" height="116" fill="url(#g62)"/><rect x="414" y="203" width="5" height="116" fill="url(#g63)"/><rect x="419" y="203" width="4" height="116" fill="url(#g64)"/><rect x="423" y="203" width="5" height="116" fill="url(#g65)"/><rect x="428" y="203" width="5" height="116" fill="url(#g66)"/><rect x="433" y="203" width="4" height="116" fill="url(#g67)"/><rect x="437" y="203" width="5" height="116" fill="url(#g68)"/><rect x="442" y="203" width="4" height="127" fill="url(#g69)"/><rect x="446" y="203" width="5" height="127" fill="url(#g70)"/><rect x="451" y="203" width="5" height="127" fill="url(#g71)"/><rect x="456" y="203" width="4" height="127" fill="url(#g72)"/><rect x="460" y="203" width="5" height="127" fill="url(#g73)"/><rect x="465" y="213" width="4" height="116" fill="url(#g74)"/><rect x="469" y="213" width="5" height="116" fill="url(#g75)"/><rect x="474" y="213" width="4" height="116" fill="url(#g76)"/><rect x="478" y="213" width="5" height="116" fill="url(#g77)"/><rect x="483" y="213" width="5" height="127" fill="url(#g78)"/><rect x="488" y="213" width="4" height="127" fill="url(#g79)"/><rect x="492" y="213" width="5" height="127" fill="url(#g80)"/><rect x="497" y="213" width="4" height="127" fill="url(#g81)"/><rect x="501" y="213" width="5" height="127" fill="url(#g82)"/><rect x="506" y="213" width="5" height="127" fill="url(#g83)"/><rect x="511" y="213" width="4" height="127" fill="url(#g84)"/><rect x="515" y="213" width="5" height="127" fill="url(#g85)"/><rect x="520" y="213" width="4" height="127" fill="url(#g86)"/><rect x="524" y="213" width="5" height="127" fill="url(#g87)"/><rect x="529" y="213" width="4" height="137" fill="url(#g88)"/><rect x="533" y="213" width="5" height="137" fill="url(#g89)"/><rect x="538" y="213" width="5" height="137" fill="url(#g90)"/><rect x="543" y="224" width="4" height="127" fill="url(#g91)"/><rect x="547" y="224" width="5" height="127" fill="url(#g92)"/><rect x="552" y="224" width="4" height="127" fill="url(#g93)"/><rect x="556" y="224" width="5" height="127" fill="url(#g94)"/><rect x="561" y="224" width="5" height="127" fill="url(#g95)"/><rect x="566" y="224" width="4" height="127" fill="url(#g96)"/><rect x="570" y="224" width="5" height="137" fill="url(#g97)"/><rect x="575" y="224" width="4" height="137" fill="url(#g98)"/><rect x="579" y="224" width="5" height="137" fill="url(#g99)"/><rect x="584" y="224" width="4" height="137" fill="url(#g100)"/><rect x="588" y="224" width="5" height="137" fill="url(#g101)"/><rect x="593" y="224" width="5" height="137" fill="url(#g102)"/><rect x="598" y="224" width="4" height="137" fill="url(#g103)"/><rect x="602" y="224" width="5" height="137" fill="url(#g104)"/><rect x="607" y="224" width="4" height="137" fill="url(#g105)"/><rect x="611" y="234" width="5" height="127" fill="url(#g106)"/><rect x="616" y="234" width="5" height="137" fill="url(#g107)"/><rect x="621" y="234" width="4" height="137" fill="url(#g108)"/><rect x="625" y="234" width="5" height="137" fill="url(#g109)"/><rect x="630" y="234" width="4" height="137" fill="url(#g110)"/><rect x="634" y="234" width="5" height="137" fill="url(#g111)"/><rect x="639" y="234" width="4" height="137" fill="url(#g112)"/><rect x="643" y="234" width="5" height="137" fill="url(#g113)"/><rect x="648" y="234" width="5" height="137" fill="url(#g114)"/><rect x="653" y="234" width="4" height="137" fill="url(#g115)"/><rect x="657" y="234" width="5" height="137" fill="url(#g116)"/><rect x="662" y="234" width="4" height="147" fill="url(#g117)"/><rect x="666" y="234" width="5" height="147" fill="url(#g118)"/><rect x="671" y="234" width="5" height="147" fill="url(#g119)"/><rect x="676" y="234" width="4" height="147" fill="url(#g120)"/><rect x="680" y="234" width="5" height="147" fill="url(#g121)"/><rect x="685" y="244" width="4" height="137" fill="url(#g122)"/><rect x="689" y="244" width="5" height="137" fill="url(#g123)"/><rect x="694" y="244" width="4" height="137" fill="url(#g124)"/><rect x="698" y="244" width="5" height="137" fill="url(#g125)"/><rect x="703" y="244" width="5" height="137" fill="url(#g126)"/><rect x="708" y="244" width="4" height="147" fill="url(#g127)"/><rect x="712" y="244" width="5" height="147" fill="url(#g128)"/><rect x="717" y="244" width="4" height="147" fill="url(#g129)"/><rect x="721" y="244" width="5" height="147" fill="url(#g130)"/><rect x="726" y="244" width="5" height="147" fill="url(#g131)"/><rect x="731" y="244" width="4" height="147" fill="url(#g132)"/><rect x="735" y="244" width="5" height="147" fill="url(#g133)"/><rect x="740" y="244" width="4" height="147" fill="url(#g134)"/><rect x="744" y="244" width="5" height="147" fill="url(#g135)"/><rect x="749" y="244" width="4" height="147" fill="url(#g136)"/><rect x="753" y="244" width="5" height="158" fill="url(#g137)"/><rect x="758" y="255" width="5" height="147" fill="url(#g138)"/><rect x="763" y="255" width="4" height="147" fill="url(#g139)"/><rect x="767" y="255" width="5" height="147" fill="url(#g140)"/><rect x="772" y="255" width="4" height="147" fill="url(#g141)"/><rect x="776" y="255" width="5" height="147" fill="url(#g142)"/><rect x="781" y="255" width="5" height="147" fill="url(#g143)"/><rect x="786" y="255" width="4" height="147" fill="url(#g144)"/><rect x="790" y="255" width="5" height="147" fill="url(#g145)"/><rect x="795" y="255" width="4" height="158" fill="url(#g146)"/><rect x="799" y="255" width="5" height="158" fill="url(#g147)"/><rect x="804" y="255" width="4" height="158" fill="url(#g148)"/><rect x="808" y="255" width="5" height="158" fill="url(#g149)"/><rect x="813" y="255" width="5" height="158" fill="url(#g150)"/><rect x="818" y="255" width="4" height="158" fill="url(#g151)"/><rect x="822" y="255" width="5" height="158" fill="url(#g152)"/><rect x="827" y="255" width="4" height="158" fill="url(#g153)"/><rect x="831" y="265" width="5" height="147" fill="url(#g154)"/><rect x="836" y="265" width="5" height="147" fill="url(#g155)"/><rect x="841" y="265" width="4" height="158" fill="url(#g156)"/><rect x="845" y="265" width="5" height="158" fill="url(#g157)"/><rect x="850" y="265" width="4" height="158" fill="url(#g158)"/><rect x="854" y="265" width="5" height="158" fill="url(#g159)"/><rect x="859" y="265" width="4" height="158" fill="url(#g160)"/><rect x="863" y="265" width="5" height="158" fill="url(#g161)"/><rect x="868" y="265" width="5" height="158" fill="url(#g162)"/><rect x="873" y="265" width="4" height="158" fill="url(#g163)"/><rect x="877" y="265" width="5" height="158" fill="url(#g164)"/><rect x="882" y="265" width="4" height="158" fill="url(#g165)"/><rect x="886" y="265" width="5" height="168" fill="url(#g166)"/><rect x="891" y="265" width="5" height="168" fill="url(#g167)"/><rect x="896" y="265" width="4" height="168" fill="url(#g168)"/><rect x="900" y="275" width="5" height="158" fill="url(#g169)"/><rect x="905" y="275" width="4" height="158" fill="url(#g170)"/><rect x="909" y="275" width="5" height="158" fill="url(#g171)"/><rect x="914" y="275" width="4" height="158" fill="url(#g172)"/><rect x="918" y="275" width="5" height="158" fill="url(#g173)"/><rect x="923" y="275" width="5" height="158" fill="url(#g174)"/><rect x="928" y="275" width="4" height="158" fill="url(#g175)"/><rect x="932" y="275" width="5" height="158" fill="url(#g176)"/><rect x="937" y="275" width="4" height="168" fill="url(#g177)"/><rect x="941" y="275" width="5" height="168" fill="url(#g178)"/><rect x="946" y="275" width="5" height="168" fill="url(#g179)"/><rect x="951" y="275" width="4" height="168" fill="url(#g180)"/><rect x="955" y="275" width="5" height="168" fill="url(#g181)"/><rect x="960" y="286" width="4" height="158" fill="url(#g182)"/><rect x="964" y="286" width="5" height="158" fill="url(#g183)"/><rect x="969" y="286" width="4" height="158" fill="url(#g184)"/><rect x="973" y="286" width="5" height="158" fill="url(#g185)"/><rect x="978" y="286" width="5" height="158" fill="url(#g186)"/><rect x="983" y="286" width="4" height="158" fill="url(#g187)"/><rect x="987" y="286" width="5" height="168" fill="url(#g188)"/><rect x="992" y="286" width="4" height="168" fill="url(#g189)"/><rect x="996" y="286" width="11" height="168" fill="url(#g190)"/></g></g></g>
<g id="matplotlib.axis_1">
<g id="xtick_1">
<g id="line2d_1">
<defs>
<path id="m92da7aff10" d="M 0 0
L 0 -3.5
" style="stroke: #000000; stroke-width: 0.8"/>
</defs>
<g>
<use href="#m92da7aff10" x="39.670588" y="28.047059" style="stroke: #000000; stroke-width: 0.8"/>
</g>
</g>
<g id="text_1" transform="translate(0 0.2824)">
<text style="font-size: 10px; font-family: 'DejaVu Sans', sans-serif; text-anchor: middle" x="39.670588" y="18.967371" transform="rotate(-0 39.670588 18.967371)">100</text>
</g>
</g>
<g id="xtick_2">
<g id="line2d_2">
<g>
<use href="#m92da7aff10" x="93.594118" y="28.047059" style="stroke: #000000; stroke-width: 0.8"/>
</g>
</g>
<g id="text_2" transform="translate(0 0.2824)">
<text style="font-size: 10px; font-family: 'DejaVu Sans', sans-serif; text-anchor: middle" x="93.594118" y="18.967371" transform="rotate(-0 93.594118 18.967371)">150</text>
</g>
</g>
<g id="xtick_3">
<g id="line2d_3">
<g>
<use href="#m92da7aff10" x="147.517647" y="28.047059" style="stroke: #000000; stroke-width: 0.8"/>
</g>
</g>
<g id="text_3" transform="translate(0 0.2824)">
<text style="font-size: 10px; font-family: 'DejaVu Sans', sans-serif; text-anchor: middle" x="147.517647" y="18.967371" transform="rotate(-0 147.517647 18.967371)">200</text>
</g>
</g>
<g id="xtick_4">
<g id="line2d_4">
<g>
<use href="#m92da7aff10" x="201.441176" y="28.047059" style="stroke: #000000; stroke-width: 0.8"/>
</g>
</g>
<g id="text_4" transform="translate(0 0.2824)">
<text style="font-size: 10px; font-family: 'DejaVu Sans', sans-serif; text-anchor: middle" x="201.441176" y="18.967371" transform="rotate(-0 201.441176 18.967371)">250</text>
</g>
</g>
<g id="xtick_5">
<g id="line2d_5">
<g>
<use href="#m92da7aff10" x="255.364706" y="28.047059" style="stroke: #000000; stroke-width: 0.8"/>
</g>
</g>
<g id="text_5" transform="translate(0 0.2824)">
<text style="font-size: 10px; font-family: 'DejaVu Sans', sans-serif; text-anchor: middle" x="255.364706" y="18.967371" transform="rotate(-0 255.364706 18.967371)">300</text>
</g>
</g>
<g id="xtick_6">
<g id="line2d_6">
<g>
<use href="#m92da7aff10" x="309.288235" y="28.047059" style="stroke: #000000; stroke-width: 0.8"/>
</g>
</g>
<g id="text_6" transform="translate(0 0.2824)">
<text style="font-size: 10px; font-family: 'DejaVu Sans', sans-serif; text-anchor: middle" x="309.288235" y="18.967371" transform="rotate(-0 309.288235 18.967371)">350</text>
</g>
</g>
<g id="xtick_7">
<g id="line2d_7">
<g>
<use href="#m92da7aff10" x="363.211765" y="28.047059" style="stroke: #000000; stroke-width: 0.8"/>
</g>
</g>
<g id="text_7" transform="translate(0 0.2824)">
<text style="font-size: 10px; font-family: 'DejaVu Sans', sans-serif; text-anchor: middle" x="363.211765" y="18.967371" transform="rotate(-0 363.211765 18.967371)">400</text>
</g>
</g>
<g id="xtick_8">
<g id="line2d_8">
<g>
<use href="#m92da7aff10" x="417.135294" y="28.047059" style="stroke: #000000; stroke-width: 0.8"/>
</g>
</g>
<g id="text_8" transform="translate(0 0.2824)">
<text style="font-size: 10px; font-family: 'DejaVu Sans', sans-serif; text-anchor: middle" x="417.135294" y="18.967371" transform="rotate(-0 417.135294 18.967371)">450</text>
</g>
</g>
<g id="xtick_9">
<g id="line2d_9">
<g>
<use href="#m92da7aff10" x="471.058824" y="28.047059" style="stroke: #000000; stroke-width: 0.8"/>
</g>
</g>
<g id="text_9" transform="translate(0 0.2824)">
<text style="font-size: 10px; font-family: 'DejaVu Sans', sans-serif; text-anchor: middle" x="471.058824" y="18.967371" transform="rotate(-0 471.058824 18.967371)">500</text>
</g>
</g>
<g id="text_10" transform="translate(0 0.2824)">
<text style="font-size: 10px; font-family: 'DejaVu Sans', sans-serif; text-anchor: middle" x="255.364706" y="7.368934" transform="rotate(-0 255.364706 7.368934)">Pixel (Dispersion)</text>
</g>
</g>
<g id="matplotlib.axis_2">
<g id="ytick_1">
<g id="line2d_10">
<defs>
<path id="m5d545ce8f8" d="M 0 0
L -3.5 0
" style="stroke: #000000; stroke-width: 0.8"/>
</defs>
<g>
<use href="#m5d545ce8f8" x="39.670588" y="227.557423" style="stroke: #000000; stroke-width: 0.8"/>
</g>
</g>
<g id="text_11" transform="translate(0 0.2824)">
<text style="font-size: 10px; font-family: 'DejaVu Sans', sans-serif; text-anchor: end" x="32.670588" y="231.356642" transform="rotate(-0 32.670588 231.356642)">140</text>
</g>
</g>
<g id="ytick_2">
<g id="line2d_11">
<g>
<use href="#m5d545ce8f8" x="39.670588" y="203.226891" style="stroke: #000000; stroke-width: 0.8"/>
</g>
</g>
<g id="text_12" transform="translate(0 0.2824)">
<text style="font-size: 10px; font-family: 'DejaVu Sans', sans-serif; text-anchor: end" x="32.670588" y="207.02611" transform="rotate(-0 32.670588 207.02611)">145</text>
</g>
</g>
<g id="ytick_3">
<g id="line2d_12">
<g>
<use href="#m5d545ce8f8" x="39.670588" y="178.896359" style="stroke: #000000; stroke-width: 0.8"/>
</g>
</g>
<g id="text_13" transform="translate(0 0.2824)">
<text style="font-size: 10px; font-family: 'DejaVu Sans', sans-serif; text-anchor: end" x="32.670588" y="182.695577" transform="rotate(-0 32.670588 182.695577)">150</text>
</g>
</g>
<g id="ytick_4">
<g id="line2d_13">
<g>
<use href="#m5d545ce8f8" x="39.670588" y="154.565826" style="stroke: #000000; stroke-width: 0.8"/>
</g>
</g>
<g id="text_14" transform="translate(0 0.2824)">
<text style="font-size: 10px; font-family: 'DejaVu Sans', sans-serif; text-anchor: end" x="32.670588" y="158.365045" transform="rotate(-0 32.670588 158.365045)">155</text>
</g>
</g>
<g id="ytick_5">
<g id="line2d_14">
<g>
<use href="#m5d545ce8f8" x="39.670588" y="130.235294" style="stroke: #000000; stroke-width: 0.8"/>
</g>
</g>
<g id="text_15" transform="translate(0 0.2824)">
<text style="font-size: 10px; font-family: 'DejaVu Sans', sans-serif; text-anchor: end" x="32.670588" y="134.034513" transform="rotate(-0 32.670588 134.034513)">160</text>
</g>
</g>
<g id="ytick_6">
<g id="line2d_15">
<g>
<use href="#m5d545ce8f8" x="39.670588" y="105.904762" style="stroke: #000000; stroke-width: 0.8"/>
</g>
</g>
<g id="text_16" transform="translate(0 0.2824)">
<text style="font-size: 10px; font-family: 'DejaVu Sans', sans-serif; text-anchor: end" x="32.670588" y="109.703981" transform="rotate(-0 32.670588 109.703981)">165</text>
</g>
</g>
<g id="ytick_7">
<g id="line2d_16">
<g>
<use href="#m5d545ce8f8" x="39.670588" y="81.57423" style="stroke: #000000; stroke-width: 0.8"/>
</g>
</g>
<g id="text_17" transform="translate(0 0.2824)">
<text style="font-size: 10px; font-family: 'DejaVu Sans', sans-serif; text-anchor: end" x="32.670588" y="85.373448" transform="rotate(-0 32.670588 85.373448)">170</text>
</g>
</g>
<g id="ytick_8">
<g id="line2d_17">
<g>
<use href="#m5d545ce8f8" x="39.670588" y="57.243697" style="stroke: #000000; stroke-width: 0.8"/>
</g>
</g>
<g id="text_18" transform="translate(0 0.2824)">
<text style="font-size: 10px; font-family: 'DejaVu Sans', sans-serif; text-anchor: end" x="32.670588" y="61.042916" transform="rotate(-0 32.670588 61.042916)">175</text>
</g>
</g>
<g id="ytick_9">
<g id="line2d_18">
<g>
<use href="#m5d545ce8f8" x="39.670588" y="32.913165" style="stroke: #000000; stroke-width: 0.8"/>
</g>
</g>
<g id="text_19" transform="translate(0 0.2824)">
<text style="font-size: 10px; font-family: 'DejaVu Sans', sans-serif; text-anchor: end" x="32.670588" y="36.712384" transform="rotate(-0 32.670588 36.712384)">180</text>
</g>
</g>
<g id="text_20" transform="translate(0 0.2824)">
<text style="font-size: 10px; font-family: 'DejaVu Sans', sans-serif; text-anchor: middle" x="7.503401" y="130.235294" transform="rotate(-90 7.503401 130.235294)">Pixel (Spatial)</text>
</g>
</g>
<g id="patch_3">
<path d="M 147.517647 227.557423
L 255.364706 227.557423
L 255.364706 32.913165
L 147.517647 32.913165
L 147.517647 227.557423
z
" clip-path="url(#pfa5c874147)" style="fill: none; stroke: #c0c0c0; stroke-width: 2.5; stroke-linejoin: miter"/>
</g>
<g id="patch_4">
<path d="M 201.441176 227.557423
L 309.288235 227.557423
L 309.288235 32.913165
L 201.441176 32.913165
L 201.441176 227.557423
z
" clip-path="url(#pfa5c874147)" style="fill: none; stroke: #808080; stroke-width: 2; stroke-linejoin: miter"/>
</g>
<g id="patch_5">
<path d="M 255.364706 227.557423
L 363.211765 227.557423
L 363.211765 32.913165
L 255.364706 32.913165
L 255.364706 227.557423
z
" clip-path="url(#pfa5c874147)" style="fill: none; stroke: #000000; stroke-width: 1.5; stroke-linejoin: miter"/>
</g>
<g id="patch_6">
<path d="M 39.670588 232.423529
L 39.670588 28.047059
" style="fill: none; stroke: #000000; stroke-width: 0.8; stroke-linejoin: miter; stroke-linecap: square"/>
</g>
<g id="patch_7">
<path d="M 471.058824 232.423529
L 471.058824 28.047059
" style="fill: none; stroke: #000000; stroke-width: 0.8; stroke-linejoin: miter; stroke-linecap: square"/>
</g>
<g id="patch_8">
<path d="M 39.670588 232.423529
L 471.058824 232.423529
" style="fill: none; stroke: #000000; stroke-width: 0.8; stroke-linejoin: miter; stroke-linecap: square"/>
</g>
<g id="patch_9">
<path d="M 39.670588 28.047059
L 471.058824 28.047059
" style="fill: none; stroke: #000000; stroke-width: 0.8; stroke-linejoin: miter; stroke-linecap: square"/>
</g>
</g>
<g id="axes_2">
<g id="patch_10">
<path d="M 39.717647 449.129412
L 241.317647 449.129412
L 241.317647 245.176471
L 39.717647 245.176471
z
" style="fill: #ffffff"/>
</g>
<g id="matplotlib.axis_3">
<g id="xtick_10">
<g id="line2d_19">
<defs>
<path id="m1504cfccaf" d="M 0 0
L 0 3.5
" style="stroke: #000000; stroke-width: 0.8"/>
</defs>
<g>
<use href="#m1504cfccaf" x="59.877647" y="449.129412" style="stroke: #000000; stroke-width: 0.8"/>
</g>
</g>
<g id="text_21" transform="translate(0 0.2824)">
<text style="font-size: 10px; font-family: 'DejaVu Sans', sans-serif; text-anchor: middle" x="59.877647" y="463.727849" transform="rotate(-0 59.877647 463.727849)">152.5</text>
</g>
</g>
<g id="xtick_11">
<g id="line2d_20">
<g>
<use href="#m1504cfccaf" x="93.477647" y="449.129412" style="stroke: #000000; stroke-width: 0.8"/>
</g>
</g>
<g id="text_22" transform="translate(0 0.2824)">
<text style="font-size: 10px; font-family: 'DejaVu Sans', sans-serif; text-anchor: middle" x="93.477647" y="463.727849" transform="rotate(-0 93.477647 463.727849)">155.0</text>
</g>
</g>
<g id="xtick_12">
<g id="line2d_21">
<g>
<use href="#m1504cfccaf" x="127.077647" y="449.129412" style="stroke: #000000; stroke-width: 0.8"/>
</g>
</g>
<g id="text_23" transform="translate(0 0.2824)">
<text style="font-size: 10px; font-family: 'DejaVu Sans', sans-serif; text-anchor: middle" x="127.077647" y="463.727849" transform="rotate(-0 127.077647 463.727849)">157.5</text>
</g>
</g>
<g id="xtick_13">
<g id="line2d_22">
<g>
<use href="#m1504cfccaf" x="160.677647" y="449.129412" style="stroke: #000000; stroke-width: 0.8"/>
</g>
</g>
<g id="text_24" transform="translate(0 0.2824)">
<text style="font-size: 10px; font-family: 'DejaVu Sans', sans-serif; text-anchor: middle" x="160.677647" y="463.727849" transform="rotate(-0 160.677647 463.727849)">160.0</text>
</g>
</g>
<g id="xtick_14">
<g id="line2d_23">
<g>
<use href="#m1504cfccaf" x="194.277647" y="449.129412" style="stroke: #000000; stroke-width: 0.8"/>
</g>
</g>
<g id="text_25" transform="translate(0 0.2824)">
<text style="font-size: 10px; font-family: 'DejaVu Sans', sans-serif; text-anchor: middle" x="194.277647" y="463.727849" transform="rotate(-0 194.277647 463.727849)">162.5</text>
</g>
</g>
<g id="xtick_15">
<g id="line2d_24">
<g>
<use href="#m1504cfccaf" x="227.877647" y="449.129412" style="stroke: #000000; stroke-width: 0.8"/>
</g>
</g>
<g id="text_26" transform="translate(0 0.2824)">
<text style="font-size: 10px; font-family: 'DejaVu Sans', sans-serif; text-anchor: middle" x="227.877647" y="463.727849" transform="rotate(-0 227.877647 463.727849)">165.0</text>
</g>
</g>
<g id="text_27" transform="translate(0 0.2824)">
<text style="font-size: 10px; font-family: 'DejaVu Sans', sans-serif; text-anchor: middle" x="140.517647" y="477.405974" transform="rotate(-0 140.517647 477.405974)">Pixel (Spatial)</text>
</g>
</g>
<g id="matplotlib.axis_4">
<g id="text_28" transform="translate(0 0.2824)">
<!-- Normalised e$^{-}$ count -->
<g transform="translate(30.13796 399.102941) rotate(-90)">
<text>
<tspan x="0" y="-0.40625" style="font-size: 10px; font-family: 'DejaVu Sans', sans-serif">N</tspan>
<tspan x="7.480469" y="-0.40625" style="font-size: 10px; font-family: 'DejaVu Sans', sans-serif">o</tspan>
<tspan x="13.598633" y="-0.40625" style="font-size: 10px; font-family: 'DejaVu Sans', sans-serif">r</tspan>
<tspan x="17.709961" y="-0.40625" style="font-size: 10px; font-family: 'DejaVu Sans', sans-serif">m</tspan>
<tspan x="27.451172" y="-0.40625" style="font-size: 10px; font-family: 'DejaVu Sans', sans-serif">a</tspan>
<tspan x="33.579102" y="-0.40625" style="font-size: 10px; font-family: 'DejaVu Sans', sans-serif">l</tspan>
<tspan x="36.357422" y="-0.40625" style="font-size: 10px; font-family: 'DejaVu Sans', sans-serif">i</tspan>
<tspan x="39.135742" y="-0.40625" style="font-size: 10px; font-family: 'DejaVu Sans', sans-serif">s</tspan>
<tspan x="44.345703" y="-0.40625" style="font-size: 10px; font-family: 'DejaVu Sans', sans-serif">e</tspan>
<tspan x="50.498047" y="-0.40625" style="font-size: 10px; font-family: 'DejaVu Sans', sans-serif">d</tspan>
<tspan x="56.845703" y="-0.40625" style="font-size: 10px; font-family: 'DejaVu Sans', sans-serif"> </tspan>
<tspan x="60.024414" y="-0.40625" style="font-size: 10px; font-family: 'DejaVu Sans', sans-serif">e</tspan>
<tspan x="72.411133" y="-0.40625" style="font-size: 10px; font-family: 'DejaVu Sans', sans-serif"> </tspan>
<tspan x="75.589844" y="-0.40625" style="font-size: 10px; font-family: 'DejaVu Sans', sans-serif">c</tspan>
<tspan x="81.087891" y="-0.40625" style="font-size: 10px; font-family: 'DejaVu Sans', sans-serif">o</tspan>
<tspan x="87.206055" y="-0.40625" style="font-size: 10px; font-family: 'DejaVu Sans', sans-serif">u</tspan>
<tspan x="93.543945" y="-0.40625" style="font-size: 10px; font-family: 'DejaVu Sans', sans-serif">n</tspan>
<tspan x="99.881836" y="-0.40625" style="font-size: 10px; font-family: 'DejaVu Sans', sans-serif">t</tspan>
<tspan x="66.272461" y="-4.234375" style="font-size: 7px; font-family: 'DejaVu Sans', sans-serif">−</tspan>
</text>
</g>
</g>
</g>
<g id="line2d_25">
<path d="M 39.717647 446.258824
L 53.157647 446.070588
L 66.597647 445.552941
L 80.037647 444.941176
L 93.477647 443.764706
L 106.917647 440.705882
L 120.357647 433.082353
L 133.797647 406.823529
L 147.237647 336.470588
L 160.677647 261.176471
L 174.117647 254.917647
L 187.557647 300.470588
L 200.997647 358.870588
L 214.437647 408.564706
L 227.877647 432.141176
L 241.317647 440.141176
" clip-path="url(#pbf3451f8c8)" style="fill: none; stroke: #c0c0c0; stroke-width: 1.5; stroke-linecap: square"/>
</g>
<g id="line2d_26">
<path d="M 39.717647 445.552941
L 53.157647 445.035294
L 66.597647 444.047059
L 80.037647 441.694118
L 93.477647 435.388235
L 106.917647 413.270588
L 120.357647 350.588235
L 133.797647 277.741176
L 147.237647 254.917647
L 160.677647 284.564706
L 174.117647 345.411765
L 187.557647 401.035294
L 200.997647 430.258824
L 214.437647 439.576471
L 227.877647 443.105882
L 241.317647 444.705882
" clip-path="url(#pbf3451f8c8)" style="fill: none; stroke: #808080; stroke-width: 1.5; stroke-linecap: square"/>
</g>
<g id="line2d_27">
<path d="M 39.717647 444.047059
L 53.157647 441.411765
L 66.597647 434.588235
L 80.037647 408.894118
L 93.477647 333.882353
L 106.917647 254.917647
L 120.357647 275.482353
L 133.797647 361.882353
L 147.237647 418.117647
L 160.677647 436.423529
L 174.117647 442.258824
L 187.557647 444.376471
L 200.997647 445.411765
L 214.437647 445.976471
L 227.877647 446.494118
L 241.317647 446.823529
" clip-path="url(#pbf3451f8c8)" style="fill: none; stroke: #000000; stroke-width: 1.5; stroke-linecap: square"/>
</g>
<g id="LineCollection_1">
<path d="M 106.917647 447.388235
L 106.917647 246.588235
" clip-path="url(#pbf3451f8c8)" style="fill: none; stroke-dasharray: 1.5,2.4615; stroke-dashoffset: 0; stroke: #000000; stroke-width: 1.5"/>
</g>
<g id="LineCollection_2">
<path d="M 147.237647 447.388235
L 147.237647 246.588235
" clip-path="url(#pbf3451f8c8)" style="fill: none; stroke-dasharray: 1.5,2.4615; stroke-dashoffset: 0; stroke: #808080; stroke-width: 1.5"/>
</g>
<g id="LineCollection_3">
<path d="M 174.117647 447.388235
L 174.117647 246.588235
" clip-path="url(#pbf3451f8c8)" style="fill: none; stroke-dasharray: 1.5,2.4615; stroke-dashoffset: 0; stroke: #c0c0c0; stroke-width: 1.5"/>
</g>
<g id="patch_11">
<path d="M 39.717647 449.129412
L 39.717647 245.176471
" style="fill: none; stroke: #000000; stroke-width: 0.8; stroke-linejoin: miter; stroke-linecap: square"/>
</g>
<g id="patch_12">
<path d="M 241.317647 449.129412
L 241.317647 245.176471
" style="fill: none; stroke: #000000; stroke-width: 0.8; stroke-linejoin: miter; stroke-linecap: square"/>
</g>
<g id="patch_13">
<path d="M 39.717647 449.129412
L 241.317647 449.129412
" style="fill: none; stroke: #000000; stroke-width: 0.8; stroke-linejoin: miter; stroke-linecap: square"/>
</g>
<g id="patch_14">
<path d="M 39.717647 245.176471
L 241.317647 245.176471
" style="fill: none; stroke: #000000; stroke-width: 0.8; stroke-linejoin: miter; stroke-linecap: square"/>
</g>
</g>
<g id="axes_3">
<g id="patch_15">
<path d="M 269.647059 449.129412
L 471.152941 449.129412
L 471.152941 245.176471
L 269.647059 245.176471
z
" style="fill: #ffffff"/>
</g>
<g id="matplotlib.axis_5">
<g id="xtick_16">
<g id="line2d_28">
<g>
<use href="#m1504cfccaf" x="292.036601" y="449.129412" style="stroke: #000000; stroke-width: 0.8"/>
</g>
</g>
<g id="text_29" transform="translate(0 0.2824)">
<text style="font-size: 10px; font-family: 'DejaVu Sans', sans-serif; text-anchor: middle" x="292.036601" y="463.727849" transform="rotate(-0 292.036601 463.727849)">−10</text>
</g>
</g>
<g id="xtick_17">
<g id="line2d_29">
<g>
<use href="#m1504cfccaf" x="348.010458" y="449.129412" style="stroke: #000000; stroke-width: 0.8"/>
</g>
</g>
<g id="text_30" transform="translate(0 0.2824)">
<text style="font-size: 10px; font-family: 'DejaVu Sans', sans-serif; text-anchor: middle" x="348.010458" y="463.727849" transform="rotate(-0 348.010458 463.727849)">−5</text>
</g>
</g>
<g id="xtick_18">
<g id="line2d_30">
<g>
<use href="#m1504cfccaf" x="403.984314" y="449.129412" style="stroke: #000000; stroke-width: 0.8"/>
</g>
</g>
<g id="text_31" transform="translate(0 0.2824)">
<text style="font-size: 10px; font-family: 'DejaVu Sans', sans-serif; text-anchor: middle" x="403.984314" y="463.727849" transform="rotate(-0 403.984314 463.727849)">0</text>
</g>
</g>
<g id="xtick_19">
<g id="line2d_31">
<g>
<use href="#m1504cfccaf" x="459.95817" y="449.129412" style="stroke: #000000; stroke-width: 0.8"/>
</g>
</g>
<g id="text_32" transform="translate(0 0.2824)">
<text style="font-size: 10px; font-family: 'DejaVu Sans', sans-serif; text-anchor: middle" x="459.95817" y="463.727849" transform="rotate(-0 459.95817 463.727849)">5</text>
</g>
</g>
<g id="text_33" transform="translate(0 0.2824)">
<text style="font-size: 10px; font-family: 'DejaVu Sans', sans-serif; text-anchor: middle" x="370.4" y="477.405974" transform="rotate(-0 370.4 477.405974)">Pixel shift</text>
</g>
</g>
<g id="matplotlib.axis_6">
<g id="text_34" transform="translate(0 0.2824)">
<text style="font-size: 10px; font-family: 'DejaVu Sans', sans-serif; text-anchor: middle" x="260.067371" y="347.152941" transform="rotate(-90 260.067371 347.152941)">Cross-correlated value</text>
</g>
</g>
<g id="line2d_32">
<path d="M 269.647059 446.317772
L 280.84183 445.730986
L 292.036601 444.487247
L 303.231373 441.678515
L 314.426144 435.684151
L 325.620915 423.588301
L 336.815686 401.074147
L 348.010458 365.408371
L 359.205229 319.931095
L 370.4 276.91259
L 381.594771 254.350788
L 392.789542 263.75586
L 403.984314 300.274579
L 415.179085 347.278698
L 426.373856 388.381723
L 437.568627 415.814724
L 448.763399 430.838196
L 459.95817 439.529412
L 471.152941 442.635294
" clip-path="url(#p520514d533)" style="fill: none; stroke: #c0c0c0; stroke-width: 2; stroke-linecap: square"/>
</g>
<g id="line2d_33">
<path d="M 269.647059 446.317772
L 280.84183 445.730986
L 292.036601 444.487247
L 303.231373 441.678515
L 314.426144 435.684151
L 325.620915 423.588301
L 336.815686 401.074147
L 348.010458 365.408371
L 359.205229 319.931095
L 370.4 276.91259
L 381.594771 254.350788
L 392.789542 263.75586
L 403.984314 300.274579
L 415.179085 347.278698
L 426.373856 388.381723
L 437.568627 415.814724
L 448.763399 430.838196
L 459.95817 439.529412
L 471.152941 442.635294
" clip-path="url(#p520514d533)" style="fill: none; stroke-dasharray: 6,6; stroke-dashoffset: 6; stroke: #808080; stroke-width: 2"/>
</g>
<g id="line2d_34">
<path d="M 269.647059 446.395495
L 280.84183 445.593731
L 292.036601 443.660108
L 303.231373 439.883106
L 314.426144 432.54206
L 325.620915 417.757871
L 336.815686 390.683961
L 348.010458 350.997674
L 359.205229 308.894323
L 370.4 284.235294
L 381.594771 289.694118
L 392.789542 324.470588
L 403.984314 369.882353
L 415.179085 406.117647
L 426.373856 428.705882
L 437.568627 438.729412
L 448.763399 442.823529
L 459.95817 444.8
L 471.152941 446.070588
" clip-path="url(#p520514d533)" style="fill: none; stroke: #808080; stroke-width: 2; stroke-linecap: square"/>
</g>
<g id="line2d_35">
<path d="M 269.647059 446.395495
L 280.84183 445.593731
L 292.036601 443.660108
L 303.231373 439.883106
L 314.426144 432.54206
L 325.620915 417.757871
L 336.815686 390.683961
L 348.010458 350.997674
L 359.205229 308.894323
L 370.4 284.235294
L 381.594771 289.694118
L 392.789542 324.470588
L 403.984314 369.882353
L 415.179085 406.117647
L 426.373856 428.705882
L 437.568627 438.729412
L 448.763399 442.823529
L 459.95817 444.8
L 471.152941 446.070588
" clip-path="url(#p520514d533)" style="fill: none; stroke-dasharray: 6,6; stroke-dashoffset: 6; stroke: #000000; stroke-width: 2"/>
</g>
<g id="line2d_36">
<path d="M 370.4 449.129412
L 370.4 245.176471
" clip-path="url(#p520514d533)" style="fill: none; stroke-dasharray: 1.5,2.475; stroke-dashoffset: 0; stroke: #000000; stroke-width: 1.5"/>
</g>
<g id="line2d_37">
<path d="M 381.594771 449.129412
L 381.594771 245.176471
" clip-path="url(#p520514d533)" style="fill: none; stroke-dasharray: 1.5,2.475; stroke-dashoffset: 0; stroke: #808080; stroke-width: 1.5"/>
</g>
<g id="patch_16">
<path d="M 269.647059 449.129412
L 269.647059 245.176471
" style="fill: none; stroke: #000000; stroke-width: 0.8; stroke-linejoin: miter; stroke-linecap: square"/>
</g>
<g id="patch_17">
<path d="M 471.152941 449.129412
L 471.152941 245.176471
" style="fill: none; stroke: #000000; stroke-width: 0.8; stroke-linejoin: miter; stroke-linecap: square"/>
</g>
<g id="patch_18">
<path d="M 269.647059 449.129412
L 471.152941 449.129412
" style="fill: none; stroke: #000000; stroke-width: 0.8; stroke-linejoin: miter; stroke-linecap: square"/>
</g>
<g id="patch_19">
<path d="M 269.647059 245.176471
L 471.152941 245.176471
" style="fill: none; stroke: #000000; stroke-width: 0.8; stroke-linejoin: miter; stroke-linecap: square"/>
</g>
<g id="legend_1">
<g id="patch_20">
<path d="M 303.285754 444.129412
L 464.152941 444.129412
Q 466.152941 444.129412 466.152941 442.129412
L 466.152941 413.773162
Q 466.152941 411.773162 464.152941 411.773162
L 303.285754 411.773162
Q 301.285754 411.773162 301.285754 413.773162
L 301.285754 442.129412
Q 301.285754 444.129412 303.285754 444.129412
z
" style="fill: #ffffff; opacity: 0.9; stroke: #cccccc; stroke-linejoin: miter"/>
</g>
<g id="line2d_38">
<path d="M 305.285754 419.871599
L 315.285754 419.871599
L 325.285754 419.871599
" style="fill: none; stroke-dasharray: 6,6; stroke-dashoffset: 0; stroke: #808080; stroke-width: 2"/>
</g>
<g id="text_35" transform="translate(0 0.2824)">
<text style="font-size: 10px; font-family: 'DejaVu Sans', sans-serif; text-anchor: start" x="333.285754" y="423.371599" transform="rotate(-0 333.285754 423.371599)">Darkgrey rel. to Lightgrey</text>
</g>
<g id="line2d_39">
<path d="M 305.285754 434.549724
L 315.285754 434.549724
L 325.285754 434.549724
" style="fill: none; stroke-dasharray: 6,6; stroke-dashoffset: 0; stroke: #000000; stroke-width: 2"/>
</g>
<g id="text_36" transform="translate(0 0.2824)">
<text style="font-size: 10px; font-family: 'DejaVu Sans', sans-serif; text-anchor: start" x="333.285754" y="438.049724" transform="rotate(-0 333.285754 438.049724)">Black rel. to Darkgrey</text>
</g>
</g>
</g>
</g>
<defs>
<clipPath id="pfa5c874147">
<rect x="39.670588" y="28.047059" width="431.388235" height="204.376471"/>
</clipPath>
<clipPath id="pbf3451f8c8">
<rect x="39.717647" y="245.176471" width="201.6" height="203.952941"/>
</clipPath>
<clipPath id="p520514d533">
<rect x="269.647059" y="245.176471" width="201.505882" height="203.952941"/>
</clipPath>
</defs>
</svg>

</body></html>
